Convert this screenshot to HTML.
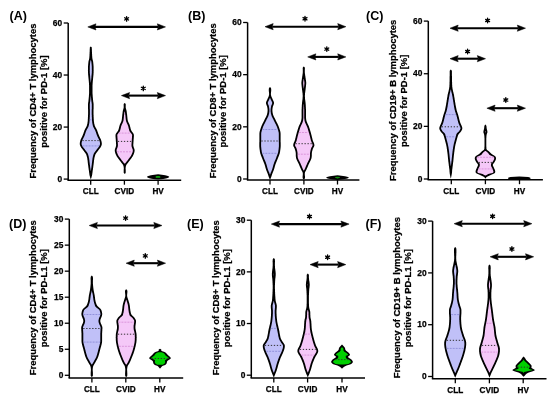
<!DOCTYPE html>
<html><head><meta charset="utf-8"><style>
html,body{margin:0;padding:0;background:#fff;}
svg{display:block;will-change:transform;}
</style></head><body>
<svg width="550" height="401" viewBox="0 0 550 401" style="font-family:'Liberation Sans', sans-serif">
<defs><filter id="bl" x="-2%" y="-2%" width="104%" height="104%"><feGaussianBlur stdDeviation="0.3"/></filter></defs>
<rect width="550" height="401" fill="#fff"/>
<g filter="url(#bl)"><text x="9.5" y="20.2" font-size="12.5" font-weight="bold">(A)</text><line x1="68.2" y1="23" x2="68.2" y2="180.2" stroke="#000" stroke-width="1.5"/><line x1="67.45" y1="180.2" x2="181.2" y2="180.2" stroke="#000" stroke-width="1.5"/><line x1="63.7" y1="179.10" x2="68.2" y2="179.10" stroke="#000" stroke-width="1.3"/><text x="62.2" y="181.85" font-size="8.4" font-weight="bold" text-anchor="end" stroke="#000" stroke-width="0.25">0</text><line x1="63.7" y1="127.07" x2="68.2" y2="127.07" stroke="#000" stroke-width="1.3"/><text x="62.2" y="129.82" font-size="8.4" font-weight="bold" text-anchor="end" stroke="#000" stroke-width="0.25">20</text><line x1="63.7" y1="75.03" x2="68.2" y2="75.03" stroke="#000" stroke-width="1.3"/><text x="62.2" y="77.78" font-size="8.4" font-weight="bold" text-anchor="end" stroke="#000" stroke-width="0.25">40</text><line x1="63.7" y1="23.00" x2="68.2" y2="23.00" stroke="#000" stroke-width="1.3"/><text x="62.2" y="25.75" font-size="8.4" font-weight="bold" text-anchor="end" stroke="#000" stroke-width="0.25">60</text><line x1="90.7" y1="180.2" x2="90.7" y2="184.7" stroke="#000" stroke-width="1.3"/><text x="90.7" y="194.2" font-size="8.2" font-weight="bold" text-anchor="middle" stroke="#000" stroke-width="0.25">CLL</text><line x1="124.4" y1="180.2" x2="124.4" y2="184.7" stroke="#000" stroke-width="1.3"/><text x="124.4" y="194.2" font-size="8.2" font-weight="bold" text-anchor="middle" stroke="#000" stroke-width="0.25">CVID</text><line x1="158.1" y1="180.2" x2="158.1" y2="184.7" stroke="#000" stroke-width="1.3"/><text x="158.1" y="194.2" font-size="8.2" font-weight="bold" text-anchor="middle" stroke="#000" stroke-width="0.25">HV</text><text transform="translate(36,101) rotate(-90)" font-size="9.45" font-weight="bold" text-anchor="middle" stroke="#000" stroke-width="0.25">Frequency of CD4+ T lymphocytes</text><text transform="translate(46.8,101.5) rotate(-90)" font-size="9.45" font-weight="bold" text-anchor="middle" stroke="#000" stroke-width="0.25">positive for PD-1 [%]</text><line x1="95.0" y1="26.9" x2="158.3" y2="26.9" stroke="#000" stroke-width="2.1"/><path d="M87.8,26.9 L96.0,23.799999999999997 L95.0,26.9 L96.0,30.0 Z" fill="#000" stroke="#000" stroke-width="0.5" stroke-linejoin="round"/><path d="M165.5,26.9 L157.3,23.799999999999997 L158.3,26.9 L157.3,30.0 Z" fill="#000" stroke="#000" stroke-width="0.5" stroke-linejoin="round"/><path d="M126.60,16.65L126.60,21.15M124.65,17.77L128.55,20.02M128.55,17.77L124.65,20.02" stroke="#000" stroke-width="1.35" stroke-linecap="round"/><circle cx="126.6" cy="18.9" r="0.9" fill="#000"/><line x1="128.6" y1="95.6" x2="158.3" y2="95.6" stroke="#000" stroke-width="2.1"/><path d="M121.4,95.6 L129.6,92.5 L128.6,95.6 L129.6,98.69999999999999 Z" fill="#000" stroke="#000" stroke-width="0.5" stroke-linejoin="round"/><path d="M165.5,95.6 L157.3,92.5 L158.3,95.6 L157.3,98.69999999999999 Z" fill="#000" stroke="#000" stroke-width="0.5" stroke-linejoin="round"/><path d="M143.30,86.15L143.30,90.65M141.35,87.28L145.25,89.53M145.25,87.28L141.35,89.53" stroke="#000" stroke-width="1.35" stroke-linecap="round"/><circle cx="143.3" cy="88.4" r="0.9" fill="#000"/><path d="M90.8,46.4L91.4,46.9L91.8,47.4L91.8,47.9L91.8,48.4L91.8,48.9L91.9,49.4L91.9,49.9L91.9,50.4L91.9,50.9L91.9,51.4L92.0,51.9L92.0,52.4L92.0,52.9L92.0,53.4L92.1,53.9L92.1,54.4L92.1,54.9L92.1,55.4L92.2,55.9L92.2,56.4L92.2,56.9L92.3,57.4L92.3,57.9L92.4,58.4L92.5,58.9L92.6,59.4L92.7,59.9L92.9,60.4L93.0,60.9L93.1,61.4L93.2,61.9L93.2,62.4L93.3,62.9L93.3,63.4L93.4,63.9L93.4,64.4L93.5,64.9L93.5,65.4L93.5,65.9L93.6,66.4L93.6,66.9L93.6,67.4L93.6,67.9L93.6,68.4L93.6,68.9L93.6,69.4L93.6,69.9L93.7,70.4L93.6,70.9L93.6,71.4L93.6,71.9L93.6,72.4L93.6,72.9L93.5,73.4L93.5,73.9L93.5,74.4L93.4,74.9L93.4,75.4L93.3,75.9L93.3,76.4L93.2,76.9L93.2,77.4L93.1,77.9L93.1,78.4L93.0,78.9L93.0,79.4L92.9,79.9L92.9,80.4L92.8,80.9L92.8,81.4L92.7,81.9L92.7,82.4L92.7,82.9L92.6,83.4L92.6,83.9L92.6,84.4L92.5,84.9L92.5,85.4L92.5,85.9L92.5,86.4L92.5,86.9L92.5,87.4L92.5,87.9L92.5,88.4L92.5,88.9L92.5,89.4L92.5,89.9L92.5,90.4L92.5,90.9L92.5,91.4L92.5,91.9L92.5,92.4L92.5,92.9L92.5,93.4L92.6,93.9L92.6,94.4L92.6,94.9L92.7,95.4L92.7,95.9L92.7,96.4L92.8,96.9L92.8,97.4L92.9,97.9L92.9,98.4L93.0,98.9L93.0,99.4L93.1,99.9L93.1,100.4L93.2,100.9L93.2,101.4L93.3,101.9L93.4,102.4L93.5,102.9L93.5,103.4L93.6,103.9L93.6,104.4L93.6,104.9L93.6,105.4L93.6,105.9L93.6,106.4L93.6,106.9L93.6,107.4L93.6,107.9L93.6,108.4L93.6,108.9L93.5,109.4L93.5,109.9L93.5,110.4L93.5,110.9L93.5,111.4L93.5,111.9L93.5,112.4L93.5,112.9L93.5,113.4L93.5,113.9L93.5,114.4L93.6,114.9L93.6,115.4L93.6,115.9L93.6,116.4L93.6,116.9L93.7,117.4L93.7,117.9L93.7,118.4L93.7,118.9L93.8,119.4L93.8,119.9L93.8,120.4L93.9,120.9L93.9,121.4L94.0,121.9L94.1,122.4L94.1,122.9L94.2,123.4L94.3,123.9L94.5,124.4L94.6,124.9L94.7,125.4L94.9,125.9L95.1,126.4L95.4,126.9L95.6,127.4L95.9,127.9L96.2,128.4L96.5,128.9L96.7,129.4L97.0,129.9L97.2,130.4L97.3,130.9L97.5,131.4L97.7,131.9L97.9,132.4L98.0,132.9L98.2,133.4L98.4,133.9L98.6,134.4L98.8,134.9L99.0,135.4L99.2,135.9L99.4,136.4L99.7,136.9L99.9,137.4L100.2,137.9L100.4,138.4L100.7,138.9L100.9,139.4L101.1,139.9L101.2,140.4L101.4,140.9L101.5,141.4L101.6,141.9L101.7,142.4L101.8,142.9L101.8,143.4L101.8,143.9L101.8,144.4L101.6,144.9L101.5,145.4L101.3,145.9L101.0,146.4L100.8,146.9L100.5,147.4L100.1,147.9L99.7,148.4L99.3,148.9L98.9,149.4L98.6,149.9L98.2,150.4L97.8,150.9L97.5,151.4L97.1,151.9L96.7,152.4L96.3,152.9L96.0,153.4L95.7,153.9L95.4,154.4L95.2,154.9L95.1,155.4L94.9,155.9L94.8,156.4L94.7,156.9L94.5,157.4L94.4,157.9L94.3,158.4L94.3,158.9L94.2,159.4L94.1,159.9L94.0,160.4L94.0,160.9L93.9,161.4L93.9,161.9L93.8,162.4L93.8,162.9L93.7,163.4L93.6,163.9L93.6,164.4L93.5,164.9L93.4,165.4L93.4,165.9L93.3,166.4L93.2,166.9L93.2,167.4L93.1,167.9L93.0,168.4L93.0,168.9L92.9,169.4L92.8,169.9L92.7,170.4L92.7,170.9L92.6,171.4L92.5,171.9L92.5,172.4L92.4,172.9L92.3,173.4L92.3,173.9L92.2,174.4L92.1,174.9L92.0,175.4L91.9,175.9L91.7,176.4L91.6,176.9L91.5,177.4L91.3,177.9L91.1,178.4L91.0,178.9L90.8,179.5L90.8,179.5L90.6,178.9L90.5,178.4L90.3,177.9L90.1,177.4L90.0,176.9L89.9,176.4L89.7,175.9L89.6,175.4L89.5,174.9L89.4,174.4L89.3,173.9L89.3,173.4L89.2,172.9L89.1,172.4L89.1,171.9L89.0,171.4L88.9,170.9L88.9,170.4L88.8,169.9L88.7,169.4L88.6,168.9L88.6,168.4L88.5,167.9L88.4,167.4L88.4,166.9L88.3,166.4L88.2,165.9L88.2,165.4L88.1,164.9L88.0,164.4L88.0,163.9L87.9,163.4L87.8,162.9L87.8,162.4L87.7,161.9L87.7,161.4L87.6,160.9L87.6,160.4L87.5,159.9L87.4,159.4L87.3,158.9L87.3,158.4L87.2,157.9L87.1,157.4L86.9,156.9L86.8,156.4L86.7,155.9L86.5,155.4L86.4,154.9L86.2,154.4L85.9,153.9L85.6,153.4L85.3,152.9L84.9,152.4L84.5,151.9L84.1,151.4L83.8,150.9L83.4,150.4L83.0,149.9L82.7,149.4L82.3,148.9L81.9,148.4L81.5,147.9L81.1,147.4L80.8,146.9L80.6,146.4L80.3,145.9L80.1,145.4L80.0,144.9L79.8,144.4L79.8,143.9L79.8,143.4L79.8,142.9L79.9,142.4L80.0,141.9L80.1,141.4L80.2,140.9L80.4,140.4L80.5,139.9L80.7,139.4L80.9,138.9L81.2,138.4L81.4,137.9L81.7,137.4L81.9,136.9L82.2,136.4L82.4,135.9L82.6,135.4L82.8,134.9L83.0,134.4L83.2,133.9L83.4,133.4L83.6,132.9L83.7,132.4L83.9,131.9L84.1,131.4L84.3,130.9L84.4,130.4L84.6,129.9L84.9,129.4L85.1,128.9L85.4,128.4L85.7,127.9L86.0,127.4L86.2,126.9L86.5,126.4L86.7,125.9L86.9,125.4L87.0,124.9L87.1,124.4L87.3,123.9L87.4,123.4L87.5,122.9L87.5,122.4L87.6,121.9L87.7,121.4L87.7,120.9L87.8,120.4L87.8,119.9L87.8,119.4L87.9,118.9L87.9,118.4L87.9,117.9L87.9,117.4L88.0,116.9L88.0,116.4L88.0,115.9L88.0,115.4L88.0,114.9L88.1,114.4L88.1,113.9L88.1,113.4L88.1,112.9L88.1,112.4L88.1,111.9L88.1,111.4L88.1,110.9L88.1,110.4L88.1,109.9L88.1,109.4L88.0,108.9L88.0,108.4L88.0,107.9L88.0,107.4L88.0,106.9L88.0,106.4L88.0,105.9L88.0,105.4L88.0,104.9L88.0,104.4L88.0,103.9L88.1,103.4L88.1,102.9L88.2,102.4L88.3,101.9L88.4,101.4L88.4,100.9L88.5,100.4L88.5,99.9L88.6,99.4L88.6,98.9L88.7,98.4L88.7,97.9L88.8,97.4L88.8,96.9L88.9,96.4L88.9,95.9L88.9,95.4L89.0,94.9L89.0,94.4L89.0,93.9L89.1,93.4L89.1,92.9L89.1,92.4L89.1,91.9L89.1,91.4L89.1,90.9L89.1,90.4L89.1,89.9L89.1,89.4L89.1,88.9L89.1,88.4L89.1,87.9L89.1,87.4L89.1,86.9L89.1,86.4L89.1,85.9L89.1,85.4L89.1,84.9L89.0,84.4L89.0,83.9L89.0,83.4L88.9,82.9L88.9,82.4L88.9,81.9L88.8,81.4L88.8,80.9L88.7,80.4L88.7,79.9L88.6,79.4L88.6,78.9L88.5,78.4L88.5,77.9L88.4,77.4L88.4,76.9L88.3,76.4L88.3,75.9L88.2,75.4L88.2,74.9L88.1,74.4L88.1,73.9L88.1,73.4L88.0,72.9L88.0,72.4L88.0,71.9L88.0,71.4L88.0,70.9L87.9,70.4L88.0,69.9L88.0,69.4L88.0,68.9L88.0,68.4L88.0,67.9L88.0,67.4L88.0,66.9L88.0,66.4L88.1,65.9L88.1,65.4L88.1,64.9L88.2,64.4L88.2,63.9L88.3,63.4L88.3,62.9L88.4,62.4L88.4,61.9L88.5,61.4L88.6,60.9L88.7,60.4L88.9,59.9L89.0,59.4L89.1,58.9L89.2,58.4L89.3,57.9L89.3,57.4L89.4,56.9L89.4,56.4L89.4,55.9L89.5,55.4L89.5,54.9L89.5,54.4L89.5,53.9L89.6,53.4L89.6,52.9L89.6,52.4L89.6,51.9L89.7,51.4L89.7,50.9L89.7,50.4L89.7,49.9L89.7,49.4L89.8,48.9L89.8,48.4L89.8,47.9L89.8,47.4L90.2,46.9L90.8,46.4Z" fill="#000"/><path d="M90.9,59.9L91.0,60.4L91.1,60.9L91.3,61.4L91.4,61.9L91.4,62.4L91.5,62.9L91.5,63.4L91.6,63.9L91.6,64.4L91.7,64.9L91.7,65.4L91.7,65.9L91.8,66.4L91.8,66.9L91.8,67.4L91.8,67.9L91.8,68.4L91.8,68.9L91.8,69.4L91.8,69.9L91.9,70.4L91.8,70.9L91.8,71.4L91.8,71.9L91.8,72.4L91.8,72.9L91.7,73.4L91.7,73.9L91.6,74.4L91.6,74.9L91.5,75.4L91.5,75.9L91.4,76.4L91.4,76.9L91.4,77.4L91.3,77.9L91.3,78.4L91.2,78.9L91.2,79.4L91.1,79.9L91.1,80.4L91.0,80.9L91.0,81.4L90.9,81.9L90.9,82.4L90.7,82.4L90.7,81.9L90.6,81.4L90.6,80.9L90.5,80.4L90.5,79.9L90.4,79.4L90.4,78.9L90.3,78.4L90.3,77.9L90.2,77.4L90.2,76.9L90.2,76.4L90.1,75.9L90.1,75.4L90.0,74.9L90.0,74.4L89.9,73.9L89.9,73.4L89.8,72.9L89.8,72.4L89.8,71.9L89.8,71.4L89.8,70.9L89.7,70.4L89.8,69.9L89.8,69.4L89.8,68.9L89.8,68.4L89.8,67.9L89.8,67.4L89.8,66.9L89.8,66.4L89.9,65.9L89.9,65.4L89.9,64.9L90.0,64.4L90.0,63.9L90.1,63.4L90.1,62.9L90.2,62.4L90.2,61.9L90.3,61.4L90.5,60.9L90.6,60.4L90.7,59.9Z" fill="#c0c0f8"/><path d="M90.9,95.4L90.9,95.9L90.9,96.4L91.0,96.9L91.0,97.4L91.1,97.9L91.1,98.4L91.1,98.9L91.2,99.4L91.2,99.9L91.3,100.4L91.4,100.9L91.4,101.4L91.5,101.9L91.6,102.4L91.6,102.9L91.7,103.4L91.8,103.9L91.8,104.4L91.8,104.9L91.8,105.4L91.8,105.9L91.8,106.4L91.8,106.9L91.8,107.4L91.8,107.9L91.8,108.4L91.8,108.9L91.7,109.4L91.7,109.9L91.7,110.4L91.7,110.9L91.7,111.4L91.7,111.9L91.7,112.4L91.7,112.9L91.7,113.4L91.7,113.9L91.7,114.4L91.8,114.9L91.8,115.4L91.8,115.9L91.8,116.4L91.8,116.9L91.9,117.4L91.9,117.9L91.9,118.4L91.9,118.9L92.0,119.4L92.0,119.9L92.0,120.4L92.1,120.9L92.1,121.4L92.2,121.9L92.2,122.4L92.3,122.9L92.4,123.4L92.5,123.9L92.6,124.4L92.7,124.9L92.8,125.4L93.0,125.9L93.1,126.4L93.3,126.9L93.6,127.4L93.9,127.9L94.1,128.4L94.4,128.9L94.7,129.4L95.0,129.9L95.2,130.4L95.4,130.9L95.6,131.4L95.8,131.9L96.0,132.4L96.1,132.9L96.3,133.4L96.5,133.9L96.6,134.4L96.8,134.9L97.0,135.4L97.2,135.9L97.4,136.4L97.7,136.9L97.9,137.4L98.2,137.9L98.4,138.4L98.7,138.9L98.9,139.4L99.2,139.9L99.3,140.4L99.5,140.9L99.7,141.4L99.8,141.9L99.9,142.4L100.0,142.9L100.0,143.4L100.0,143.9L99.9,144.4L99.8,144.9L99.5,145.4L99.3,145.9L99.0,146.4L98.7,146.9L98.3,147.4L97.9,147.9L97.5,148.4L97.0,148.9L96.7,149.4L96.4,149.9L96.0,150.4L95.6,150.9L95.2,151.4L94.8,151.9L94.5,152.4L94.1,152.9L93.9,153.4L93.6,153.9L93.5,154.4L93.3,154.9L93.2,155.4L93.0,155.9L92.9,156.4L92.8,156.9L92.7,157.4L92.6,157.9L92.5,158.4L92.4,158.9L92.4,159.4L92.3,159.9L92.2,160.4L92.2,160.9L92.1,161.4L92.1,161.9L92.0,162.4L91.9,162.9L91.9,163.4L91.8,163.9L91.8,164.4L91.7,164.9L91.6,165.4L91.6,165.9L91.5,166.4L91.4,166.9L91.4,167.4L91.3,167.9L91.2,168.4L91.1,168.9L91.1,169.4L91.0,169.9L90.9,170.4L90.9,170.9L90.7,170.9L90.7,170.4L90.6,169.9L90.5,169.4L90.5,168.9L90.4,168.4L90.3,167.9L90.2,167.4L90.2,166.9L90.1,166.4L90.0,165.9L90.0,165.4L89.9,164.9L89.8,164.4L89.8,163.9L89.7,163.4L89.7,162.9L89.6,162.4L89.5,161.9L89.5,161.4L89.4,160.9L89.4,160.4L89.3,159.9L89.2,159.4L89.2,158.9L89.1,158.4L89.0,157.9L88.9,157.4L88.8,156.9L88.7,156.4L88.6,155.9L88.4,155.4L88.3,154.9L88.1,154.4L88.0,153.9L87.7,153.4L87.5,152.9L87.1,152.4L86.8,151.9L86.4,151.4L86.0,150.9L85.6,150.4L85.2,149.9L84.9,149.4L84.6,148.9L84.1,148.4L83.7,147.9L83.3,147.4L82.9,146.9L82.6,146.4L82.3,145.9L82.1,145.4L81.8,144.9L81.7,144.4L81.6,143.9L81.6,143.4L81.6,142.9L81.7,142.4L81.8,141.9L81.9,141.4L82.1,140.9L82.3,140.4L82.4,139.9L82.7,139.4L82.9,138.9L83.2,138.4L83.4,137.9L83.7,137.4L83.9,136.9L84.2,136.4L84.4,135.9L84.6,135.4L84.8,134.9L85.0,134.4L85.1,133.9L85.3,133.4L85.5,132.9L85.6,132.4L85.8,131.9L86.0,131.4L86.2,130.9L86.4,130.4L86.6,129.9L86.9,129.4L87.2,128.9L87.5,128.4L87.7,127.9L88.0,127.4L88.3,126.9L88.5,126.4L88.6,125.9L88.8,125.4L88.9,124.9L89.0,124.4L89.1,123.9L89.2,123.4L89.3,122.9L89.4,122.4L89.4,121.9L89.5,121.4L89.5,120.9L89.6,120.4L89.6,119.9L89.6,119.4L89.7,118.9L89.7,118.4L89.7,117.9L89.7,117.4L89.8,116.9L89.8,116.4L89.8,115.9L89.8,115.4L89.8,114.9L89.9,114.4L89.9,113.9L89.9,113.4L89.9,112.9L89.9,112.4L89.9,111.9L89.9,111.4L89.9,110.9L89.9,110.4L89.9,109.9L89.9,109.4L89.8,108.9L89.8,108.4L89.8,107.9L89.8,107.4L89.8,106.9L89.8,106.4L89.8,105.9L89.8,105.4L89.8,104.9L89.8,104.4L89.8,103.9L89.9,103.4L90.0,102.9L90.0,102.4L90.1,101.9L90.2,101.4L90.2,100.9L90.3,100.4L90.4,99.9L90.4,99.4L90.5,98.9L90.5,98.4L90.5,97.9L90.6,97.4L90.6,96.9L90.7,96.4L90.7,95.9L90.7,95.4Z" fill="#c0c0f8"/><line x1="89.81" y1="119.8" x2="91.79" y2="119.8" stroke="#8c8cd8" stroke-width="0.9" stroke-dasharray="2,1"/><line x1="82.39" y1="140.6" x2="99.21" y2="140.6" stroke="#333" stroke-width="1" stroke-dasharray="1.3,1.7"/><line x1="82.52" y1="145.9" x2="99.08" y2="145.9" stroke="#8c8cd8" stroke-width="0.9" stroke-dasharray="2,1"/><path d="M124.7,102.9L125.3,103.4L125.7,103.9L125.7,104.4L125.8,104.9L125.7,105.4L125.7,105.9L125.7,106.4L125.7,106.9L125.7,107.4L125.8,107.9L125.9,108.4L126.1,108.9L126.2,109.4L126.3,109.9L126.5,110.4L126.6,110.9L126.7,111.4L126.7,111.9L126.8,112.4L126.9,112.9L126.9,113.4L127.0,113.9L127.1,114.4L127.1,114.9L127.2,115.4L127.2,115.9L127.3,116.4L127.3,116.9L127.4,117.4L127.4,117.9L127.5,118.4L127.5,118.9L127.6,119.4L127.7,119.9L127.8,120.4L127.9,120.9L128.1,121.4L128.3,121.9L128.5,122.4L128.8,122.9L129.0,123.4L129.3,123.9L129.5,124.4L129.7,124.9L129.8,125.4L130.0,125.9L130.1,126.4L130.2,126.9L130.4,127.4L130.5,127.9L130.6,128.4L130.7,128.9L130.9,129.4L131.1,129.9L131.3,130.4L131.6,130.9L131.9,131.4L132.3,131.9L132.7,132.4L133.0,132.9L133.4,133.4L133.6,133.9L133.8,134.4L133.9,134.9L133.9,135.4L133.9,135.9L133.9,136.4L133.8,136.9L133.8,137.4L133.8,137.9L133.7,138.4L133.7,138.9L133.6,139.4L133.6,139.9L133.6,140.4L133.5,140.9L133.5,141.4L133.5,141.9L133.4,142.4L133.4,142.9L133.4,143.4L133.3,143.9L133.3,144.4L133.3,144.9L133.3,145.4L133.4,145.9L133.5,146.4L133.7,146.9L133.8,147.4L134.0,147.9L134.2,148.4L134.4,148.9L134.5,149.4L134.6,149.9L134.6,150.4L134.6,150.9L134.5,151.4L134.4,151.9L134.3,152.4L134.1,152.9L134.0,153.4L133.8,153.9L133.6,154.4L133.3,154.9L133.1,155.4L132.9,155.9L132.6,156.4L132.2,156.9L131.9,157.4L131.6,157.9L131.2,158.4L130.8,158.9L130.4,159.4L130.1,159.9L129.7,160.4L129.3,160.9L128.9,161.4L128.5,161.9L128.2,162.4L127.8,162.9L127.4,163.4L127.0,163.9L126.6,164.4L126.3,164.9L126.1,165.4L126.0,165.9L125.8,166.4L125.7,166.9L125.7,167.4L125.6,167.9L125.6,168.4L125.6,168.9L125.7,169.4L125.7,169.9L125.7,170.4L125.7,170.9L125.7,171.4L125.7,171.9L125.7,172.4L125.6,172.9L125.3,173.4L124.7,173.8L124.7,173.8L124.1,173.4L123.8,172.9L123.7,172.4L123.7,171.9L123.7,171.4L123.7,170.9L123.7,170.4L123.7,169.9L123.7,169.4L123.8,168.9L123.8,168.4L123.8,167.9L123.7,167.4L123.7,166.9L123.6,166.4L123.4,165.9L123.3,165.4L123.1,164.9L122.8,164.4L122.4,163.9L122.0,163.4L121.6,162.9L121.2,162.4L120.9,161.9L120.5,161.4L120.1,160.9L119.7,160.4L119.3,159.9L119.0,159.4L118.6,158.9L118.2,158.4L117.8,157.9L117.5,157.4L117.2,156.9L116.8,156.4L116.5,155.9L116.3,155.4L116.1,154.9L115.8,154.4L115.6,153.9L115.4,153.4L115.3,152.9L115.1,152.4L115.0,151.9L114.9,151.4L114.8,150.9L114.8,150.4L114.8,149.9L114.9,149.4L115.0,148.9L115.2,148.4L115.4,147.9L115.6,147.4L115.7,146.9L115.9,146.4L116.0,145.9L116.1,145.4L116.1,144.9L116.1,144.4L116.1,143.9L116.0,143.4L116.0,142.9L116.0,142.4L115.9,141.9L115.9,141.4L115.9,140.9L115.8,140.4L115.8,139.9L115.8,139.4L115.7,138.9L115.7,138.4L115.6,137.9L115.6,137.4L115.6,136.9L115.5,136.4L115.5,135.9L115.5,135.4L115.5,134.9L115.6,134.4L115.8,133.9L116.0,133.4L116.4,132.9L116.7,132.4L117.1,131.9L117.5,131.4L117.8,130.9L118.1,130.4L118.3,129.9L118.5,129.4L118.7,128.9L118.8,128.4L118.9,127.9L119.0,127.4L119.2,126.9L119.3,126.4L119.4,125.9L119.6,125.4L119.7,124.9L119.9,124.4L120.1,123.9L120.4,123.4L120.6,122.9L120.9,122.4L121.1,121.9L121.3,121.4L121.5,120.9L121.6,120.4L121.7,119.9L121.8,119.4L121.9,118.9L121.9,118.4L122.0,117.9L122.0,117.4L122.1,116.9L122.1,116.4L122.2,115.9L122.2,115.4L122.3,114.9L122.3,114.4L122.4,113.9L122.5,113.4L122.5,112.9L122.6,112.4L122.7,111.9L122.7,111.4L122.8,110.9L122.9,110.4L123.1,109.9L123.2,109.4L123.3,108.9L123.5,108.4L123.6,107.9L123.7,107.4L123.7,106.9L123.7,106.4L123.7,105.9L123.7,105.4L123.6,104.9L123.7,104.4L123.7,103.9L124.1,103.4L124.7,102.9Z" fill="#000"/><path d="M124.8,111.4L124.9,111.9L125.0,112.4L125.1,112.9L125.1,113.4L125.2,113.9L125.2,114.4L125.3,114.9L125.4,115.4L125.4,115.9L125.5,116.4L125.5,116.9L125.6,117.4L125.6,117.9L125.7,118.4L125.7,118.9L125.8,119.4L125.9,119.9L125.9,120.4L126.0,120.9L126.2,121.4L126.4,121.9L126.6,122.4L126.8,122.9L127.0,123.4L127.3,123.9L127.5,124.4L127.8,124.9L127.9,125.4L128.1,125.9L128.3,126.4L128.4,126.9L128.5,127.4L128.6,127.9L128.7,128.4L128.9,128.9L129.0,129.4L129.1,129.9L129.3,130.4L129.4,130.9L129.7,131.4L130.0,131.9L130.4,132.4L130.8,132.9L131.3,133.4L131.6,133.9L132.0,134.4L132.1,134.9L132.1,135.4L132.1,135.9L132.0,136.4L132.0,136.9L132.0,137.4L131.9,137.9L131.9,138.4L131.9,138.9L131.8,139.4L131.8,139.9L131.8,140.4L131.7,140.9L131.7,141.4L131.7,141.9L131.6,142.4L131.6,142.9L131.6,143.4L131.5,143.9L131.5,144.4L131.5,144.9L131.5,145.4L131.5,145.9L131.6,146.4L131.8,146.9L131.9,147.4L132.1,147.9L132.3,148.4L132.5,148.9L132.7,149.4L132.8,149.9L132.8,150.4L132.8,150.9L132.7,151.4L132.6,151.9L132.4,152.4L132.2,152.9L132.0,153.4L131.8,153.9L131.6,154.4L131.4,154.9L131.1,155.4L130.8,155.9L130.5,156.4L130.1,156.9L129.7,157.4L129.3,157.9L128.9,158.4L128.6,158.9L128.2,159.4L127.9,159.9L127.5,160.4L127.1,160.9L126.6,161.4L126.3,161.9L125.9,162.4L125.5,162.9L125.1,163.4L124.3,163.4L123.9,162.9L123.5,162.4L123.1,161.9L122.8,161.4L122.3,160.9L121.9,160.4L121.5,159.9L121.2,159.4L120.8,158.9L120.5,158.4L120.1,157.9L119.7,157.4L119.3,156.9L118.9,156.4L118.6,155.9L118.3,155.4L118.0,154.9L117.8,154.4L117.6,153.9L117.4,153.4L117.2,152.9L117.0,152.4L116.8,151.9L116.7,151.4L116.6,150.9L116.6,150.4L116.6,149.9L116.7,149.4L116.9,148.9L117.1,148.4L117.3,147.9L117.5,147.4L117.6,146.9L117.8,146.4L117.9,145.9L117.9,145.4L117.9,144.9L117.9,144.4L117.9,143.9L117.8,143.4L117.8,142.9L117.8,142.4L117.7,141.9L117.7,141.4L117.7,140.9L117.6,140.4L117.6,139.9L117.6,139.4L117.5,138.9L117.5,138.4L117.5,137.9L117.4,137.4L117.4,136.9L117.4,136.4L117.3,135.9L117.3,135.4L117.3,134.9L117.4,134.4L117.8,133.9L118.1,133.4L118.6,132.9L119.0,132.4L119.4,131.9L119.7,131.4L120.0,130.9L120.1,130.4L120.3,129.9L120.4,129.4L120.5,128.9L120.7,128.4L120.8,127.9L120.9,127.4L121.0,126.9L121.1,126.4L121.3,125.9L121.5,125.4L121.6,124.9L121.9,124.4L122.1,123.9L122.4,123.4L122.6,122.9L122.8,122.4L123.0,121.9L123.2,121.4L123.4,120.9L123.5,120.4L123.5,119.9L123.6,119.4L123.7,118.9L123.7,118.4L123.8,117.9L123.8,117.4L123.9,116.9L123.9,116.4L124.0,115.9L124.0,115.4L124.1,114.9L124.2,114.4L124.2,113.9L124.3,113.4L124.3,112.9L124.4,112.4L124.5,111.9L124.6,111.4Z" fill="#f5c8f8"/><line x1="118.60" y1="133.1" x2="130.80" y2="133.1" stroke="#d890d8" stroke-width="0.9" stroke-dasharray="2,1"/><line x1="117.90" y1="141.4" x2="131.50" y2="141.4" stroke="#333" stroke-width="1" stroke-dasharray="1.3,1.7"/><line x1="116.99" y1="151.8" x2="132.41" y2="151.8" stroke="#d890d8" stroke-width="0.9" stroke-dasharray="2,1"/><path d="M158.1,174.2L161.8,174.7L165.2,175.2L167.1,175.7L168.5,176.2L169.2,176.7L169.0,177.2L168.2,177.7L166.9,178.2L164.7,178.7L161.4,179.2L158.1,179.6L158.1,179.6L154.8,179.2L151.5,178.7L149.3,178.2L148.0,177.7L147.2,177.2L147.0,176.7L147.7,176.2L149.1,175.7L151.0,175.2L154.4,174.7L158.1,174.2Z" fill="#000"/><ellipse cx="158" cy="176.9" rx="2.6" ry="0.9" fill="#10b010"/><text x="188" y="20.2" font-size="12.5" font-weight="bold">(B)</text><line x1="247.6" y1="22.5" x2="247.6" y2="180" stroke="#000" stroke-width="1.5"/><line x1="246.85" y1="180" x2="359.4" y2="180" stroke="#000" stroke-width="1.5"/><line x1="243.1" y1="179.00" x2="247.6" y2="179.00" stroke="#000" stroke-width="1.3"/><text x="241.6" y="181.75" font-size="8.4" font-weight="bold" text-anchor="end" stroke="#000" stroke-width="0.25">0</text><line x1="243.1" y1="126.83" x2="247.6" y2="126.83" stroke="#000" stroke-width="1.3"/><text x="241.6" y="129.58" font-size="8.4" font-weight="bold" text-anchor="end" stroke="#000" stroke-width="0.25">20</text><line x1="243.1" y1="74.67" x2="247.6" y2="74.67" stroke="#000" stroke-width="1.3"/><text x="241.6" y="77.42" font-size="8.4" font-weight="bold" text-anchor="end" stroke="#000" stroke-width="0.25">40</text><line x1="243.1" y1="22.50" x2="247.6" y2="22.50" stroke="#000" stroke-width="1.3"/><text x="241.6" y="25.25" font-size="8.4" font-weight="bold" text-anchor="end" stroke="#000" stroke-width="0.25">60</text><line x1="270" y1="180" x2="270" y2="184.5" stroke="#000" stroke-width="1.3"/><text x="270" y="194" font-size="8.2" font-weight="bold" text-anchor="middle" stroke="#000" stroke-width="0.25">CLL</text><line x1="303.9" y1="180" x2="303.9" y2="184.5" stroke="#000" stroke-width="1.3"/><text x="303.9" y="194" font-size="8.2" font-weight="bold" text-anchor="middle" stroke="#000" stroke-width="0.25">CVID</text><line x1="337.5" y1="180" x2="337.5" y2="184.5" stroke="#000" stroke-width="1.3"/><text x="337.5" y="194" font-size="8.2" font-weight="bold" text-anchor="middle" stroke="#000" stroke-width="0.25">HV</text><text transform="translate(215.6,100.8) rotate(-90)" font-size="9.45" font-weight="bold" text-anchor="middle" stroke="#000" stroke-width="0.25">Frequency of CD8+ T lymphocytes</text><text transform="translate(226.4,101.3) rotate(-90)" font-size="9.45" font-weight="bold" text-anchor="middle" stroke="#000" stroke-width="0.25">positive for PD-1 [%]</text><line x1="272.2" y1="26.7" x2="338.7" y2="26.7" stroke="#000" stroke-width="2.1"/><path d="M265,26.7 L273.2,23.599999999999998 L272.2,26.7 L273.2,29.8 Z" fill="#000" stroke="#000" stroke-width="0.5" stroke-linejoin="round"/><path d="M345.9,26.7 L337.7,23.599999999999998 L338.7,26.7 L337.7,29.8 Z" fill="#000" stroke="#000" stroke-width="0.5" stroke-linejoin="round"/><path d="M305.00,16.45L305.00,20.95M303.05,17.57L306.95,19.82M306.95,17.57L303.05,19.82" stroke="#000" stroke-width="1.35" stroke-linecap="round"/><circle cx="305" cy="18.7" r="0.9" fill="#000"/><line x1="314.9" y1="56.9" x2="338.7" y2="56.9" stroke="#000" stroke-width="2.1"/><path d="M307.7,56.9 L315.9,53.8 L314.9,56.9 L315.9,60.0 Z" fill="#000" stroke="#000" stroke-width="0.5" stroke-linejoin="round"/><path d="M345.9,56.9 L337.7,53.8 L338.7,56.9 L337.7,60.0 Z" fill="#000" stroke="#000" stroke-width="0.5" stroke-linejoin="round"/><path d="M326.80,46.85L326.80,51.35M324.85,47.98L328.75,50.23M328.75,47.98L324.85,50.23" stroke="#000" stroke-width="1.35" stroke-linecap="round"/><circle cx="326.8" cy="49.1" r="0.9" fill="#000"/><path d="M270.0,87.0L270.5,87.5L270.9,88.0L271.1,88.5L271.2,89.0L271.2,89.5L271.2,90.0L271.2,90.5L271.2,91.0L271.1,91.5L271.1,92.0L271.0,92.5L271.0,93.0L270.9,93.5L270.9,94.0L270.9,94.5L271.0,95.0L271.1,95.5L271.2,96.0L271.4,96.5L271.6,97.0L271.8,97.5L272.1,98.0L272.3,98.5L272.5,99.0L272.7,99.5L273.0,100.0L273.2,100.5L273.4,101.0L273.7,101.5L273.8,102.0L274.0,102.5L274.0,103.0L274.0,103.5L273.8,104.0L273.7,104.5L273.5,105.0L273.3,105.5L273.1,106.0L272.9,106.5L272.8,107.0L272.7,107.5L272.6,108.0L272.5,108.5L272.5,109.0L272.4,109.5L272.4,110.0L272.4,110.5L272.4,111.0L272.5,111.5L272.5,112.0L272.6,112.5L272.7,113.0L272.8,113.5L272.9,114.0L273.0,114.5L273.2,115.0L273.4,115.5L273.6,116.0L273.8,116.5L274.1,117.0L274.3,117.5L274.6,118.0L274.9,118.5L275.1,119.0L275.4,119.5L275.6,120.0L275.8,120.5L276.1,121.0L276.3,121.5L276.6,122.0L276.8,122.5L277.1,123.0L277.4,123.5L277.6,124.0L277.8,124.5L278.1,125.0L278.3,125.5L278.5,126.0L278.7,126.5L278.9,127.0L279.1,127.5L279.2,128.0L279.4,128.5L279.6,129.0L279.7,129.5L279.9,130.0L280.0,130.5L280.2,131.0L280.3,131.5L280.4,132.0L280.5,132.5L280.5,133.0L280.6,133.5L280.6,134.0L280.6,134.5L280.6,135.0L280.6,135.5L280.6,136.0L280.6,136.5L280.6,137.0L280.6,137.5L280.6,138.0L280.6,138.5L280.6,139.0L280.6,139.5L280.6,140.0L280.6,140.5L280.6,141.0L280.6,141.5L280.6,142.0L280.7,142.5L280.7,143.0L280.7,143.5L280.7,144.0L280.7,144.5L280.7,145.0L280.7,145.5L280.7,146.0L280.7,146.5L280.6,147.0L280.6,147.5L280.6,148.0L280.5,148.5L280.4,149.0L280.4,149.5L280.3,150.0L280.2,150.5L280.2,151.0L280.1,151.5L280.0,152.0L279.9,152.5L279.8,153.0L279.7,153.5L279.5,154.0L279.3,154.5L279.2,155.0L279.0,155.5L278.8,156.0L278.6,156.5L278.4,157.0L278.2,157.5L278.0,158.0L277.8,158.5L277.6,159.0L277.4,159.5L277.2,160.0L277.0,160.5L276.8,161.0L276.6,161.5L276.4,162.0L276.2,162.5L276.0,163.0L275.8,163.5L275.6,164.0L275.4,164.5L275.3,165.0L275.1,165.5L275.0,166.0L274.8,166.5L274.7,167.0L274.6,167.5L274.4,168.0L274.3,168.5L274.1,169.0L274.0,169.5L273.8,170.0L273.6,170.5L273.4,171.0L273.2,171.5L273.0,172.0L272.8,172.5L272.6,173.0L272.4,173.5L272.2,174.0L272.0,174.5L271.9,175.0L271.7,175.5L271.5,176.0L271.4,176.5L271.2,177.0L271.0,177.5L270.8,178.0L270.6,178.5L270.4,179.0L270.1,179.5L270.0,179.8L270.0,179.8L269.9,179.5L269.6,179.0L269.4,178.5L269.2,178.0L269.0,177.5L268.8,177.0L268.6,176.5L268.5,176.0L268.3,175.5L268.1,175.0L268.0,174.5L267.8,174.0L267.6,173.5L267.4,173.0L267.2,172.5L267.0,172.0L266.8,171.5L266.6,171.0L266.4,170.5L266.2,170.0L266.0,169.5L265.9,169.0L265.7,168.5L265.6,168.0L265.4,167.5L265.3,167.0L265.2,166.5L265.0,166.0L264.9,165.5L264.7,165.0L264.6,164.5L264.4,164.0L264.2,163.5L264.0,163.0L263.8,162.5L263.6,162.0L263.4,161.5L263.2,161.0L263.0,160.5L262.8,160.0L262.6,159.5L262.4,159.0L262.2,158.5L262.0,158.0L261.8,157.5L261.6,157.0L261.4,156.5L261.2,156.0L261.0,155.5L260.8,155.0L260.7,154.5L260.5,154.0L260.3,153.5L260.2,153.0L260.1,152.5L260.0,152.0L259.9,151.5L259.8,151.0L259.8,150.5L259.7,150.0L259.6,149.5L259.6,149.0L259.5,148.5L259.4,148.0L259.4,147.5L259.4,147.0L259.3,146.5L259.3,146.0L259.3,145.5L259.3,145.0L259.3,144.5L259.3,144.0L259.3,143.5L259.3,143.0L259.3,142.5L259.4,142.0L259.4,141.5L259.4,141.0L259.4,140.5L259.4,140.0L259.4,139.5L259.4,139.0L259.4,138.5L259.4,138.0L259.4,137.5L259.4,137.0L259.4,136.5L259.4,136.0L259.4,135.5L259.4,135.0L259.4,134.5L259.4,134.0L259.4,133.5L259.5,133.0L259.5,132.5L259.6,132.0L259.7,131.5L259.8,131.0L260.0,130.5L260.1,130.0L260.3,129.5L260.4,129.0L260.6,128.5L260.8,128.0L260.9,127.5L261.1,127.0L261.3,126.5L261.5,126.0L261.7,125.5L261.9,125.0L262.2,124.5L262.4,124.0L262.6,123.5L262.9,123.0L263.2,122.5L263.4,122.0L263.7,121.5L263.9,121.0L264.2,120.5L264.4,120.0L264.6,119.5L264.9,119.0L265.1,118.5L265.4,118.0L265.7,117.5L265.9,117.0L266.2,116.5L266.4,116.0L266.6,115.5L266.8,115.0L267.0,114.5L267.1,114.0L267.2,113.5L267.3,113.0L267.4,112.5L267.5,112.0L267.5,111.5L267.6,111.0L267.6,110.5L267.6,110.0L267.6,109.5L267.5,109.0L267.5,108.5L267.4,108.0L267.3,107.5L267.2,107.0L267.1,106.5L266.9,106.0L266.7,105.5L266.5,105.0L266.3,104.5L266.2,104.0L266.0,103.5L266.0,103.0L266.0,102.5L266.2,102.0L266.3,101.5L266.6,101.0L266.8,100.5L267.0,100.0L267.3,99.5L267.5,99.0L267.7,98.5L267.9,98.0L268.2,97.5L268.4,97.0L268.6,96.5L268.8,96.0L268.9,95.5L269.0,95.0L269.1,94.5L269.1,94.0L269.1,93.5L269.0,93.0L269.0,92.5L268.9,92.0L268.9,91.5L268.8,91.0L268.8,90.5L268.8,90.0L268.8,89.5L268.8,89.0L268.9,88.5L269.1,88.0L269.5,87.5L270.0,87.0Z" fill="#000"/><path d="M270.1,98.0L270.3,98.5L270.6,99.0L270.7,99.5L271.0,100.0L271.2,100.5L271.5,101.0L271.7,101.5L272.0,102.0L272.1,102.5L272.2,103.0L272.1,103.5L272.0,104.0L271.8,104.5L271.5,105.0L271.3,105.5L271.2,106.0L271.0,106.5L271.0,107.0L270.9,107.5L270.8,108.0L270.7,108.5L270.7,109.0L270.6,109.5L270.6,110.0L270.6,110.5L270.6,111.0L270.6,111.5L270.7,112.0L270.8,112.5L270.8,113.0L270.9,113.5L271.0,114.0L271.2,114.5L271.3,115.0L271.5,115.5L271.6,116.0L271.8,116.5L272.1,117.0L272.3,117.5L272.6,118.0L272.8,118.5L273.1,119.0L273.4,119.5L273.6,120.0L273.8,120.5L274.1,121.0L274.3,121.5L274.6,122.0L274.8,122.5L275.1,123.0L275.3,123.5L275.6,124.0L275.9,124.5L276.1,125.0L276.3,125.5L276.6,126.0L276.8,126.5L277.0,127.0L277.2,127.5L277.3,128.0L277.5,128.5L277.7,129.0L277.9,129.5L278.0,130.0L278.2,130.5L278.3,131.0L278.4,131.5L278.6,132.0L278.7,132.5L278.7,133.0L278.8,133.5L278.8,134.0L278.8,134.5L278.8,135.0L278.8,135.5L278.8,136.0L278.8,136.5L278.8,137.0L278.8,137.5L278.8,138.0L278.8,138.5L278.8,139.0L278.8,139.5L278.8,140.0L278.8,140.5L278.8,141.0L278.8,141.5L278.8,142.0L278.9,142.5L278.9,143.0L278.9,143.5L278.9,144.0L278.9,144.5L278.9,145.0L278.9,145.5L278.9,146.0L278.9,146.5L278.8,147.0L278.8,147.5L278.7,148.0L278.7,148.5L278.6,149.0L278.6,149.5L278.5,150.0L278.4,150.5L278.3,151.0L278.3,151.5L278.2,152.0L278.1,152.5L277.9,153.0L277.8,153.5L277.6,154.0L277.4,154.5L277.2,155.0L277.0,155.5L276.8,156.0L276.6,156.5L276.4,157.0L276.3,157.5L276.1,158.0L275.9,158.5L275.7,159.0L275.5,159.5L275.3,160.0L275.0,160.5L274.8,161.0L274.6,161.5L274.4,162.0L274.2,162.5L274.0,163.0L273.9,163.5L273.7,164.0L273.5,164.5L273.4,165.0L273.2,165.5L273.1,166.0L273.0,166.5L272.8,167.0L272.7,167.5L272.6,168.0L272.4,168.5L272.2,169.0L272.1,169.5L271.9,170.0L271.7,170.5L271.5,171.0L271.3,171.5L271.1,172.0L270.8,172.5L270.6,173.0L270.5,173.5L270.3,174.0L270.1,174.5L269.9,174.5L269.7,174.0L269.5,173.5L269.4,173.0L269.2,172.5L268.9,172.0L268.7,171.5L268.5,171.0L268.3,170.5L268.1,170.0L267.9,169.5L267.8,169.0L267.6,168.5L267.4,168.0L267.3,167.5L267.2,167.0L267.0,166.5L266.9,166.0L266.8,165.5L266.6,165.0L266.5,164.5L266.3,164.0L266.1,163.5L266.0,163.0L265.8,162.5L265.6,162.0L265.4,161.5L265.2,161.0L265.0,160.5L264.7,160.0L264.5,159.5L264.3,159.0L264.1,158.5L263.9,158.0L263.7,157.5L263.6,157.0L263.4,156.5L263.2,156.0L263.0,155.5L262.8,155.0L262.6,154.5L262.4,154.0L262.2,153.5L262.1,153.0L261.9,152.5L261.8,152.0L261.7,151.5L261.7,151.0L261.6,150.5L261.5,150.0L261.4,149.5L261.4,149.0L261.3,148.5L261.3,148.0L261.2,147.5L261.2,147.0L261.1,146.5L261.1,146.0L261.1,145.5L261.1,145.0L261.1,144.5L261.1,144.0L261.1,143.5L261.1,143.0L261.1,142.5L261.2,142.0L261.2,141.5L261.2,141.0L261.2,140.5L261.2,140.0L261.2,139.5L261.2,139.0L261.2,138.5L261.2,138.0L261.2,137.5L261.2,137.0L261.2,136.5L261.2,136.0L261.2,135.5L261.2,135.0L261.2,134.5L261.2,134.0L261.2,133.5L261.3,133.0L261.3,132.5L261.4,132.0L261.6,131.5L261.7,131.0L261.8,130.5L262.0,130.0L262.1,129.5L262.3,129.0L262.5,128.5L262.7,128.0L262.8,127.5L263.0,127.0L263.2,126.5L263.4,126.0L263.7,125.5L263.9,125.0L264.1,124.5L264.4,124.0L264.7,123.5L264.9,123.0L265.2,122.5L265.4,122.0L265.7,121.5L265.9,121.0L266.2,120.5L266.4,120.0L266.6,119.5L266.9,119.0L267.2,118.5L267.4,118.0L267.7,117.5L267.9,117.0L268.2,116.5L268.4,116.0L268.5,115.5L268.7,115.0L268.8,114.5L269.0,114.0L269.1,113.5L269.2,113.0L269.2,112.5L269.3,112.0L269.4,111.5L269.4,111.0L269.4,110.5L269.4,110.0L269.4,109.5L269.3,109.0L269.3,108.5L269.2,108.0L269.1,107.5L269.0,107.0L269.0,106.5L268.8,106.0L268.7,105.5L268.5,105.0L268.2,104.5L268.0,104.0L267.9,103.5L267.8,103.0L267.9,102.5L268.0,102.0L268.3,101.5L268.5,101.0L268.8,100.5L269.0,100.0L269.3,99.5L269.4,99.0L269.7,98.5L269.9,98.0Z" fill="#c0c0f8"/><line x1="262.35" y1="129.5" x2="277.65" y2="129.5" stroke="#8c8cd8" stroke-width="0.9" stroke-dasharray="2,1"/><line x1="261.38" y1="141" x2="278.62" y2="141" stroke="#333" stroke-width="1" stroke-dasharray="1.3,1.7"/><line x1="262.36" y1="153.3" x2="277.64" y2="153.3" stroke="#8c8cd8" stroke-width="0.9" stroke-dasharray="2,1"/><path d="M303.8,66.4L304.4,66.9L304.8,67.4L304.8,67.9L304.9,68.4L304.9,68.9L304.8,69.4L304.8,69.9L304.8,70.4L304.8,70.9L304.8,71.4L304.8,71.9L304.8,72.4L304.9,72.9L304.9,73.4L305.0,73.9L305.1,74.4L305.1,74.9L305.2,75.4L305.3,75.9L305.4,76.4L305.4,76.9L305.5,77.4L305.6,77.9L305.7,78.4L305.7,78.9L305.8,79.4L305.9,79.9L306.0,80.4L306.0,80.9L306.1,81.4L306.2,81.9L306.2,82.4L306.2,82.9L306.2,83.4L306.2,83.9L306.1,84.4L306.1,84.9L306.0,85.4L306.0,85.9L305.9,86.4L305.9,86.9L305.8,87.4L305.7,87.9L305.7,88.4L305.6,88.9L305.6,89.4L305.5,89.9L305.4,90.4L305.4,90.9L305.3,91.4L305.2,91.9L305.2,92.4L305.1,92.9L305.0,93.4L305.0,93.9L305.0,94.4L304.9,94.9L304.9,95.4L304.9,95.9L304.9,96.4L304.9,96.9L305.0,97.4L305.0,97.9L305.0,98.4L305.1,98.9L305.1,99.4L305.2,99.9L305.3,100.4L305.3,100.9L305.4,101.4L305.5,101.9L305.5,102.4L305.6,102.9L305.6,103.4L305.7,103.9L305.7,104.4L305.7,104.9L305.8,105.4L305.8,105.9L305.8,106.4L305.8,106.9L305.9,107.4L305.9,107.9L305.9,108.4L305.9,108.9L306.0,109.4L306.0,109.9L306.0,110.4L306.0,110.9L306.0,111.4L306.0,111.9L306.0,112.4L306.0,112.9L306.0,113.4L306.0,113.9L306.0,114.4L306.0,114.9L306.0,115.4L306.0,115.9L306.0,116.4L306.0,116.9L306.0,117.4L306.0,117.9L306.1,118.4L306.1,118.9L306.2,119.4L306.3,119.9L306.4,120.4L306.5,120.9L306.7,121.4L306.9,121.9L307.1,122.4L307.3,122.9L307.5,123.4L307.7,123.9L308.0,124.4L308.2,124.9L308.5,125.4L308.7,125.9L308.9,126.4L309.1,126.9L309.2,127.4L309.4,127.9L309.6,128.4L309.7,128.9L309.9,129.4L310.0,129.9L310.2,130.4L310.3,130.9L310.5,131.4L310.6,131.9L310.8,132.4L310.9,132.9L311.0,133.4L311.2,133.9L311.3,134.4L311.4,134.9L311.6,135.4L311.7,135.9L311.8,136.4L311.9,136.9L312.0,137.4L312.2,137.9L312.3,138.4L312.4,138.9L312.5,139.4L312.7,139.9L312.8,140.4L313.0,140.9L313.2,141.4L313.4,141.9L313.7,142.4L313.9,142.9L314.1,143.4L314.2,143.9L314.3,144.4L314.4,144.9L314.4,145.4L314.2,145.9L314.1,146.4L313.8,146.9L313.5,147.4L313.3,147.9L313.0,148.4L312.8,148.9L312.7,149.4L312.5,149.9L312.4,150.4L312.2,150.9L312.1,151.4L312.0,151.9L311.9,152.4L311.9,152.9L311.8,153.4L311.8,153.9L311.8,154.4L311.8,154.9L311.8,155.4L311.8,155.9L311.7,156.4L311.7,156.9L311.6,157.4L311.5,157.9L311.4,158.4L311.2,158.9L311.0,159.4L310.8,159.9L310.6,160.4L310.3,160.9L310.1,161.4L309.8,161.9L309.6,162.4L309.3,162.9L309.1,163.4L308.8,163.9L308.6,164.4L308.4,164.9L308.2,165.4L308.0,165.9L307.8,166.4L307.6,166.9L307.4,167.4L307.1,167.9L306.9,168.4L306.7,168.9L306.5,169.4L306.2,169.9L306.0,170.4L305.7,170.9L305.4,171.4L305.1,171.9L305.0,172.4L304.8,172.9L304.8,173.4L304.8,173.9L304.8,174.4L304.8,174.9L304.9,175.4L304.9,175.9L305.0,176.4L305.0,176.9L305.0,177.4L304.9,177.9L304.8,178.4L304.5,178.9L303.8,179.5L303.8,179.5L303.1,178.9L302.8,178.4L302.7,177.9L302.6,177.4L302.6,176.9L302.6,176.4L302.7,175.9L302.7,175.4L302.8,174.9L302.8,174.4L302.8,173.9L302.8,173.4L302.8,172.9L302.6,172.4L302.5,171.9L302.2,171.4L301.9,170.9L301.6,170.4L301.4,169.9L301.1,169.4L300.9,168.9L300.7,168.4L300.5,167.9L300.2,167.4L300.0,166.9L299.8,166.4L299.6,165.9L299.4,165.4L299.2,164.9L299.0,164.4L298.8,163.9L298.5,163.4L298.3,162.9L298.0,162.4L297.8,161.9L297.5,161.4L297.3,160.9L297.0,160.4L296.8,159.9L296.6,159.4L296.4,158.9L296.2,158.4L296.1,157.9L296.0,157.4L295.9,156.9L295.9,156.4L295.8,155.9L295.8,155.4L295.8,154.9L295.8,154.4L295.8,153.9L295.8,153.4L295.7,152.9L295.7,152.4L295.6,151.9L295.5,151.4L295.4,150.9L295.2,150.4L295.1,149.9L294.9,149.4L294.8,148.9L294.6,148.4L294.3,147.9L294.1,147.4L293.8,146.9L293.5,146.4L293.4,145.9L293.2,145.4L293.2,144.9L293.3,144.4L293.4,143.9L293.5,143.4L293.7,142.9L293.9,142.4L294.2,141.9L294.4,141.4L294.6,140.9L294.8,140.4L294.9,139.9L295.1,139.4L295.2,138.9L295.3,138.4L295.4,137.9L295.6,137.4L295.7,136.9L295.8,136.4L295.9,135.9L296.0,135.4L296.2,134.9L296.3,134.4L296.4,133.9L296.6,133.4L296.7,132.9L296.8,132.4L297.0,131.9L297.1,131.4L297.3,130.9L297.4,130.4L297.6,129.9L297.7,129.4L297.9,128.9L298.0,128.4L298.2,127.9L298.4,127.4L298.5,126.9L298.7,126.4L298.9,125.9L299.1,125.4L299.4,124.9L299.6,124.4L299.9,123.9L300.1,123.4L300.3,122.9L300.5,122.4L300.7,121.9L300.9,121.4L301.1,120.9L301.2,120.4L301.3,119.9L301.4,119.4L301.5,118.9L301.5,118.4L301.6,117.9L301.6,117.4L301.6,116.9L301.6,116.4L301.6,115.9L301.6,115.4L301.6,114.9L301.6,114.4L301.6,113.9L301.6,113.4L301.6,112.9L301.6,112.4L301.6,111.9L301.6,111.4L301.6,110.9L301.6,110.4L301.6,109.9L301.6,109.4L301.7,108.9L301.7,108.4L301.7,107.9L301.7,107.4L301.8,106.9L301.8,106.4L301.8,105.9L301.8,105.4L301.9,104.9L301.9,104.4L301.9,103.9L302.0,103.4L302.0,102.9L302.1,102.4L302.1,101.9L302.2,101.4L302.3,100.9L302.3,100.4L302.4,99.9L302.5,99.4L302.5,98.9L302.6,98.4L302.6,97.9L302.6,97.4L302.7,96.9L302.7,96.4L302.7,95.9L302.7,95.4L302.7,94.9L302.6,94.4L302.6,93.9L302.6,93.4L302.5,92.9L302.4,92.4L302.4,91.9L302.3,91.4L302.2,90.9L302.2,90.4L302.1,89.9L302.0,89.4L302.0,88.9L301.9,88.4L301.9,87.9L301.8,87.4L301.7,86.9L301.7,86.4L301.6,85.9L301.6,85.4L301.5,84.9L301.5,84.4L301.4,83.9L301.4,83.4L301.4,82.9L301.4,82.4L301.4,81.9L301.5,81.4L301.6,80.9L301.6,80.4L301.7,79.9L301.8,79.4L301.9,78.9L301.9,78.4L302.0,77.9L302.1,77.4L302.2,76.9L302.2,76.4L302.3,75.9L302.4,75.4L302.5,74.9L302.5,74.4L302.6,73.9L302.7,73.4L302.7,72.9L302.8,72.4L302.8,71.9L302.8,71.4L302.8,70.9L302.8,70.4L302.8,69.9L302.8,69.4L302.7,68.9L302.7,68.4L302.8,67.9L302.8,67.4L303.2,66.9L303.8,66.4Z" fill="#000"/><path d="M303.9,78.9L304.0,79.4L304.1,79.9L304.1,80.4L304.2,80.9L304.3,81.4L304.3,81.9L304.4,82.4L304.4,82.9L304.4,83.4L304.4,83.9L304.3,84.4L304.3,84.9L304.2,85.4L304.2,85.9L304.1,86.4L304.0,86.9L304.0,87.4L303.9,87.9L303.9,88.4L303.7,88.4L303.7,87.9L303.6,87.4L303.6,86.9L303.5,86.4L303.4,85.9L303.4,85.4L303.3,84.9L303.3,84.4L303.2,83.9L303.2,83.4L303.2,82.9L303.2,82.4L303.3,81.9L303.3,81.4L303.4,80.9L303.5,80.4L303.5,79.9L303.6,79.4L303.7,78.9Z" fill="#f5c8f8"/><path d="M303.9,103.9L303.9,104.4L303.9,104.9L304.0,105.4L304.0,105.9L304.0,106.4L304.0,106.9L304.1,107.4L304.1,107.9L304.1,108.4L304.1,108.9L304.2,109.4L304.2,109.9L304.2,110.4L304.2,110.9L304.2,111.4L304.2,111.9L304.2,112.4L304.2,112.9L304.2,113.4L304.2,113.9L304.2,114.4L304.2,114.9L304.2,115.4L304.2,115.9L304.2,116.4L304.2,116.9L304.2,117.4L304.2,117.9L304.3,118.4L304.3,118.9L304.4,119.4L304.5,119.9L304.5,120.4L304.6,120.9L304.8,121.4L304.9,121.9L305.1,122.4L305.3,122.9L305.5,123.4L305.8,123.9L306.0,124.4L306.2,124.9L306.5,125.4L306.7,125.9L306.9,126.4L307.2,126.9L307.3,127.4L307.5,127.9L307.7,128.4L307.8,128.9L308.0,129.4L308.1,129.9L308.3,130.4L308.4,130.9L308.6,131.4L308.7,131.9L308.9,132.4L309.0,132.9L309.2,133.4L309.3,133.9L309.4,134.4L309.6,134.9L309.7,135.4L309.8,135.9L310.0,136.4L310.1,136.9L310.2,137.4L310.3,137.9L310.4,138.4L310.6,138.9L310.7,139.4L310.8,139.9L310.9,140.4L311.1,140.9L311.3,141.4L311.5,141.9L311.7,142.4L311.9,142.9L312.2,143.4L312.4,143.9L312.5,144.4L312.6,144.9L312.5,145.4L312.4,145.9L312.1,146.4L311.8,146.9L311.5,147.4L311.2,147.9L311.1,148.4L310.9,148.9L310.8,149.4L310.6,149.9L310.5,150.4L310.4,150.9L310.3,151.4L310.2,151.9L310.1,152.4L310.1,152.9L310.0,153.4L310.0,153.9L310.0,154.4L310.0,154.9L310.0,155.4L310.0,155.9L309.9,156.4L309.9,156.9L309.8,157.4L309.7,157.9L309.5,158.4L309.3,158.9L309.1,159.4L308.9,159.9L308.6,160.4L308.3,160.9L308.1,161.4L307.8,161.9L307.6,162.4L307.3,162.9L307.1,163.4L306.9,163.9L306.7,164.4L306.5,164.9L306.2,165.4L306.0,165.9L305.8,166.4L305.6,166.9L305.4,167.4L305.2,167.9L305.0,168.4L304.7,168.9L304.5,169.4L304.3,169.9L303.9,170.4L303.7,170.4L303.3,169.9L303.1,169.4L302.9,168.9L302.6,168.4L302.4,167.9L302.2,167.4L302.0,166.9L301.8,166.4L301.6,165.9L301.4,165.4L301.1,164.9L300.9,164.4L300.7,163.9L300.5,163.4L300.3,162.9L300.0,162.4L299.8,161.9L299.5,161.4L299.3,160.9L299.0,160.4L298.7,159.9L298.5,159.4L298.3,158.9L298.1,158.4L297.9,157.9L297.8,157.4L297.7,156.9L297.7,156.4L297.6,155.9L297.6,155.4L297.6,154.9L297.6,154.4L297.6,153.9L297.6,153.4L297.5,152.9L297.5,152.4L297.4,151.9L297.3,151.4L297.2,150.9L297.1,150.4L297.0,149.9L296.8,149.4L296.7,148.9L296.5,148.4L296.4,147.9L296.1,147.4L295.8,146.9L295.5,146.4L295.2,145.9L295.1,145.4L295.0,144.9L295.1,144.4L295.2,143.9L295.4,143.4L295.7,142.9L295.9,142.4L296.1,141.9L296.3,141.4L296.5,140.9L296.7,140.4L296.8,139.9L296.9,139.4L297.0,138.9L297.2,138.4L297.3,137.9L297.4,137.4L297.5,136.9L297.6,136.4L297.8,135.9L297.9,135.4L298.0,134.9L298.2,134.4L298.3,133.9L298.4,133.4L298.6,132.9L298.7,132.4L298.9,131.9L299.0,131.4L299.2,130.9L299.3,130.4L299.5,129.9L299.6,129.4L299.8,128.9L299.9,128.4L300.1,127.9L300.3,127.4L300.4,126.9L300.7,126.4L300.9,125.9L301.1,125.4L301.4,124.9L301.6,124.4L301.8,123.9L302.1,123.4L302.3,122.9L302.5,122.4L302.7,121.9L302.8,121.4L303.0,120.9L303.1,120.4L303.1,119.9L303.2,119.4L303.3,118.9L303.3,118.4L303.4,117.9L303.4,117.4L303.4,116.9L303.4,116.4L303.4,115.9L303.4,115.4L303.4,114.9L303.4,114.4L303.4,113.9L303.4,113.4L303.4,112.9L303.4,112.4L303.4,111.9L303.4,111.4L303.4,110.9L303.4,110.4L303.4,109.9L303.4,109.4L303.5,108.9L303.5,108.4L303.5,107.9L303.5,107.4L303.6,106.9L303.6,106.4L303.6,105.9L303.6,105.4L303.7,104.9L303.7,104.4L303.7,103.9Z" fill="#f5c8f8"/><line x1="298.89" y1="132.5" x2="308.71" y2="132.5" stroke="#d890d8" stroke-width="0.9" stroke-dasharray="2,1"/><line x1="295.51" y1="143.7" x2="312.09" y2="143.7" stroke="#333" stroke-width="1" stroke-dasharray="1.3,1.7"/><line x1="297.79" y1="154.2" x2="309.81" y2="154.2" stroke="#d890d8" stroke-width="0.9" stroke-dasharray="2,1"/><path d="M337.5,175.3L341.3,175.8L345.0,176.3L347.1,176.8L348.5,177.3L348.8,177.8L348.0,178.3L346.4,178.8L343.3,179.3L337.5,179.9L337.5,179.9L331.7,179.3L328.6,178.8L327.0,178.3L326.2,177.8L326.5,177.3L327.9,176.8L330.0,176.3L333.7,175.8L337.5,175.3Z" fill="#000"/><ellipse cx="337.5" cy="177.6" rx="2.6" ry="0.8" fill="#109010"/><text x="366" y="20.2" font-size="12.5" font-weight="bold">(C)</text><line x1="428.3" y1="21.1" x2="428.3" y2="179.7" stroke="#000" stroke-width="1.5"/><line x1="427.55" y1="179.7" x2="542.9" y2="179.7" stroke="#000" stroke-width="1.5"/><line x1="423.8" y1="179.00" x2="428.3" y2="179.00" stroke="#000" stroke-width="1.3"/><text x="422.3" y="181.75" font-size="8.4" font-weight="bold" text-anchor="end" stroke="#000" stroke-width="0.25">0</text><line x1="423.8" y1="126.37" x2="428.3" y2="126.37" stroke="#000" stroke-width="1.3"/><text x="422.3" y="129.12" font-size="8.4" font-weight="bold" text-anchor="end" stroke="#000" stroke-width="0.25">20</text><line x1="423.8" y1="73.73" x2="428.3" y2="73.73" stroke="#000" stroke-width="1.3"/><text x="422.3" y="76.48" font-size="8.4" font-weight="bold" text-anchor="end" stroke="#000" stroke-width="0.25">40</text><line x1="423.8" y1="21.10" x2="428.3" y2="21.10" stroke="#000" stroke-width="1.3"/><text x="422.3" y="23.85" font-size="8.4" font-weight="bold" text-anchor="end" stroke="#000" stroke-width="0.25">60</text><line x1="451.3" y1="179.7" x2="451.3" y2="184.2" stroke="#000" stroke-width="1.3"/><text x="451.3" y="193.7" font-size="8.2" font-weight="bold" text-anchor="middle" stroke="#000" stroke-width="0.25">CLL</text><line x1="485.4" y1="179.7" x2="485.4" y2="184.2" stroke="#000" stroke-width="1.3"/><text x="485.4" y="193.7" font-size="8.2" font-weight="bold" text-anchor="middle" stroke="#000" stroke-width="0.25">CVID</text><line x1="519.5" y1="179.7" x2="519.5" y2="184.2" stroke="#000" stroke-width="1.3"/><text x="519.5" y="193.7" font-size="8.2" font-weight="bold" text-anchor="middle" stroke="#000" stroke-width="0.25">HV</text><text transform="translate(395.9,100.3) rotate(-90)" font-size="9.45" font-weight="bold" text-anchor="middle" stroke="#000" stroke-width="0.25">Frequency of CD19+ B lymphocytes</text><text transform="translate(406.7,100.8) rotate(-90)" font-size="9.45" font-weight="bold" text-anchor="middle" stroke="#000" stroke-width="0.25">positive for PD-1 [%]</text><line x1="457.2" y1="28.2" x2="518.3" y2="28.2" stroke="#000" stroke-width="2.1"/><path d="M450,28.2 L458.2,25.099999999999998 L457.2,28.2 L458.2,31.3 Z" fill="#000" stroke="#000" stroke-width="0.5" stroke-linejoin="round"/><path d="M525.5,28.2 L517.3,25.099999999999998 L518.3,28.2 L517.3,31.3 Z" fill="#000" stroke="#000" stroke-width="0.5" stroke-linejoin="round"/><path d="M487.60,18.25L487.60,22.75M485.65,19.38L489.55,21.62M489.55,19.38L485.65,21.62" stroke="#000" stroke-width="1.35" stroke-linecap="round"/><circle cx="487.6" cy="20.5" r="0.9" fill="#000"/><line x1="457.2" y1="58.7" x2="478.3" y2="58.7" stroke="#000" stroke-width="2.1"/><path d="M450,58.7 L458.2,55.6 L457.2,58.7 L458.2,61.800000000000004 Z" fill="#000" stroke="#000" stroke-width="0.5" stroke-linejoin="round"/><path d="M485.5,58.7 L477.3,55.6 L478.3,58.7 L477.3,61.800000000000004 Z" fill="#000" stroke="#000" stroke-width="0.5" stroke-linejoin="round"/><path d="M467.60,49.25L467.60,53.75M465.65,50.38L469.55,52.62M469.55,50.38L465.65,52.62" stroke="#000" stroke-width="1.35" stroke-linecap="round"/><circle cx="467.6" cy="51.5" r="0.9" fill="#000"/><line x1="494.09999999999997" y1="108.2" x2="518.3" y2="108.2" stroke="#000" stroke-width="2.1"/><path d="M486.9,108.2 L495.09999999999997,105.10000000000001 L494.09999999999997,108.2 L495.09999999999997,111.3 Z" fill="#000" stroke="#000" stroke-width="0.5" stroke-linejoin="round"/><path d="M525.5,108.2 L517.3,105.10000000000001 L518.3,108.2 L517.3,111.3 Z" fill="#000" stroke="#000" stroke-width="0.5" stroke-linejoin="round"/><path d="M505.80,97.75L505.80,102.25M503.85,98.88L507.75,101.12M507.75,98.88L503.85,101.12" stroke="#000" stroke-width="1.35" stroke-linecap="round"/><circle cx="505.8" cy="100" r="0.9" fill="#000"/><path d="M450.8,69.5L451.3,70.0L451.7,70.5L451.9,71.0L451.9,71.5L451.9,72.0L451.9,72.5L451.9,73.0L451.9,73.5L451.9,74.0L451.9,74.5L451.9,75.0L451.9,75.5L451.9,76.0L452.0,76.5L452.0,77.0L452.0,77.5L452.0,78.0L452.0,78.5L452.0,79.0L452.0,79.5L452.0,80.0L452.0,80.5L452.0,81.0L452.0,81.5L452.1,82.0L452.1,82.5L452.1,83.0L452.1,83.5L452.1,84.0L452.1,84.5L452.2,85.0L452.2,85.5L452.2,86.0L452.2,86.5L452.3,87.0L452.4,87.5L452.4,88.0L452.5,88.5L452.6,89.0L452.7,89.5L452.8,90.0L452.9,90.5L453.0,91.0L453.1,91.5L453.3,92.0L453.4,92.5L453.5,93.0L453.6,93.5L453.8,94.0L453.9,94.5L454.0,95.0L454.1,95.5L454.1,96.0L454.2,96.5L454.3,97.0L454.4,97.5L454.5,98.0L454.6,98.5L454.6,99.0L454.7,99.5L454.8,100.0L454.9,100.5L455.0,101.0L455.0,101.5L455.1,102.0L455.2,102.5L455.3,103.0L455.4,103.5L455.4,104.0L455.5,104.5L455.6,105.0L455.7,105.5L455.8,106.0L455.9,106.5L456.0,107.0L456.1,107.5L456.2,108.0L456.3,108.5L456.4,109.0L456.5,109.5L456.6,110.0L456.7,110.5L456.9,111.0L457.0,111.5L457.2,112.0L457.4,112.5L457.5,113.0L457.7,113.5L457.9,114.0L458.0,114.5L458.2,115.0L458.3,115.5L458.5,116.0L458.6,116.5L458.7,117.0L458.9,117.5L459.0,118.0L459.1,118.5L459.2,119.0L459.3,119.5L459.5,120.0L459.6,120.5L459.7,121.0L459.9,121.5L460.0,122.0L460.2,122.5L460.4,123.0L460.6,123.5L460.8,124.0L461.0,124.5L461.3,125.0L461.5,125.5L461.7,126.0L461.9,126.5L462.1,127.0L462.2,127.5L462.3,128.0L462.3,128.5L462.2,129.0L462.1,129.5L461.8,130.0L461.6,130.5L461.3,131.0L461.0,131.5L460.6,132.0L460.2,132.5L459.7,133.0L459.2,133.5L458.8,134.0L458.5,134.5L458.2,135.0L458.0,135.5L457.8,136.0L457.7,136.5L457.5,137.0L457.4,137.5L457.2,138.0L457.1,138.5L457.0,139.0L456.8,139.5L456.7,140.0L456.6,140.5L456.4,141.0L456.3,141.5L456.2,142.0L456.0,142.5L455.9,143.0L455.8,143.5L455.6,144.0L455.5,144.5L455.4,145.0L455.3,145.5L455.2,146.0L455.1,146.5L455.0,147.0L454.9,147.5L454.9,148.0L454.8,148.5L454.7,149.0L454.6,149.5L454.6,150.0L454.5,150.5L454.4,151.0L454.4,151.5L454.3,152.0L454.2,152.5L454.2,153.0L454.1,153.5L454.1,154.0L454.0,154.5L453.9,155.0L453.9,155.5L453.8,156.0L453.8,156.5L453.7,157.0L453.7,157.5L453.6,158.0L453.6,158.5L453.5,159.0L453.5,159.5L453.4,160.0L453.4,160.5L453.3,161.0L453.3,161.5L453.2,162.0L453.1,162.5L453.1,163.0L453.0,163.5L452.9,164.0L452.9,164.5L452.8,165.0L452.8,165.5L452.7,166.0L452.6,166.5L452.6,167.0L452.5,167.5L452.4,168.0L452.4,168.5L452.3,169.0L452.2,169.5L452.2,170.0L452.1,170.5L452.1,171.0L452.1,171.5L452.0,172.0L452.0,172.5L451.9,173.0L451.9,173.5L451.8,174.0L451.7,174.5L451.6,175.0L451.5,175.5L451.4,176.0L451.3,176.5L451.2,177.0L451.1,177.5L451.0,178.0L450.8,178.6L450.8,178.6L450.6,178.0L450.5,177.5L450.4,177.0L450.3,176.5L450.2,176.0L450.1,175.5L450.0,175.0L449.9,174.5L449.8,174.0L449.7,173.5L449.7,173.0L449.6,172.5L449.6,172.0L449.5,171.5L449.5,171.0L449.5,170.5L449.4,170.0L449.4,169.5L449.3,169.0L449.2,168.5L449.2,168.0L449.1,167.5L449.0,167.0L449.0,166.5L448.9,166.0L448.8,165.5L448.8,165.0L448.7,164.5L448.7,164.0L448.6,163.5L448.5,163.0L448.5,162.5L448.4,162.0L448.3,161.5L448.3,161.0L448.2,160.5L448.2,160.0L448.1,159.5L448.1,159.0L448.0,158.5L448.0,158.0L447.9,157.5L447.9,157.0L447.8,156.5L447.8,156.0L447.7,155.5L447.7,155.0L447.6,154.5L447.6,154.0L447.5,153.5L447.4,153.0L447.4,152.5L447.3,152.0L447.2,151.5L447.2,151.0L447.1,150.5L447.0,150.0L447.0,149.5L446.9,149.0L446.8,148.5L446.7,148.0L446.7,147.5L446.6,147.0L446.5,146.5L446.4,146.0L446.3,145.5L446.2,145.0L446.1,144.5L446.0,144.0L445.8,143.5L445.7,143.0L445.6,142.5L445.4,142.0L445.3,141.5L445.2,141.0L445.0,140.5L444.9,140.0L444.8,139.5L444.6,139.0L444.5,138.5L444.4,138.0L444.2,137.5L444.1,137.0L443.9,136.5L443.8,136.0L443.6,135.5L443.4,135.0L443.1,134.5L442.8,134.0L442.4,133.5L441.9,133.0L441.4,132.5L441.0,132.0L440.6,131.5L440.3,131.0L440.0,130.5L439.8,130.0L439.5,129.5L439.4,129.0L439.3,128.5L439.3,128.0L439.4,127.5L439.5,127.0L439.7,126.5L439.9,126.0L440.1,125.5L440.3,125.0L440.6,124.5L440.8,124.0L441.0,123.5L441.2,123.0L441.4,122.5L441.6,122.0L441.7,121.5L441.9,121.0L442.0,120.5L442.1,120.0L442.3,119.5L442.4,119.0L442.5,118.5L442.6,118.0L442.7,117.5L442.9,117.0L443.0,116.5L443.1,116.0L443.3,115.5L443.4,115.0L443.6,114.5L443.7,114.0L443.9,113.5L444.1,113.0L444.2,112.5L444.4,112.0L444.6,111.5L444.7,111.0L444.9,110.5L445.0,110.0L445.1,109.5L445.2,109.0L445.3,108.5L445.4,108.0L445.5,107.5L445.6,107.0L445.7,106.5L445.8,106.0L445.9,105.5L446.0,105.0L446.1,104.5L446.2,104.0L446.2,103.5L446.3,103.0L446.4,102.5L446.5,102.0L446.6,101.5L446.6,101.0L446.7,100.5L446.8,100.0L446.9,99.5L447.0,99.0L447.0,98.5L447.1,98.0L447.2,97.5L447.3,97.0L447.4,96.5L447.5,96.0L447.5,95.5L447.6,95.0L447.7,94.5L447.8,94.0L448.0,93.5L448.1,93.0L448.2,92.5L448.3,92.0L448.5,91.5L448.6,91.0L448.7,90.5L448.8,90.0L448.9,89.5L449.0,89.0L449.1,88.5L449.2,88.0L449.2,87.5L449.3,87.0L449.4,86.5L449.4,86.0L449.4,85.5L449.4,85.0L449.5,84.5L449.5,84.0L449.5,83.5L449.5,83.0L449.5,82.5L449.5,82.0L449.6,81.5L449.6,81.0L449.6,80.5L449.6,80.0L449.6,79.5L449.6,79.0L449.6,78.5L449.6,78.0L449.6,77.5L449.6,77.0L449.6,76.5L449.7,76.0L449.7,75.5L449.7,75.0L449.7,74.5L449.7,74.0L449.7,73.5L449.7,73.0L449.7,72.5L449.7,72.0L449.7,71.5L449.7,71.0L449.9,70.5L450.3,70.0L450.8,69.5Z" fill="#000"/><path d="M450.9,89.5L451.0,90.0L451.1,90.5L451.2,91.0L451.3,91.5L451.4,92.0L451.5,92.5L451.7,93.0L451.8,93.5L451.9,94.0L452.0,94.5L452.1,95.0L452.2,95.5L452.3,96.0L452.4,96.5L452.5,97.0L452.6,97.5L452.7,98.0L452.7,98.5L452.8,99.0L452.9,99.5L453.0,100.0L453.1,100.5L453.1,101.0L453.2,101.5L453.3,102.0L453.4,102.5L453.5,103.0L453.5,103.5L453.6,104.0L453.7,104.5L453.8,105.0L453.9,105.5L453.9,106.0L454.0,106.5L454.1,107.0L454.2,107.5L454.3,108.0L454.4,108.5L454.5,109.0L454.6,109.5L454.7,110.0L454.9,110.5L455.0,111.0L455.1,111.5L455.3,112.0L455.5,112.5L455.6,113.0L455.8,113.5L456.0,114.0L456.2,114.5L456.3,115.0L456.5,115.5L456.6,116.0L456.7,116.5L456.9,117.0L457.0,117.5L457.1,118.0L457.2,118.5L457.4,119.0L457.5,119.5L457.6,120.0L457.7,120.5L457.9,121.0L458.0,121.5L458.1,122.0L458.3,122.5L458.4,123.0L458.6,123.5L458.8,124.0L459.0,124.5L459.3,125.0L459.5,125.5L459.7,126.0L460.0,126.5L460.2,127.0L460.3,127.5L460.5,128.0L460.5,128.5L460.4,129.0L460.1,129.5L459.8,130.0L459.5,130.5L459.3,131.0L458.8,131.5L458.3,132.0L457.7,132.5L457.2,133.0L456.8,133.5L456.5,134.0L456.3,134.5L456.2,135.0L456.1,135.5L455.9,136.0L455.8,136.5L455.6,137.0L455.5,137.5L455.4,138.0L455.2,138.5L455.1,139.0L455.0,139.5L454.8,140.0L454.7,140.5L454.6,141.0L454.4,141.5L454.3,142.0L454.2,142.5L454.0,143.0L453.9,143.5L453.8,144.0L453.7,144.5L453.6,145.0L453.5,145.5L453.4,146.0L453.3,146.5L453.2,147.0L453.1,147.5L453.0,148.0L453.0,148.5L452.9,149.0L452.8,149.5L452.7,150.0L452.7,150.5L452.6,151.0L452.5,151.5L452.5,152.0L452.4,152.5L452.4,153.0L452.3,153.5L452.2,154.0L452.2,154.5L452.1,155.0L452.1,155.5L452.0,156.0L452.0,156.5L451.9,157.0L451.9,157.5L451.8,158.0L451.8,158.5L451.7,159.0L451.7,159.5L451.6,160.0L451.6,160.5L451.5,161.0L451.4,161.5L451.4,162.0L451.3,162.5L451.3,163.0L451.2,163.5L451.1,164.0L451.1,164.5L451.0,165.0L450.9,165.5L450.9,166.0L450.7,166.0L450.7,165.5L450.6,165.0L450.5,164.5L450.5,164.0L450.4,163.5L450.3,163.0L450.3,162.5L450.2,162.0L450.2,161.5L450.1,161.0L450.0,160.5L450.0,160.0L449.9,159.5L449.9,159.0L449.8,158.5L449.8,158.0L449.7,157.5L449.7,157.0L449.6,156.5L449.6,156.0L449.5,155.5L449.5,155.0L449.4,154.5L449.4,154.0L449.3,153.5L449.2,153.0L449.2,152.5L449.1,152.0L449.1,151.5L449.0,151.0L448.9,150.5L448.9,150.0L448.8,149.5L448.7,149.0L448.6,148.5L448.6,148.0L448.5,147.5L448.4,147.0L448.3,146.5L448.2,146.0L448.1,145.5L448.0,145.0L447.9,144.5L447.8,144.0L447.7,143.5L447.6,143.0L447.4,142.5L447.3,142.0L447.2,141.5L447.0,141.0L446.9,140.5L446.8,140.0L446.6,139.5L446.5,139.0L446.4,138.5L446.2,138.0L446.1,137.5L446.0,137.0L445.8,136.5L445.7,136.0L445.5,135.5L445.4,135.0L445.3,134.5L445.1,134.0L444.8,133.5L444.4,133.0L443.9,132.5L443.3,132.0L442.8,131.5L442.3,131.0L442.1,130.5L441.8,130.0L441.5,129.5L441.2,129.0L441.1,128.5L441.1,128.0L441.3,127.5L441.4,127.0L441.6,126.5L441.9,126.0L442.1,125.5L442.3,125.0L442.6,124.5L442.8,124.0L443.0,123.5L443.2,123.0L443.3,122.5L443.5,122.0L443.6,121.5L443.7,121.0L443.9,120.5L444.0,120.0L444.1,119.5L444.2,119.0L444.4,118.5L444.5,118.0L444.6,117.5L444.7,117.0L444.9,116.5L445.0,116.0L445.1,115.5L445.3,115.0L445.4,114.5L445.6,114.0L445.8,113.5L446.0,113.0L446.1,112.5L446.3,112.0L446.5,111.5L446.6,111.0L446.7,110.5L446.9,110.0L447.0,109.5L447.1,109.0L447.2,108.5L447.3,108.0L447.4,107.5L447.5,107.0L447.6,106.5L447.7,106.0L447.7,105.5L447.8,105.0L447.9,104.5L448.0,104.0L448.1,103.5L448.1,103.0L448.2,102.5L448.3,102.0L448.4,101.5L448.5,101.0L448.5,100.5L448.6,100.0L448.7,99.5L448.8,99.0L448.9,98.5L448.9,98.0L449.0,97.5L449.1,97.0L449.2,96.5L449.3,96.0L449.4,95.5L449.5,95.0L449.6,94.5L449.7,94.0L449.8,93.5L449.9,93.0L450.1,92.5L450.2,92.0L450.3,91.5L450.4,91.0L450.5,90.5L450.6,90.0L450.7,89.5Z" fill="#c0c0f8"/><line x1="445.61" y1="114.6" x2="455.99" y2="114.6" stroke="#8c8cd8" stroke-width="0.9" stroke-dasharray="2,1"/><line x1="441.71" y1="126.8" x2="459.89" y2="126.8" stroke="#333" stroke-width="1" stroke-dasharray="1.3,1.7"/><line x1="446.12" y1="136.8" x2="455.48" y2="136.8" stroke="#8c8cd8" stroke-width="0.9" stroke-dasharray="2,1"/><path d="M485.4,124.6L485.9,125.1L486.2,125.6L486.4,126.1L486.5,126.6L486.5,127.1L486.6,127.6L486.6,128.1L486.7,128.6L486.8,129.1L486.9,129.6L487.1,130.1L487.2,130.6L487.3,131.1L487.4,131.6L487.4,132.1L487.4,132.6L487.2,133.1L487.0,133.6L486.8,134.1L486.7,134.6L486.6,135.1L486.5,135.6L486.5,136.1L486.4,136.6L486.4,137.1L486.4,137.6L486.3,138.1L486.3,138.6L486.3,139.1L486.3,139.6L486.3,140.1L486.3,140.6L486.3,141.1L486.3,141.6L486.3,142.1L486.3,142.6L486.3,143.1L486.3,143.6L486.3,144.1L486.3,144.6L486.3,145.1L486.3,145.6L486.3,146.1L486.3,146.6L486.4,147.1L486.4,147.6L486.4,148.1L486.4,148.6L486.5,149.1L486.7,149.6L487.1,150.1L487.8,150.6L488.5,151.1L489.1,151.6L489.6,152.1L490.1,152.6L490.6,153.1L491.1,153.6L491.7,154.1L492.4,154.6L493.3,155.1L494.1,155.6L494.8,156.1L495.4,156.6L495.7,157.1L495.9,157.6L496.0,158.1L496.0,158.6L496.0,159.1L495.8,159.6L495.7,160.1L495.4,160.6L495.2,161.1L494.9,161.6L494.6,162.1L494.3,162.6L494.0,163.1L493.5,163.6L493.1,164.1L492.9,164.6L492.8,165.1L492.9,165.6L493.1,166.1L493.3,166.6L493.6,167.1L493.8,167.6L494.0,168.1L494.2,168.6L494.5,169.1L494.7,169.6L494.9,170.1L495.0,170.6L495.2,171.1L495.2,171.6L495.2,172.1L495.1,172.6L494.8,173.1L494.1,173.6L493.0,174.1L491.8,174.6L490.8,175.1L489.7,175.6L488.7,176.1L487.6,176.6L486.7,177.1L486.2,177.6L485.8,178.1L485.5,178.6L485.4,179.1L485.4,179.5L485.4,179.5L485.4,179.1L485.3,178.6L485.0,178.1L484.6,177.6L484.1,177.1L483.2,176.6L482.1,176.1L481.1,175.6L480.0,175.1L479.0,174.6L477.8,174.1L476.7,173.6L476.0,173.1L475.7,172.6L475.6,172.1L475.6,171.6L475.6,171.1L475.8,170.6L475.9,170.1L476.1,169.6L476.3,169.1L476.6,168.6L476.8,168.1L477.0,167.6L477.2,167.1L477.5,166.6L477.7,166.1L477.9,165.6L478.0,165.1L477.9,164.6L477.7,164.1L477.3,163.6L476.8,163.1L476.5,162.6L476.2,162.1L475.9,161.6L475.6,161.1L475.4,160.6L475.1,160.1L475.0,159.6L474.8,159.1L474.8,158.6L474.8,158.1L474.9,157.6L475.1,157.1L475.4,156.6L476.0,156.1L476.7,155.6L477.5,155.1L478.4,154.6L479.1,154.1L479.7,153.6L480.2,153.1L480.7,152.6L481.2,152.1L481.7,151.6L482.3,151.1L483.0,150.6L483.7,150.1L484.1,149.6L484.3,149.1L484.4,148.6L484.4,148.1L484.4,147.6L484.4,147.1L484.5,146.6L484.5,146.1L484.5,145.6L484.5,145.1L484.5,144.6L484.5,144.1L484.5,143.6L484.5,143.1L484.5,142.6L484.5,142.1L484.5,141.6L484.5,141.1L484.5,140.6L484.5,140.1L484.5,139.6L484.5,139.1L484.5,138.6L484.5,138.1L484.4,137.6L484.4,137.1L484.4,136.6L484.3,136.1L484.3,135.6L484.2,135.1L484.1,134.6L484.0,134.1L483.8,133.6L483.6,133.1L483.4,132.6L483.4,132.1L483.4,131.6L483.5,131.1L483.6,130.6L483.7,130.1L483.9,129.6L484.0,129.1L484.1,128.6L484.2,128.1L484.2,127.6L484.3,127.1L484.3,126.6L484.4,126.1L484.6,125.6L484.9,125.1L485.4,124.6Z" fill="#000"/><path d="M485.5,131.1L485.6,131.6L485.6,132.1L485.5,132.6L485.3,132.6L485.2,132.1L485.2,131.6L485.3,131.1Z" fill="#f5c8f8"/><path d="M485.7,151.1L486.4,151.6L487.0,152.1L487.6,152.6L488.0,153.1L488.5,153.6L488.8,154.1L489.1,154.6L489.7,155.1L490.7,155.6L491.8,156.1L493.0,156.6L493.8,157.1L494.1,157.6L494.2,158.1L494.2,158.6L494.1,159.1L494.0,159.6L493.7,160.1L493.4,160.6L493.2,161.1L492.8,161.6L492.6,162.1L492.2,162.6L491.6,163.1L491.2,163.6L491.0,164.1L491.0,164.6L491.0,165.1L491.0,165.6L491.1,166.1L491.3,166.6L491.5,167.1L491.8,167.6L492.1,168.1L492.3,168.6L492.5,169.1L492.7,169.6L492.9,170.1L493.1,170.6L493.3,171.1L493.4,171.6L493.4,172.1L493.2,172.6L492.6,173.1L490.2,173.6L488.3,174.1L487.4,174.6L486.6,175.1L485.5,175.6L485.3,175.6L484.2,175.1L483.4,174.6L482.5,174.1L480.6,173.6L478.2,173.1L477.6,172.6L477.4,172.1L477.4,171.6L477.5,171.1L477.7,170.6L477.9,170.1L478.1,169.6L478.3,169.1L478.5,168.6L478.7,168.1L479.0,167.6L479.3,167.1L479.5,166.6L479.7,166.1L479.8,165.6L479.8,165.1L479.8,164.6L479.8,164.1L479.6,163.6L479.2,163.1L478.6,162.6L478.2,162.1L478.0,161.6L477.6,161.1L477.4,160.6L477.1,160.1L476.8,159.6L476.7,159.1L476.6,158.6L476.6,158.1L476.7,157.6L477.0,157.1L477.8,156.6L479.0,156.1L480.1,155.6L481.1,155.1L481.7,154.6L482.0,154.1L482.3,153.6L482.8,153.1L483.2,152.6L483.8,152.1L484.4,151.6L485.1,151.1Z" fill="#f5c8f8"/><line x1="477.11" y1="157.3" x2="493.69" y2="157.3" stroke="#d890d8" stroke-width="0.9" stroke-dasharray="2,1"/><line x1="478.65" y1="162.4" x2="492.15" y2="162.4" stroke="#333" stroke-width="1" stroke-dasharray="1.3,1.7"/><line x1="478.58" y1="168.9" x2="492.22" y2="168.9" stroke="#d890d8" stroke-width="0.9" stroke-dasharray="2,1"/><path d="M519.3,176.4L528.1,176.9L529.9,177.4L530.6,177.9L530.6,178.4L529.7,178.9L527.4,179.4L519.3,179.8L519.3,179.8L511.2,179.4L508.9,178.9L508.0,178.4L508.0,177.9L508.7,177.4L510.5,176.9L519.3,176.4Z" fill="#000"/><text x="9" y="228.2" font-size="12.5" font-weight="bold">(D)</text><line x1="69.3" y1="219.1" x2="69.3" y2="378" stroke="#000" stroke-width="1.5"/><line x1="68.55" y1="378" x2="183.2" y2="378" stroke="#000" stroke-width="1.5"/><line x1="64.8" y1="375.30" x2="69.3" y2="375.30" stroke="#000" stroke-width="1.3"/><text x="63.3" y="378.05" font-size="8.4" font-weight="bold" text-anchor="end" stroke="#000" stroke-width="0.25">0</text><line x1="64.8" y1="349.27" x2="69.3" y2="349.27" stroke="#000" stroke-width="1.3"/><text x="63.3" y="352.02" font-size="8.4" font-weight="bold" text-anchor="end" stroke="#000" stroke-width="0.25">5</text><line x1="64.8" y1="323.23" x2="69.3" y2="323.23" stroke="#000" stroke-width="1.3"/><text x="63.3" y="325.98" font-size="8.4" font-weight="bold" text-anchor="end" stroke="#000" stroke-width="0.25">10</text><line x1="64.8" y1="297.20" x2="69.3" y2="297.20" stroke="#000" stroke-width="1.3"/><text x="63.3" y="299.95" font-size="8.4" font-weight="bold" text-anchor="end" stroke="#000" stroke-width="0.25">15</text><line x1="64.8" y1="271.17" x2="69.3" y2="271.17" stroke="#000" stroke-width="1.3"/><text x="63.3" y="273.92" font-size="8.4" font-weight="bold" text-anchor="end" stroke="#000" stroke-width="0.25">20</text><line x1="64.8" y1="245.13" x2="69.3" y2="245.13" stroke="#000" stroke-width="1.3"/><text x="63.3" y="247.88" font-size="8.4" font-weight="bold" text-anchor="end" stroke="#000" stroke-width="0.25">25</text><line x1="64.8" y1="219.10" x2="69.3" y2="219.10" stroke="#000" stroke-width="1.3"/><text x="63.3" y="221.85" font-size="8.4" font-weight="bold" text-anchor="end" stroke="#000" stroke-width="0.25">30</text><line x1="91.9" y1="378" x2="91.9" y2="382.5" stroke="#000" stroke-width="1.3"/><text x="91.9" y="392" font-size="8.2" font-weight="bold" text-anchor="middle" stroke="#000" stroke-width="0.25">CLL</text><line x1="125.8" y1="378" x2="125.8" y2="382.5" stroke="#000" stroke-width="1.3"/><text x="125.8" y="392" font-size="8.2" font-weight="bold" text-anchor="middle" stroke="#000" stroke-width="0.25">CVID</text><line x1="159.8" y1="378" x2="159.8" y2="382.5" stroke="#000" stroke-width="1.3"/><text x="159.8" y="392" font-size="8.2" font-weight="bold" text-anchor="middle" stroke="#000" stroke-width="0.25">HV</text><text transform="translate(36.2,297.7) rotate(-90)" font-size="9.45" font-weight="bold" text-anchor="middle" stroke="#000" stroke-width="0.25">Frequency of CD4+ T lymphocytes</text><text transform="translate(47.0,298.2) rotate(-90)" font-size="9.45" font-weight="bold" text-anchor="middle" stroke="#000" stroke-width="0.25">positive for PD-L1 [%]</text><line x1="96.4" y1="225.5" x2="154.8" y2="225.5" stroke="#000" stroke-width="2.1"/><path d="M89.2,225.5 L97.4,222.4 L96.4,225.5 L97.4,228.6 Z" fill="#000" stroke="#000" stroke-width="0.5" stroke-linejoin="round"/><path d="M162,225.5 L153.8,222.4 L154.8,225.5 L153.8,228.6 Z" fill="#000" stroke="#000" stroke-width="0.5" stroke-linejoin="round"/><path d="M125.60,215.85L125.60,220.35M123.65,216.97L127.55,219.22M127.55,216.97L123.65,219.22" stroke="#000" stroke-width="1.35" stroke-linecap="round"/><circle cx="125.6" cy="218.1" r="0.9" fill="#000"/><line x1="133.29999999999998" y1="263.2" x2="158.4" y2="263.2" stroke="#000" stroke-width="2.1"/><path d="M126.1,263.2 L134.29999999999998,260.09999999999997 L133.29999999999998,263.2 L134.29999999999998,266.3 Z" fill="#000" stroke="#000" stroke-width="0.5" stroke-linejoin="round"/><path d="M165.6,263.2 L157.4,260.09999999999997 L158.4,263.2 L157.4,266.3 Z" fill="#000" stroke="#000" stroke-width="0.5" stroke-linejoin="round"/><path d="M145.30,253.65L145.30,258.15M143.35,254.78L147.25,257.02M147.25,254.78L143.35,257.02" stroke="#000" stroke-width="1.35" stroke-linecap="round"/><circle cx="145.3" cy="255.9" r="0.9" fill="#000"/><path d="M91.8,275.5L92.3,276.0L92.7,276.5L92.9,277.0L92.9,277.5L93.0,278.0L93.0,278.5L93.0,279.0L93.0,279.5L92.9,280.0L92.9,280.5L92.9,281.0L92.9,281.5L92.9,282.0L92.9,282.5L92.9,283.0L92.9,283.5L92.9,284.0L93.0,284.5L93.0,285.0L93.1,285.5L93.1,286.0L93.2,286.5L93.2,287.0L93.3,287.5L93.3,288.0L93.4,288.5L93.5,289.0L93.5,289.5L93.6,290.0L93.7,290.5L93.8,291.0L93.9,291.5L94.0,292.0L94.1,292.5L94.2,293.0L94.3,293.5L94.4,294.0L94.5,294.5L94.6,295.0L94.7,295.5L94.8,296.0L94.8,296.5L94.9,297.0L95.0,297.5L95.0,298.0L95.1,298.5L95.1,299.0L95.2,299.5L95.3,300.0L95.4,300.5L95.5,301.0L95.6,301.5L95.7,302.0L95.9,302.5L96.0,303.0L96.2,303.5L96.4,304.0L96.6,304.5L96.8,305.0L97.1,305.5L97.5,306.0L98.0,306.5L98.5,307.0L99.1,307.5L99.6,308.0L100.2,308.5L100.7,309.0L101.0,309.5L101.3,310.0L101.5,310.5L101.7,311.0L101.8,311.5L101.9,312.0L102.0,312.5L102.1,313.0L102.2,313.5L102.2,314.0L102.2,314.5L102.1,315.0L102.0,315.5L101.9,316.0L101.7,316.5L101.5,317.0L101.3,317.5L101.1,318.0L100.9,318.5L100.7,319.0L100.5,319.5L100.4,320.0L100.3,320.5L100.3,321.0L100.3,321.5L100.4,322.0L100.6,322.5L100.7,323.0L100.9,323.5L101.2,324.0L101.4,324.5L101.6,325.0L101.8,325.5L102.0,326.0L102.2,326.5L102.3,327.0L102.4,327.5L102.4,328.0L102.4,328.5L102.4,329.0L102.3,329.5L102.3,330.0L102.3,330.5L102.3,331.0L102.2,331.5L102.2,332.0L102.2,332.5L102.1,333.0L102.1,333.5L102.1,334.0L102.1,334.5L102.1,335.0L102.1,335.5L102.1,336.0L102.1,336.5L102.1,337.0L102.1,337.5L102.1,338.0L102.1,338.5L102.1,339.0L102.1,339.5L102.1,340.0L102.1,340.5L102.1,341.0L102.1,341.5L102.0,342.0L102.0,342.5L101.9,343.0L101.8,343.5L101.7,344.0L101.6,344.5L101.5,345.0L101.3,345.5L101.2,346.0L101.1,346.5L100.9,347.0L100.8,347.5L100.6,348.0L100.5,348.5L100.4,349.0L100.2,349.5L100.1,350.0L100.0,350.5L99.9,351.0L99.7,351.5L99.6,352.0L99.5,352.5L99.3,353.0L99.2,353.5L99.1,354.0L98.9,354.5L98.8,355.0L98.6,355.5L98.5,356.0L98.3,356.5L98.1,357.0L97.9,357.5L97.7,358.0L97.5,358.5L97.2,359.0L97.0,359.5L96.7,360.0L96.4,360.5L96.1,361.0L95.8,361.5L95.6,362.0L95.3,362.5L95.0,363.0L94.7,363.5L94.4,364.0L94.1,364.5L93.8,365.0L93.5,365.5L93.3,366.0L93.1,366.5L93.0,367.0L92.9,367.5L92.8,368.0L92.8,368.5L92.7,369.0L92.7,369.5L92.7,370.0L92.7,370.5L92.8,371.0L92.8,371.5L92.8,372.0L92.9,372.5L92.9,373.0L92.9,373.5L92.9,374.0L92.9,374.5L92.9,375.0L92.9,375.5L92.8,376.0L92.4,376.5L91.8,377.0L91.8,377.0L91.2,376.5L90.8,376.0L90.7,375.5L90.7,375.0L90.7,374.5L90.7,374.0L90.7,373.5L90.7,373.0L90.7,372.5L90.8,372.0L90.8,371.5L90.8,371.0L90.9,370.5L90.9,370.0L90.9,369.5L90.9,369.0L90.8,368.5L90.8,368.0L90.7,367.5L90.6,367.0L90.5,366.5L90.3,366.0L90.1,365.5L89.8,365.0L89.5,364.5L89.2,364.0L88.9,363.5L88.6,363.0L88.3,362.5L88.0,362.0L87.8,361.5L87.5,361.0L87.2,360.5L86.9,360.0L86.6,359.5L86.4,359.0L86.1,358.5L85.9,358.0L85.7,357.5L85.5,357.0L85.3,356.5L85.1,356.0L85.0,355.5L84.8,355.0L84.7,354.5L84.5,354.0L84.4,353.5L84.3,353.0L84.1,352.5L84.0,352.0L83.9,351.5L83.7,351.0L83.6,350.5L83.5,350.0L83.4,349.5L83.2,349.0L83.1,348.5L83.0,348.0L82.8,347.5L82.7,347.0L82.5,346.5L82.4,346.0L82.3,345.5L82.1,345.0L82.0,344.5L81.9,344.0L81.8,343.5L81.7,343.0L81.6,342.5L81.6,342.0L81.5,341.5L81.5,341.0L81.5,340.5L81.5,340.0L81.5,339.5L81.5,339.0L81.5,338.5L81.5,338.0L81.5,337.5L81.5,337.0L81.5,336.5L81.5,336.0L81.5,335.5L81.5,335.0L81.5,334.5L81.5,334.0L81.5,333.5L81.5,333.0L81.4,332.5L81.4,332.0L81.4,331.5L81.3,331.0L81.3,330.5L81.3,330.0L81.3,329.5L81.2,329.0L81.2,328.5L81.2,328.0L81.2,327.5L81.3,327.0L81.4,326.5L81.6,326.0L81.8,325.5L82.0,325.0L82.2,324.5L82.4,324.0L82.7,323.5L82.9,323.0L83.0,322.5L83.2,322.0L83.3,321.5L83.3,321.0L83.3,320.5L83.2,320.0L83.1,319.5L82.9,319.0L82.7,318.5L82.5,318.0L82.3,317.5L82.1,317.0L81.9,316.5L81.7,316.0L81.6,315.5L81.5,315.0L81.4,314.5L81.4,314.0L81.4,313.5L81.5,313.0L81.6,312.5L81.7,312.0L81.8,311.5L81.9,311.0L82.1,310.5L82.3,310.0L82.6,309.5L82.9,309.0L83.4,308.5L84.0,308.0L84.5,307.5L85.1,307.0L85.6,306.5L86.1,306.0L86.5,305.5L86.8,305.0L87.0,304.5L87.2,304.0L87.4,303.5L87.6,303.0L87.7,302.5L87.9,302.0L88.0,301.5L88.1,301.0L88.2,300.5L88.3,300.0L88.4,299.5L88.5,299.0L88.5,298.5L88.6,298.0L88.6,297.5L88.7,297.0L88.8,296.5L88.8,296.0L88.9,295.5L89.0,295.0L89.1,294.5L89.2,294.0L89.3,293.5L89.4,293.0L89.5,292.5L89.6,292.0L89.7,291.5L89.8,291.0L89.9,290.5L90.0,290.0L90.1,289.5L90.1,289.0L90.2,288.5L90.3,288.0L90.3,287.5L90.4,287.0L90.4,286.5L90.5,286.0L90.5,285.5L90.6,285.0L90.6,284.5L90.7,284.0L90.7,283.5L90.7,283.0L90.7,282.5L90.7,282.0L90.7,281.5L90.7,281.0L90.7,280.5L90.7,280.0L90.6,279.5L90.6,279.0L90.6,278.5L90.6,278.0L90.7,277.5L90.7,277.0L90.9,276.5L91.3,276.0L91.8,275.5Z" fill="#000"/><path d="M91.9,290.5L91.9,291.0L92.0,291.5L92.1,292.0L92.2,292.5L92.4,293.0L92.5,293.5L92.6,294.0L92.7,294.5L92.8,295.0L92.9,295.5L92.9,296.0L93.0,296.5L93.1,297.0L93.1,297.5L93.2,298.0L93.3,298.5L93.3,299.0L93.4,299.5L93.5,300.0L93.6,300.5L93.6,301.0L93.8,301.5L93.9,302.0L94.0,302.5L94.1,303.0L94.3,303.5L94.5,304.0L94.6,304.5L94.8,305.0L94.9,305.5L95.1,306.0L95.4,306.5L95.8,307.0L96.3,307.5L97.0,308.0L97.6,308.5L98.3,309.0L98.9,309.5L99.4,310.0L99.6,310.5L99.8,311.0L99.9,311.5L100.1,312.0L100.2,312.5L100.3,313.0L100.4,313.5L100.4,314.0L100.4,314.5L100.3,315.0L100.1,315.5L100.0,316.0L99.8,316.5L99.5,317.0L99.3,317.5L99.1,318.0L98.9,318.5L98.8,319.0L98.7,319.5L98.6,320.0L98.5,320.5L98.5,321.0L98.5,321.5L98.6,322.0L98.7,322.5L98.8,323.0L99.0,323.5L99.2,324.0L99.4,324.5L99.6,325.0L99.9,325.5L100.1,326.0L100.3,326.5L100.5,327.0L100.6,327.5L100.6,328.0L100.6,328.5L100.6,329.0L100.5,329.5L100.5,330.0L100.5,330.5L100.5,331.0L100.4,331.5L100.4,332.0L100.4,332.5L100.3,333.0L100.3,333.5L100.3,334.0L100.3,334.5L100.3,335.0L100.3,335.5L100.3,336.0L100.3,336.5L100.3,337.0L100.3,337.5L100.3,338.0L100.3,338.5L100.3,339.0L100.3,339.5L100.3,340.0L100.3,340.5L100.3,341.0L100.3,341.5L100.2,342.0L100.1,342.5L100.1,343.0L100.0,343.5L99.8,344.0L99.7,344.5L99.6,345.0L99.5,345.5L99.3,346.0L99.2,346.5L99.0,347.0L98.9,347.5L98.8,348.0L98.6,348.5L98.5,349.0L98.4,349.5L98.2,350.0L98.1,350.5L98.0,351.0L97.9,351.5L97.7,352.0L97.6,352.5L97.5,353.0L97.3,353.5L97.2,354.0L97.0,354.5L96.9,355.0L96.7,355.5L96.6,356.0L96.4,356.5L96.2,357.0L96.0,357.5L95.7,358.0L95.5,358.5L95.2,359.0L94.9,359.5L94.6,360.0L94.3,360.5L94.1,361.0L93.8,361.5L93.5,362.0L93.2,362.5L93.0,363.0L92.6,363.5L92.3,364.0L92.0,364.5L91.6,364.5L91.3,364.0L91.0,363.5L90.6,363.0L90.4,362.5L90.1,362.0L89.8,361.5L89.5,361.0L89.3,360.5L89.0,360.0L88.7,359.5L88.4,359.0L88.1,358.5L87.9,358.0L87.6,357.5L87.4,357.0L87.2,356.5L87.0,356.0L86.9,355.5L86.7,355.0L86.6,354.5L86.4,354.0L86.3,353.5L86.1,353.0L86.0,352.5L85.9,352.0L85.7,351.5L85.6,351.0L85.5,350.5L85.4,350.0L85.2,349.5L85.1,349.0L85.0,348.5L84.8,348.0L84.7,347.5L84.6,347.0L84.4,346.5L84.3,346.0L84.1,345.5L84.0,345.0L83.9,344.5L83.8,344.0L83.6,343.5L83.5,343.0L83.5,342.5L83.4,342.0L83.3,341.5L83.3,341.0L83.3,340.5L83.3,340.0L83.3,339.5L83.3,339.0L83.3,338.5L83.3,338.0L83.3,337.5L83.3,337.0L83.3,336.5L83.3,336.0L83.3,335.5L83.3,335.0L83.3,334.5L83.3,334.0L83.3,333.5L83.3,333.0L83.2,332.5L83.2,332.0L83.2,331.5L83.1,331.0L83.1,330.5L83.1,330.0L83.1,329.5L83.0,329.0L83.0,328.5L83.0,328.0L83.0,327.5L83.1,327.0L83.3,326.5L83.5,326.0L83.7,325.5L84.0,325.0L84.2,324.5L84.4,324.0L84.6,323.5L84.8,323.0L84.9,322.5L85.0,322.0L85.1,321.5L85.1,321.0L85.1,320.5L85.0,320.0L84.9,319.5L84.8,319.0L84.7,318.5L84.5,318.0L84.3,317.5L84.1,317.0L83.8,316.5L83.6,316.0L83.5,315.5L83.3,315.0L83.2,314.5L83.2,314.0L83.2,313.5L83.3,313.0L83.4,312.5L83.5,312.0L83.7,311.5L83.8,311.0L84.0,310.5L84.2,310.0L84.7,309.5L85.3,309.0L86.0,308.5L86.6,308.0L87.3,307.5L87.8,307.0L88.2,306.5L88.5,306.0L88.7,305.5L88.8,305.0L89.0,304.5L89.1,304.0L89.3,303.5L89.5,303.0L89.6,302.5L89.7,302.0L89.8,301.5L90.0,301.0L90.0,300.5L90.1,300.0L90.2,299.5L90.3,299.0L90.3,298.5L90.4,298.0L90.5,297.5L90.5,297.0L90.6,296.5L90.7,296.0L90.7,295.5L90.8,295.0L90.9,294.5L91.0,294.0L91.1,293.5L91.2,293.0L91.4,292.5L91.5,292.0L91.6,291.5L91.7,291.0L91.7,290.5Z" fill="#c0c0f8"/><line x1="83.45" y1="314.5" x2="100.15" y2="314.5" stroke="#8c8cd8" stroke-width="0.9" stroke-dasharray="2,1"/><line x1="83.21" y1="328.5" x2="100.39" y2="328.5" stroke="#333" stroke-width="1" stroke-dasharray="1.3,1.7"/><line x1="83.60" y1="342.1" x2="100.00" y2="342.1" stroke="#8c8cd8" stroke-width="0.9" stroke-dasharray="2,1"/><path d="M126.2,289.2L126.8,289.7L127.2,290.2L127.3,290.7L127.4,291.2L127.4,291.7L127.4,292.2L127.3,292.7L127.3,293.2L127.2,293.7L127.2,294.2L127.1,294.7L127.1,295.2L127.1,295.7L127.2,296.2L127.2,296.7L127.4,297.2L127.5,297.7L127.7,298.2L127.9,298.7L128.0,299.2L128.2,299.7L128.4,300.2L128.5,300.7L128.7,301.2L128.8,301.7L129.0,302.2L129.1,302.7L129.3,303.2L129.4,303.7L129.5,304.2L129.6,304.7L129.7,305.2L129.8,305.7L129.9,306.2L129.9,306.7L130.0,307.2L130.0,307.7L130.1,308.2L130.1,308.7L130.2,309.2L130.3,309.7L130.3,310.2L130.4,310.7L130.5,311.2L130.6,311.7L130.7,312.2L130.8,312.7L130.9,313.2L131.1,313.7L131.3,314.2L131.6,314.7L132.0,315.2L132.5,315.7L133.0,316.2L133.6,316.7L134.1,317.2L134.5,317.7L134.8,318.2L135.1,318.7L135.4,319.2L135.7,319.7L135.9,320.2L136.0,320.7L136.0,321.2L136.0,321.7L136.0,322.2L135.9,322.7L135.8,323.2L135.8,323.7L135.7,324.2L135.6,324.7L135.5,325.2L135.5,325.7L135.4,326.2L135.4,326.7L135.4,327.2L135.4,327.7L135.4,328.2L135.5,328.7L135.6,329.2L135.7,329.7L135.8,330.2L135.9,330.7L136.0,331.2L136.1,331.7L136.2,332.2L136.3,332.7L136.4,333.2L136.5,333.7L136.5,334.2L136.6,334.7L136.6,335.2L136.6,335.7L136.6,336.2L136.6,336.7L136.7,337.2L136.7,337.7L136.6,338.2L136.6,338.7L136.6,339.2L136.6,339.7L136.6,340.2L136.5,340.7L136.5,341.2L136.4,341.7L136.4,342.2L136.3,342.7L136.2,343.2L136.1,343.7L136.0,344.2L135.9,344.7L135.8,345.2L135.7,345.7L135.6,346.2L135.5,346.7L135.3,347.2L135.2,347.7L135.1,348.2L135.0,348.7L134.8,349.2L134.7,349.7L134.5,350.2L134.4,350.7L134.2,351.2L134.1,351.7L133.9,352.2L133.7,352.7L133.6,353.2L133.4,353.7L133.2,354.2L133.0,354.7L132.8,355.2L132.6,355.7L132.4,356.2L132.2,356.7L132.0,357.2L131.8,357.7L131.6,358.2L131.4,358.7L131.2,359.2L131.0,359.7L130.8,360.2L130.6,360.7L130.4,361.2L130.1,361.7L129.9,362.2L129.6,362.7L129.4,363.2L129.1,363.7L128.8,364.2L128.4,364.7L128.1,365.2L127.8,365.7L127.6,366.2L127.5,366.7L127.4,367.2L127.3,367.7L127.2,368.2L127.2,368.7L127.1,369.2L127.1,369.7L127.1,370.2L127.2,370.7L127.2,371.2L127.2,371.7L127.2,372.2L127.3,372.7L127.3,373.2L127.3,373.7L127.3,374.2L127.3,374.7L127.3,375.2L127.2,375.7L127.1,376.2L126.6,376.7L126.2,377.0L126.2,377.0L125.8,376.7L125.3,376.2L125.2,375.7L125.1,375.2L125.1,374.7L125.1,374.2L125.1,373.7L125.1,373.2L125.1,372.7L125.2,372.2L125.2,371.7L125.2,371.2L125.2,370.7L125.3,370.2L125.3,369.7L125.3,369.2L125.2,368.7L125.2,368.2L125.1,367.7L125.0,367.2L124.9,366.7L124.8,366.2L124.6,365.7L124.3,365.2L124.0,364.7L123.6,364.2L123.3,363.7L123.0,363.2L122.8,362.7L122.5,362.2L122.3,361.7L122.0,361.2L121.8,360.7L121.6,360.2L121.4,359.7L121.2,359.2L121.0,358.7L120.8,358.2L120.6,357.7L120.4,357.2L120.2,356.7L120.0,356.2L119.8,355.7L119.6,355.2L119.4,354.7L119.2,354.2L119.0,353.7L118.8,353.2L118.7,352.7L118.5,352.2L118.3,351.7L118.2,351.2L118.0,350.7L117.9,350.2L117.7,349.7L117.6,349.2L117.4,348.7L117.3,348.2L117.2,347.7L117.1,347.2L116.9,346.7L116.8,346.2L116.7,345.7L116.6,345.2L116.5,344.7L116.4,344.2L116.3,343.7L116.2,343.2L116.1,342.7L116.0,342.2L116.0,341.7L115.9,341.2L115.9,340.7L115.8,340.2L115.8,339.7L115.8,339.2L115.8,338.7L115.8,338.2L115.7,337.7L115.7,337.2L115.8,336.7L115.8,336.2L115.8,335.7L115.8,335.2L115.8,334.7L115.9,334.2L115.9,333.7L116.0,333.2L116.1,332.7L116.2,332.2L116.3,331.7L116.4,331.2L116.5,330.7L116.6,330.2L116.7,329.7L116.8,329.2L116.9,328.7L117.0,328.2L117.0,327.7L117.0,327.2L117.0,326.7L117.0,326.2L116.9,325.7L116.9,325.2L116.8,324.7L116.7,324.2L116.6,323.7L116.6,323.2L116.5,322.7L116.4,322.2L116.4,321.7L116.4,321.2L116.4,320.7L116.5,320.2L116.7,319.7L117.0,319.2L117.3,318.7L117.6,318.2L117.9,317.7L118.3,317.2L118.8,316.7L119.4,316.2L119.9,315.7L120.4,315.2L120.8,314.7L121.1,314.2L121.3,313.7L121.5,313.2L121.6,312.7L121.7,312.2L121.8,311.7L121.9,311.2L122.0,310.7L122.1,310.2L122.1,309.7L122.2,309.2L122.3,308.7L122.3,308.2L122.4,307.7L122.4,307.2L122.5,306.7L122.5,306.2L122.6,305.7L122.7,305.2L122.8,304.7L122.9,304.2L123.0,303.7L123.1,303.2L123.3,302.7L123.4,302.2L123.6,301.7L123.7,301.2L123.9,300.7L124.0,300.2L124.2,299.7L124.4,299.2L124.5,298.7L124.7,298.2L124.9,297.7L125.0,297.2L125.2,296.7L125.2,296.2L125.3,295.7L125.3,295.2L125.3,294.7L125.2,294.2L125.2,293.7L125.1,293.2L125.1,292.7L125.0,292.2L125.0,291.7L125.0,291.2L125.1,290.7L125.2,290.2L125.6,289.7L126.2,289.2Z" fill="#000"/><path d="M126.3,299.7L126.5,300.2L126.6,300.7L126.8,301.2L126.9,301.7L127.1,302.2L127.3,302.7L127.4,303.2L127.5,303.7L127.7,304.2L127.8,304.7L127.9,305.2L128.0,305.7L128.1,306.2L128.1,306.7L128.2,307.2L128.2,307.7L128.3,308.2L128.3,308.7L128.4,309.2L128.4,309.7L128.5,310.2L128.6,310.7L128.7,311.2L128.7,311.7L128.8,312.2L128.9,312.7L129.1,313.2L129.2,313.7L129.3,314.2L129.4,314.7L129.6,315.2L129.9,315.7L130.4,316.2L131.0,316.7L131.6,317.2L132.3,317.7L132.7,318.2L133.0,318.7L133.4,319.2L133.7,319.7L134.0,320.2L134.2,320.7L134.2,321.2L134.2,321.7L134.2,322.2L134.1,322.7L134.0,323.2L133.9,323.7L133.9,324.2L133.8,324.7L133.7,325.2L133.6,325.7L133.6,326.2L133.6,326.7L133.6,327.2L133.6,327.7L133.6,328.2L133.7,328.7L133.7,329.2L133.8,329.7L133.9,330.2L134.0,330.7L134.2,331.2L134.3,331.7L134.4,332.2L134.5,332.7L134.6,333.2L134.7,333.7L134.7,334.2L134.8,334.7L134.8,335.2L134.8,335.7L134.8,336.2L134.8,336.7L134.9,337.2L134.9,337.7L134.8,338.2L134.8,338.7L134.8,339.2L134.8,339.7L134.8,340.2L134.7,340.7L134.7,341.2L134.6,341.7L134.6,342.2L134.5,342.7L134.4,343.2L134.3,343.7L134.2,344.2L134.1,344.7L134.0,345.2L133.9,345.7L133.7,346.2L133.6,346.7L133.5,347.2L133.4,347.7L133.2,348.2L133.1,348.7L133.0,349.2L132.8,349.7L132.7,350.2L132.5,350.7L132.4,351.2L132.2,351.7L132.0,352.2L131.8,352.7L131.6,353.2L131.5,353.7L131.3,354.2L131.1,354.7L130.9,355.2L130.7,355.7L130.5,356.2L130.3,356.7L130.1,357.2L129.9,357.7L129.7,358.2L129.5,358.7L129.3,359.2L129.1,359.7L128.8,360.2L128.6,360.7L128.4,361.2L128.1,361.7L127.9,362.2L127.6,362.7L127.3,363.2L127.0,363.7L126.6,364.2L126.3,364.7L126.1,364.7L125.8,364.2L125.4,363.7L125.1,363.2L124.8,362.7L124.5,362.2L124.3,361.7L124.0,361.2L123.8,360.7L123.6,360.2L123.3,359.7L123.1,359.2L122.9,358.7L122.7,358.2L122.5,357.7L122.3,357.2L122.1,356.7L121.9,356.2L121.7,355.7L121.5,355.2L121.3,354.7L121.1,354.2L120.9,353.7L120.8,353.2L120.6,352.7L120.4,352.2L120.2,351.7L120.0,351.2L119.9,350.7L119.7,350.2L119.6,349.7L119.4,349.2L119.3,348.7L119.2,348.2L119.0,347.7L118.9,347.2L118.8,346.7L118.7,346.2L118.5,345.7L118.4,345.2L118.3,344.7L118.2,344.2L118.1,343.7L118.0,343.2L117.9,342.7L117.8,342.2L117.8,341.7L117.7,341.2L117.7,340.7L117.6,340.2L117.6,339.7L117.6,339.2L117.6,338.7L117.6,338.2L117.5,337.7L117.5,337.2L117.6,336.7L117.6,336.2L117.6,335.7L117.6,335.2L117.6,334.7L117.7,334.2L117.7,333.7L117.8,333.2L117.9,332.7L118.0,332.2L118.1,331.7L118.2,331.2L118.4,330.7L118.5,330.2L118.6,329.7L118.7,329.2L118.7,328.7L118.8,328.2L118.8,327.7L118.8,327.2L118.8,326.7L118.8,326.2L118.8,325.7L118.7,325.2L118.6,324.7L118.5,324.2L118.5,323.7L118.4,323.2L118.3,322.7L118.2,322.2L118.2,321.7L118.2,321.2L118.2,320.7L118.4,320.2L118.7,319.7L119.0,319.2L119.4,318.7L119.7,318.2L120.1,317.7L120.8,317.2L121.4,316.7L122.0,316.2L122.5,315.7L122.8,315.2L123.0,314.7L123.1,314.2L123.2,313.7L123.3,313.2L123.5,312.7L123.6,312.2L123.7,311.7L123.7,311.2L123.8,310.7L123.9,310.2L124.0,309.7L124.0,309.2L124.1,308.7L124.1,308.2L124.2,307.7L124.2,307.2L124.3,306.7L124.3,306.2L124.4,305.7L124.5,305.2L124.6,304.7L124.7,304.2L124.9,303.7L125.0,303.2L125.1,302.7L125.3,302.2L125.5,301.7L125.6,301.2L125.8,300.7L125.9,300.2L126.1,299.7Z" fill="#f5c8f8"/><line x1="118.45" y1="322.2" x2="133.95" y2="322.2" stroke="#d890d8" stroke-width="0.9" stroke-dasharray="2,1"/><line x1="117.89" y1="334.2" x2="134.51" y2="334.2" stroke="#333" stroke-width="1" stroke-dasharray="1.3,1.7"/><line x1="118.88" y1="346.3" x2="133.52" y2="346.3" stroke="#d890d8" stroke-width="0.9" stroke-dasharray="2,1"/><path d="M160.0,348.8L160.9,349.3L161.4,349.8L161.3,350.3L161.3,350.8L162.2,351.3L164.0,351.8L165.0,352.3L165.8,352.8L166.3,353.3L166.7,353.8L167.2,354.3L167.6,354.8L168.1,355.3L168.7,355.8L169.3,356.3L169.8,356.8L170.3,357.3L170.7,357.8L170.8,358.3L170.5,358.8L169.8,359.3L169.1,359.8L168.3,360.3L167.6,360.8L167.2,361.3L167.0,361.8L166.9,362.3L166.8,362.8L166.7,363.3L166.4,363.8L166.0,364.3L165.5,364.8L164.5,365.3L162.9,365.8L162.1,366.3L161.6,366.8L161.2,367.3L160.8,367.8L160.3,368.3L160.0,368.7L160.0,368.7L159.7,368.3L159.2,367.8L158.8,367.3L158.4,366.8L157.9,366.3L157.1,365.8L155.5,365.3L154.5,364.8L154.0,364.3L153.6,363.8L153.3,363.3L153.2,362.8L153.1,362.3L153.0,361.8L152.8,361.3L152.4,360.8L151.7,360.3L150.9,359.8L150.2,359.3L149.5,358.8L149.2,358.3L149.3,357.8L149.7,357.3L150.2,356.8L150.7,356.3L151.3,355.8L151.9,355.3L152.4,354.8L152.8,354.3L153.3,353.8L153.7,353.3L154.2,352.8L155.0,352.3L156.0,351.8L157.8,351.3L158.7,350.8L158.7,350.3L158.6,349.8L159.1,349.3L160.0,348.8Z" fill="#000"/><path d="M161.5,352.3L162.9,352.8L163.8,353.3L164.4,353.8L164.8,354.3L165.1,354.8L165.4,355.3L165.9,355.8L166.6,356.3L167.3,356.8L167.8,357.3L168.6,357.8L169.0,358.3L167.7,358.8L166.6,359.3L165.8,359.8L165.0,360.3L164.9,360.8L165.1,361.3L165.1,361.8L165.1,362.3L165.0,362.8L164.8,363.3L164.2,363.8L163.5,364.3L162.6,364.8L157.4,364.8L156.5,364.3L155.8,363.8L155.2,363.3L155.0,362.8L154.9,362.3L154.9,361.8L154.9,361.3L155.1,360.8L155.0,360.3L154.2,359.8L153.4,359.3L152.3,358.8L151.0,358.3L151.4,357.8L152.2,357.3L152.7,356.8L153.4,356.3L154.1,355.8L154.6,355.3L154.9,354.8L155.2,354.3L155.6,353.8L156.2,353.3L157.1,352.8L158.5,352.3Z" fill="#00d000"/><line x1="151.72" y1="358.5" x2="168.28" y2="358.5" stroke="#333" stroke-width="1" stroke-dasharray="1.3,1.7"/><text x="187" y="228.2" font-size="12.5" font-weight="bold">(E)</text><line x1="251.3" y1="220.2" x2="251.3" y2="378" stroke="#000" stroke-width="1.5"/><line x1="250.55" y1="378" x2="365" y2="378" stroke="#000" stroke-width="1.5"/><line x1="246.8" y1="375.20" x2="251.3" y2="375.20" stroke="#000" stroke-width="1.3"/><text x="245.3" y="377.95" font-size="8.4" font-weight="bold" text-anchor="end" stroke="#000" stroke-width="0.25">0</text><line x1="246.8" y1="323.53" x2="251.3" y2="323.53" stroke="#000" stroke-width="1.3"/><text x="245.3" y="326.28" font-size="8.4" font-weight="bold" text-anchor="end" stroke="#000" stroke-width="0.25">10</text><line x1="246.8" y1="271.87" x2="251.3" y2="271.87" stroke="#000" stroke-width="1.3"/><text x="245.3" y="274.62" font-size="8.4" font-weight="bold" text-anchor="end" stroke="#000" stroke-width="0.25">20</text><line x1="246.8" y1="220.20" x2="251.3" y2="220.20" stroke="#000" stroke-width="1.3"/><text x="245.3" y="222.95" font-size="8.4" font-weight="bold" text-anchor="end" stroke="#000" stroke-width="0.25">30</text><line x1="273.8" y1="378" x2="273.8" y2="382.5" stroke="#000" stroke-width="1.3"/><text x="273.8" y="392" font-size="8.2" font-weight="bold" text-anchor="middle" stroke="#000" stroke-width="0.25">CLL</text><line x1="307.6" y1="378" x2="307.6" y2="382.5" stroke="#000" stroke-width="1.3"/><text x="307.6" y="392" font-size="8.2" font-weight="bold" text-anchor="middle" stroke="#000" stroke-width="0.25">CVID</text><line x1="342" y1="378" x2="342" y2="382.5" stroke="#000" stroke-width="1.3"/><text x="342" y="392" font-size="8.2" font-weight="bold" text-anchor="middle" stroke="#000" stroke-width="0.25">HV</text><text transform="translate(219,297.7) rotate(-90)" font-size="9.45" font-weight="bold" text-anchor="middle" stroke="#000" stroke-width="0.25">Frequency of CD8+ T lymphocytes</text><text transform="translate(229.8,298.2) rotate(-90)" font-size="9.45" font-weight="bold" text-anchor="middle" stroke="#000" stroke-width="0.25">positive for PD-L1 [%]</text><line x1="278.5" y1="224.1" x2="341.90000000000003" y2="224.1" stroke="#000" stroke-width="2.1"/><path d="M271.3,224.1 L279.5,221.0 L278.5,224.1 L279.5,227.2 Z" fill="#000" stroke="#000" stroke-width="0.5" stroke-linejoin="round"/><path d="M349.1,224.1 L340.90000000000003,221.0 L341.90000000000003,224.1 L340.90000000000003,227.2 Z" fill="#000" stroke="#000" stroke-width="0.5" stroke-linejoin="round"/><path d="M309.50,214.25L309.50,218.75M307.55,215.38L311.45,217.62M311.45,215.38L307.55,217.62" stroke="#000" stroke-width="1.35" stroke-linecap="round"/><circle cx="309.5" cy="216.5" r="0.9" fill="#000"/><line x1="317.2" y1="264.6" x2="338.6" y2="264.6" stroke="#000" stroke-width="2.1"/><path d="M310,264.6 L318.2,261.5 L317.2,264.6 L318.2,267.70000000000005 Z" fill="#000" stroke="#000" stroke-width="0.5" stroke-linejoin="round"/><path d="M345.8,264.6 L337.6,261.5 L338.6,264.6 L337.6,267.70000000000005 Z" fill="#000" stroke="#000" stroke-width="0.5" stroke-linejoin="round"/><path d="M327.60,254.95L327.60,259.45M325.65,256.07L329.55,258.32M329.55,256.07L325.65,258.32" stroke="#000" stroke-width="1.35" stroke-linecap="round"/><circle cx="327.6" cy="257.2" r="0.9" fill="#000"/><path d="M273.8,257.9L274.3,258.4L274.7,258.9L274.9,259.4L274.9,259.9L274.9,260.4L275.0,260.9L275.0,261.4L275.0,261.9L274.9,262.4L274.9,262.9L274.9,263.4L274.9,263.9L274.9,264.4L274.9,264.9L274.9,265.4L274.9,265.9L275.0,266.4L275.0,266.9L275.0,267.4L275.1,267.9L275.1,268.4L275.2,268.9L275.3,269.4L275.3,269.9L275.4,270.4L275.5,270.9L275.5,271.4L275.6,271.9L275.6,272.4L275.7,272.9L275.7,273.4L275.7,273.9L275.7,274.4L275.7,274.9L275.7,275.4L275.6,275.9L275.6,276.4L275.5,276.9L275.5,277.4L275.4,277.9L275.3,278.4L275.3,278.9L275.2,279.4L275.2,279.9L275.2,280.4L275.1,280.9L275.1,281.4L275.1,281.9L275.1,282.4L275.0,282.9L275.0,283.4L275.0,283.9L275.0,284.4L274.9,284.9L274.9,285.4L274.9,285.9L274.9,286.4L274.9,286.9L274.9,287.4L274.9,287.9L274.9,288.4L274.9,288.9L275.0,289.4L275.0,289.9L275.0,290.4L275.0,290.9L275.0,291.4L275.1,291.9L275.1,292.4L275.1,292.9L275.1,293.4L275.1,293.9L275.2,294.4L275.2,294.9L275.2,295.4L275.3,295.9L275.3,296.4L275.3,296.9L275.4,297.4L275.4,297.9L275.4,298.4L275.5,298.9L275.5,299.4L275.6,299.9L275.6,300.4L275.7,300.9L275.8,301.4L276.0,301.9L276.1,302.4L276.2,302.9L276.4,303.4L276.5,303.9L276.6,304.4L276.7,304.9L276.8,305.4L276.8,305.9L276.8,306.4L276.8,306.9L276.8,307.4L276.7,307.9L276.7,308.4L276.7,308.9L276.6,309.4L276.6,309.9L276.5,310.4L276.5,310.9L276.5,311.4L276.5,311.9L276.5,312.4L276.5,312.9L276.5,313.4L276.6,313.9L276.6,314.4L276.6,314.9L276.6,315.4L276.7,315.9L276.7,316.4L276.7,316.9L276.8,317.4L276.8,317.9L276.9,318.4L276.9,318.9L277.0,319.4L277.0,319.9L277.1,320.4L277.2,320.9L277.2,321.4L277.3,321.9L277.4,322.4L277.5,322.9L277.6,323.4L277.7,323.9L277.8,324.4L277.9,324.9L278.1,325.4L278.2,325.9L278.3,326.4L278.4,326.9L278.5,327.4L278.6,327.9L278.8,328.4L278.9,328.9L279.0,329.4L279.1,329.9L279.2,330.4L279.3,330.9L279.4,331.4L279.5,331.9L279.5,332.4L279.6,332.9L279.7,333.4L279.8,333.9L279.9,334.4L280.0,334.9L280.1,335.4L280.2,335.9L280.3,336.4L280.4,336.9L280.5,337.4L280.7,337.9L280.8,338.4L281.1,338.9L281.3,339.4L281.6,339.9L281.9,340.4L282.2,340.9L282.5,341.4L282.8,341.9L283.2,342.4L283.5,342.9L283.9,343.4L284.2,343.9L284.5,344.4L284.7,344.9L284.8,345.4L284.8,345.9L284.8,346.4L284.8,346.9L284.7,347.4L284.6,347.9L284.5,348.4L284.4,348.9L284.2,349.4L284.1,349.9L283.9,350.4L283.7,350.9L283.5,351.4L283.3,351.9L283.1,352.4L282.9,352.9L282.7,353.4L282.5,353.9L282.2,354.4L282.0,354.9L281.8,355.4L281.5,355.9L281.3,356.4L281.1,356.9L280.8,357.4L280.6,357.9L280.4,358.4L280.3,358.9L280.1,359.4L279.9,359.9L279.7,360.4L279.5,360.9L279.4,361.4L279.2,361.9L279.0,362.4L278.9,362.9L278.7,363.4L278.5,363.9L278.4,364.4L278.2,364.9L278.1,365.4L278.0,365.9L277.8,366.4L277.7,366.9L277.6,367.4L277.4,367.9L277.3,368.4L277.1,368.9L277.0,369.4L276.8,369.9L276.7,370.4L276.5,370.9L276.3,371.4L276.1,371.9L275.9,372.4L275.7,372.9L275.5,373.4L275.3,373.9L275.1,374.4L274.9,374.9L274.7,375.4L274.5,375.9L274.3,376.4L274.1,376.9L273.8,377.5L273.8,377.5L273.5,376.9L273.3,376.4L273.1,375.9L272.9,375.4L272.7,374.9L272.5,374.4L272.3,373.9L272.1,373.4L271.9,372.9L271.7,372.4L271.5,371.9L271.3,371.4L271.1,370.9L270.9,370.4L270.8,369.9L270.6,369.4L270.5,368.9L270.3,368.4L270.2,367.9L270.0,367.4L269.9,366.9L269.8,366.4L269.6,365.9L269.5,365.4L269.4,364.9L269.2,364.4L269.1,363.9L268.9,363.4L268.7,362.9L268.6,362.4L268.4,361.9L268.2,361.4L268.1,360.9L267.9,360.4L267.7,359.9L267.5,359.4L267.3,358.9L267.2,358.4L267.0,357.9L266.8,357.4L266.5,356.9L266.3,356.4L266.1,355.9L265.8,355.4L265.6,354.9L265.4,354.4L265.1,353.9L264.9,353.4L264.7,352.9L264.5,352.4L264.3,351.9L264.1,351.4L263.9,350.9L263.7,350.4L263.5,349.9L263.4,349.4L263.2,348.9L263.1,348.4L263.0,347.9L262.9,347.4L262.8,346.9L262.8,346.4L262.8,345.9L262.8,345.4L262.9,344.9L263.1,344.4L263.4,343.9L263.7,343.4L264.1,342.9L264.4,342.4L264.8,341.9L265.1,341.4L265.4,340.9L265.7,340.4L266.0,339.9L266.3,339.4L266.5,338.9L266.8,338.4L266.9,337.9L267.1,337.4L267.2,336.9L267.3,336.4L267.4,335.9L267.5,335.4L267.6,334.9L267.7,334.4L267.8,333.9L267.9,333.4L268.0,332.9L268.1,332.4L268.1,331.9L268.2,331.4L268.3,330.9L268.4,330.4L268.5,329.9L268.6,329.4L268.7,328.9L268.8,328.4L269.0,327.9L269.1,327.4L269.2,326.9L269.3,326.4L269.4,325.9L269.5,325.4L269.7,324.9L269.8,324.4L269.9,323.9L270.0,323.4L270.1,322.9L270.2,322.4L270.3,321.9L270.4,321.4L270.4,320.9L270.5,320.4L270.6,319.9L270.6,319.4L270.7,318.9L270.7,318.4L270.8,317.9L270.8,317.4L270.9,316.9L270.9,316.4L270.9,315.9L271.0,315.4L271.0,314.9L271.0,314.4L271.0,313.9L271.1,313.4L271.1,312.9L271.1,312.4L271.1,311.9L271.1,311.4L271.1,310.9L271.1,310.4L271.0,309.9L271.0,309.4L270.9,308.9L270.9,308.4L270.9,307.9L270.8,307.4L270.8,306.9L270.8,306.4L270.8,305.9L270.8,305.4L270.9,304.9L271.0,304.4L271.1,303.9L271.2,303.4L271.4,302.9L271.5,302.4L271.6,301.9L271.8,301.4L271.9,300.9L272.0,300.4L272.0,299.9L272.1,299.4L272.1,298.9L272.2,298.4L272.2,297.9L272.2,297.4L272.3,296.9L272.3,296.4L272.3,295.9L272.4,295.4L272.4,294.9L272.4,294.4L272.5,293.9L272.5,293.4L272.5,292.9L272.5,292.4L272.5,291.9L272.6,291.4L272.6,290.9L272.6,290.4L272.6,289.9L272.6,289.4L272.7,288.9L272.7,288.4L272.7,287.9L272.7,287.4L272.7,286.9L272.7,286.4L272.7,285.9L272.7,285.4L272.7,284.9L272.6,284.4L272.6,283.9L272.6,283.4L272.6,282.9L272.5,282.4L272.5,281.9L272.5,281.4L272.5,280.9L272.4,280.4L272.4,279.9L272.4,279.4L272.3,278.9L272.3,278.4L272.2,277.9L272.1,277.4L272.1,276.9L272.0,276.4L272.0,275.9L271.9,275.4L271.9,274.9L271.9,274.4L271.9,273.9L271.9,273.4L271.9,272.9L272.0,272.4L272.0,271.9L272.1,271.4L272.1,270.9L272.2,270.4L272.3,269.9L272.3,269.4L272.4,268.9L272.5,268.4L272.5,267.9L272.6,267.4L272.6,266.9L272.6,266.4L272.7,265.9L272.7,265.4L272.7,264.9L272.7,264.4L272.7,263.9L272.7,263.4L272.7,262.9L272.7,262.4L272.6,261.9L272.6,261.4L272.6,260.9L272.7,260.4L272.7,259.9L272.7,259.4L272.9,258.9L273.3,258.4L273.8,257.9Z" fill="#000"/><path d="M273.9,273.4L273.9,273.9L273.9,274.4L273.9,274.9L273.9,275.4L273.7,275.4L273.7,274.9L273.7,274.4L273.7,273.9L273.7,273.4Z" fill="#c0c0f8"/><path d="M273.9,300.9L274.0,301.4L274.1,301.9L274.2,302.4L274.4,302.9L274.5,303.4L274.6,303.9L274.8,304.4L274.9,304.9L275.0,305.4L275.0,305.9L275.0,306.4L275.0,306.9L275.0,307.4L274.9,307.9L274.9,308.4L274.9,308.9L274.8,309.4L274.8,309.9L274.7,310.4L274.7,310.9L274.7,311.4L274.7,311.9L274.7,312.4L274.7,312.9L274.7,313.4L274.8,313.9L274.8,314.4L274.8,314.9L274.8,315.4L274.9,315.9L274.9,316.4L274.9,316.9L275.0,317.4L275.0,317.9L275.1,318.4L275.1,318.9L275.2,319.4L275.2,319.9L275.3,320.4L275.4,320.9L275.4,321.4L275.5,321.9L275.6,322.4L275.7,322.9L275.8,323.4L275.9,323.9L276.0,324.4L276.1,324.9L276.2,325.4L276.3,325.9L276.4,326.4L276.6,326.9L276.7,327.4L276.8,327.9L276.9,328.4L277.0,328.9L277.1,329.4L277.2,329.9L277.3,330.4L277.4,330.9L277.5,331.4L277.6,331.9L277.7,332.4L277.8,332.9L277.9,333.4L278.0,333.9L278.1,334.4L278.2,334.9L278.2,335.4L278.3,335.9L278.4,336.4L278.6,336.9L278.7,337.4L278.8,337.9L278.9,338.4L279.1,338.9L279.3,339.4L279.5,339.9L279.8,340.4L280.1,340.9L280.5,341.4L280.7,341.9L281.0,342.4L281.3,342.9L281.7,343.4L282.1,343.9L282.5,344.4L282.8,344.9L283.0,345.4L283.0,345.9L283.0,346.4L283.0,346.9L282.9,347.4L282.8,347.9L282.7,348.4L282.5,348.9L282.3,349.4L282.2,349.9L282.0,350.4L281.8,350.9L281.6,351.4L281.4,351.9L281.2,352.4L281.0,352.9L280.7,353.4L280.5,353.9L280.2,354.4L280.0,354.9L279.8,355.4L279.5,355.9L279.3,356.4L279.1,356.9L278.9,357.4L278.7,357.9L278.5,358.4L278.3,358.9L278.1,359.4L278.0,359.9L277.8,360.4L277.6,360.9L277.4,361.4L277.3,361.9L277.1,362.4L277.0,362.9L276.8,363.4L276.6,363.9L276.5,364.4L276.4,364.9L276.2,365.4L276.1,365.9L276.0,366.4L275.8,366.9L275.7,367.4L275.6,367.9L275.4,368.4L275.3,368.9L275.1,369.4L274.9,369.9L274.8,370.4L274.6,370.9L274.4,371.4L274.2,371.9L274.0,372.4L273.6,372.4L273.4,371.9L273.2,371.4L273.0,370.9L272.8,370.4L272.7,369.9L272.5,369.4L272.3,368.9L272.2,368.4L272.0,367.9L271.9,367.4L271.8,366.9L271.6,366.4L271.5,365.9L271.4,365.4L271.2,364.9L271.1,364.4L271.0,363.9L270.8,363.4L270.6,362.9L270.5,362.4L270.3,361.9L270.2,361.4L270.0,360.9L269.8,360.4L269.6,359.9L269.5,359.4L269.3,358.9L269.1,358.4L268.9,357.9L268.7,357.4L268.5,356.9L268.3,356.4L268.1,355.9L267.8,355.4L267.6,354.9L267.4,354.4L267.1,353.9L266.9,353.4L266.6,352.9L266.4,352.4L266.2,351.9L266.0,351.4L265.8,350.9L265.6,350.4L265.4,349.9L265.3,349.4L265.1,348.9L264.9,348.4L264.8,347.9L264.7,347.4L264.6,346.9L264.6,346.4L264.6,345.9L264.6,345.4L264.8,344.9L265.1,344.4L265.5,343.9L265.9,343.4L266.3,342.9L266.6,342.4L266.9,341.9L267.1,341.4L267.5,340.9L267.8,340.4L268.1,339.9L268.3,339.4L268.5,338.9L268.7,338.4L268.8,337.9L268.9,337.4L269.0,336.9L269.2,336.4L269.3,335.9L269.4,335.4L269.4,334.9L269.5,334.4L269.6,333.9L269.7,333.4L269.8,332.9L269.9,332.4L270.0,331.9L270.1,331.4L270.2,330.9L270.3,330.4L270.4,329.9L270.5,329.4L270.6,328.9L270.7,328.4L270.8,327.9L270.9,327.4L271.0,326.9L271.2,326.4L271.3,325.9L271.4,325.4L271.5,324.9L271.6,324.4L271.7,323.9L271.8,323.4L271.9,322.9L272.0,322.4L272.1,321.9L272.2,321.4L272.2,320.9L272.3,320.4L272.4,319.9L272.4,319.4L272.5,318.9L272.5,318.4L272.6,317.9L272.6,317.4L272.7,316.9L272.7,316.4L272.7,315.9L272.8,315.4L272.8,314.9L272.8,314.4L272.8,313.9L272.9,313.4L272.9,312.9L272.9,312.4L272.9,311.9L272.9,311.4L272.9,310.9L272.9,310.4L272.8,309.9L272.8,309.4L272.7,308.9L272.7,308.4L272.7,307.9L272.6,307.4L272.6,306.9L272.6,306.4L272.6,305.9L272.6,305.4L272.7,304.9L272.8,304.4L273.0,303.9L273.1,303.4L273.2,302.9L273.4,302.4L273.5,301.9L273.6,301.4L273.7,300.9Z" fill="#c0c0f8"/><line x1="270.89" y1="328.4" x2="276.71" y2="328.4" stroke="#8c8cd8" stroke-width="0.9" stroke-dasharray="2,1"/><line x1="264.84" y1="345.4" x2="282.76" y2="345.4" stroke="#333" stroke-width="1" stroke-dasharray="1.3,1.7"/><line x1="266.16" y1="351.3" x2="281.44" y2="351.3" stroke="#8c8cd8" stroke-width="0.9" stroke-dasharray="2,1"/><path d="M307.8,273.6L308.3,274.1L308.7,274.6L308.9,275.1L308.9,275.6L308.9,276.1L308.9,276.6L308.9,277.1L308.9,277.6L308.9,278.1L309.0,278.6L309.0,279.1L309.1,279.6L309.1,280.1L309.2,280.6L309.3,281.1L309.4,281.6L309.5,282.1L309.5,282.6L309.6,283.1L309.6,283.6L309.7,284.1L309.7,284.6L309.7,285.1L309.7,285.6L309.6,286.1L309.6,286.6L309.5,287.1L309.5,287.6L309.4,288.1L309.3,288.6L309.3,289.1L309.2,289.6L309.2,290.1L309.2,290.6L309.1,291.1L309.1,291.6L309.1,292.1L309.1,292.6L309.0,293.1L309.0,293.6L309.0,294.1L309.0,294.6L308.9,295.1L308.9,295.6L308.9,296.1L308.9,296.6L308.9,297.1L308.9,297.6L308.9,298.1L308.9,298.6L308.9,299.1L308.9,299.6L308.9,300.1L308.9,300.6L308.9,301.1L308.9,301.6L308.9,302.1L308.9,302.6L308.9,303.1L308.9,303.6L309.0,304.1L309.0,304.6L309.0,305.1L309.0,305.6L309.0,306.1L309.1,306.6L309.1,307.1L309.2,307.6L309.3,308.1L309.4,308.6L309.5,309.1L309.7,309.6L309.8,310.1L309.9,310.6L310.1,311.1L310.2,311.6L310.2,312.1L310.3,312.6L310.3,313.1L310.3,313.6L310.3,314.1L310.3,314.6L310.3,315.1L310.4,315.6L310.4,316.1L310.4,316.6L310.4,317.1L310.5,317.6L310.6,318.1L310.7,318.6L310.8,319.1L311.0,319.6L311.1,320.1L311.1,320.6L311.2,321.1L311.3,321.6L311.3,322.1L311.3,322.6L311.4,323.1L311.4,323.6L311.4,324.1L311.5,324.6L311.5,325.1L311.5,325.6L311.5,326.1L311.6,326.6L311.6,327.1L311.6,327.6L311.7,328.1L311.7,328.6L311.8,329.1L311.8,329.6L311.9,330.1L312.0,330.6L312.1,331.1L312.2,331.6L312.3,332.1L312.4,332.6L312.5,333.1L312.6,333.6L312.7,334.1L312.8,334.6L313.0,335.1L313.1,335.6L313.2,336.1L313.3,336.6L313.5,337.1L313.6,337.6L313.7,338.1L313.9,338.6L314.0,339.1L314.1,339.6L314.3,340.1L314.4,340.6L314.5,341.1L314.7,341.6L314.8,342.1L315.0,342.6L315.2,343.1L315.3,343.6L315.5,344.1L315.7,344.6L315.8,345.1L316.0,345.6L316.3,346.1L316.5,346.6L316.8,347.1L317.1,347.6L317.3,348.1L317.6,348.6L317.8,349.1L318.0,349.6L318.1,350.1L318.2,350.6L318.2,351.1L318.2,351.6L318.1,352.1L317.9,352.6L317.7,353.1L317.4,353.6L317.2,354.1L316.9,354.6L316.6,355.1L316.2,355.6L315.9,356.1L315.6,356.6L315.4,357.1L315.1,357.6L314.9,358.1L314.6,358.6L314.4,359.1L314.2,359.6L314.0,360.1L313.8,360.6L313.6,361.1L313.4,361.6L313.2,362.1L313.0,362.6L312.8,363.1L312.6,363.6L312.5,364.1L312.3,364.6L312.2,365.1L312.0,365.6L311.9,366.1L311.8,366.6L311.6,367.1L311.5,367.6L311.4,368.1L311.2,368.6L311.1,369.1L310.9,369.6L310.8,370.1L310.6,370.6L310.4,371.1L310.2,371.6L310.0,372.1L309.9,372.6L309.7,373.1L309.5,373.6L309.3,374.1L309.1,374.6L308.8,375.1L308.6,375.6L308.4,376.1L308.2,376.6L308.0,377.1L307.8,377.5L307.8,377.5L307.6,377.1L307.4,376.6L307.2,376.1L307.0,375.6L306.8,375.1L306.5,374.6L306.3,374.1L306.1,373.6L305.9,373.1L305.7,372.6L305.6,372.1L305.4,371.6L305.2,371.1L305.0,370.6L304.8,370.1L304.7,369.6L304.5,369.1L304.4,368.6L304.2,368.1L304.1,367.6L304.0,367.1L303.8,366.6L303.7,366.1L303.6,365.6L303.4,365.1L303.3,364.6L303.1,364.1L303.0,363.6L302.8,363.1L302.6,362.6L302.4,362.1L302.2,361.6L302.0,361.1L301.8,360.6L301.6,360.1L301.4,359.6L301.2,359.1L301.0,358.6L300.7,358.1L300.5,357.6L300.2,357.1L300.0,356.6L299.7,356.1L299.4,355.6L299.0,355.1L298.7,354.6L298.4,354.1L298.2,353.6L297.9,353.1L297.7,352.6L297.5,352.1L297.4,351.6L297.4,351.1L297.4,350.6L297.5,350.1L297.6,349.6L297.8,349.1L298.0,348.6L298.3,348.1L298.5,347.6L298.8,347.1L299.1,346.6L299.3,346.1L299.6,345.6L299.8,345.1L299.9,344.6L300.1,344.1L300.3,343.6L300.4,343.1L300.6,342.6L300.8,342.1L300.9,341.6L301.1,341.1L301.2,340.6L301.3,340.1L301.5,339.6L301.6,339.1L301.7,338.6L301.9,338.1L302.0,337.6L302.1,337.1L302.3,336.6L302.4,336.1L302.5,335.6L302.6,335.1L302.8,334.6L302.9,334.1L303.0,333.6L303.1,333.1L303.2,332.6L303.3,332.1L303.4,331.6L303.5,331.1L303.6,330.6L303.7,330.1L303.8,329.6L303.8,329.1L303.9,328.6L303.9,328.1L304.0,327.6L304.0,327.1L304.0,326.6L304.1,326.1L304.1,325.6L304.1,325.1L304.1,324.6L304.2,324.1L304.2,323.6L304.2,323.1L304.3,322.6L304.3,322.1L304.3,321.6L304.4,321.1L304.5,320.6L304.5,320.1L304.6,319.6L304.8,319.1L304.9,318.6L305.0,318.1L305.1,317.6L305.2,317.1L305.2,316.6L305.2,316.1L305.2,315.6L305.3,315.1L305.3,314.6L305.3,314.1L305.3,313.6L305.3,313.1L305.3,312.6L305.4,312.1L305.4,311.6L305.5,311.1L305.7,310.6L305.8,310.1L305.9,309.6L306.1,309.1L306.2,308.6L306.3,308.1L306.4,307.6L306.5,307.1L306.5,306.6L306.6,306.1L306.6,305.6L306.6,305.1L306.6,304.6L306.6,304.1L306.7,303.6L306.7,303.1L306.7,302.6L306.7,302.1L306.7,301.6L306.7,301.1L306.7,300.6L306.7,300.1L306.7,299.6L306.7,299.1L306.7,298.6L306.7,298.1L306.7,297.6L306.7,297.1L306.7,296.6L306.7,296.1L306.7,295.6L306.7,295.1L306.6,294.6L306.6,294.1L306.6,293.6L306.6,293.1L306.5,292.6L306.5,292.1L306.5,291.6L306.5,291.1L306.4,290.6L306.4,290.1L306.4,289.6L306.3,289.1L306.3,288.6L306.2,288.1L306.1,287.6L306.1,287.1L306.0,286.6L306.0,286.1L305.9,285.6L305.9,285.1L305.9,284.6L305.9,284.1L306.0,283.6L306.0,283.1L306.1,282.6L306.1,282.1L306.2,281.6L306.3,281.1L306.4,280.6L306.5,280.1L306.5,279.6L306.6,279.1L306.6,278.6L306.7,278.1L306.7,277.6L306.7,277.1L306.7,276.6L306.7,276.1L306.7,275.6L306.7,275.1L306.9,274.6L307.3,274.1L307.8,273.6Z" fill="#000"/><path d="M307.9,284.1L307.9,284.6L307.9,285.1L307.9,285.6L307.7,285.6L307.7,285.1L307.7,284.6L307.7,284.1Z" fill="#f5c8f8"/><path d="M307.9,310.1L308.1,310.6L308.2,311.1L308.3,311.6L308.4,312.1L308.5,312.6L308.5,313.1L308.5,313.6L308.5,314.1L308.5,314.6L308.5,315.1L308.6,315.6L308.6,316.1L308.6,316.6L308.6,317.1L308.7,317.6L308.7,318.1L308.8,318.6L309.0,319.1L309.1,319.6L309.2,320.1L309.3,320.6L309.4,321.1L309.4,321.6L309.5,322.1L309.5,322.6L309.6,323.1L309.6,323.6L309.6,324.1L309.7,324.6L309.7,325.1L309.7,325.6L309.7,326.1L309.8,326.6L309.8,327.1L309.8,327.6L309.9,328.1L309.9,328.6L310.0,329.1L310.0,329.6L310.1,330.1L310.2,330.6L310.3,331.1L310.3,331.6L310.4,332.1L310.5,332.6L310.6,333.1L310.8,333.6L310.9,334.1L311.0,334.6L311.1,335.1L311.2,335.6L311.4,336.1L311.5,336.6L311.6,337.1L311.7,337.6L311.9,338.1L312.0,338.6L312.1,339.1L312.3,339.6L312.4,340.1L312.5,340.6L312.7,341.1L312.8,341.6L313.0,342.1L313.1,342.6L313.3,343.1L313.4,343.6L313.6,344.1L313.8,344.6L313.9,345.1L314.1,345.6L314.3,346.1L314.5,346.6L314.7,347.1L315.0,347.6L315.3,348.1L315.6,348.6L315.8,349.1L316.1,349.6L316.3,350.1L316.4,350.6L316.4,351.1L316.4,351.6L316.2,352.1L316.0,352.6L315.7,353.1L315.4,353.6L315.1,354.1L314.8,354.6L314.4,355.1L314.1,355.6L313.8,356.1L313.5,356.6L313.3,357.1L313.1,357.6L312.9,358.1L312.7,358.6L312.4,359.1L312.2,359.6L312.0,360.1L311.8,360.6L311.6,361.1L311.4,361.6L311.3,362.1L311.1,362.6L310.9,363.1L310.7,363.6L310.6,364.1L310.4,364.6L310.3,365.1L310.2,365.6L310.0,366.1L309.9,366.6L309.8,367.1L309.6,367.6L309.5,368.1L309.4,368.6L309.2,369.1L309.0,369.6L308.9,370.1L308.7,370.6L308.5,371.1L308.3,371.6L308.1,372.1L307.9,372.6L307.7,372.6L307.5,372.1L307.3,371.6L307.1,371.1L306.9,370.6L306.7,370.1L306.6,369.6L306.4,369.1L306.2,368.6L306.1,368.1L306.0,367.6L305.8,367.1L305.7,366.6L305.6,366.1L305.4,365.6L305.3,365.1L305.2,364.6L305.0,364.1L304.9,363.6L304.7,363.1L304.5,362.6L304.3,362.1L304.2,361.6L304.0,361.1L303.8,360.6L303.6,360.1L303.4,359.6L303.2,359.1L302.9,358.6L302.7,358.1L302.5,357.6L302.3,357.1L302.1,356.6L301.8,356.1L301.5,355.6L301.2,355.1L300.8,354.6L300.5,354.1L300.2,353.6L299.9,353.1L299.6,352.6L299.4,352.1L299.2,351.6L299.2,351.1L299.2,350.6L299.3,350.1L299.5,349.6L299.8,349.1L300.0,348.6L300.3,348.1L300.6,347.6L300.9,347.1L301.1,346.6L301.3,346.1L301.5,345.6L301.7,345.1L301.8,344.6L302.0,344.1L302.2,343.6L302.3,343.1L302.5,342.6L302.6,342.1L302.8,341.6L302.9,341.1L303.1,340.6L303.2,340.1L303.3,339.6L303.5,339.1L303.6,338.6L303.7,338.1L303.9,337.6L304.0,337.1L304.1,336.6L304.2,336.1L304.4,335.6L304.5,335.1L304.6,334.6L304.7,334.1L304.8,333.6L305.0,333.1L305.1,332.6L305.2,332.1L305.3,331.6L305.3,331.1L305.4,330.6L305.5,330.1L305.6,329.6L305.6,329.1L305.7,328.6L305.7,328.1L305.8,327.6L305.8,327.1L305.8,326.6L305.9,326.1L305.9,325.6L305.9,325.1L305.9,324.6L306.0,324.1L306.0,323.6L306.0,323.1L306.1,322.6L306.1,322.1L306.2,321.6L306.2,321.1L306.3,320.6L306.4,320.1L306.5,319.6L306.6,319.1L306.8,318.6L306.9,318.1L306.9,317.6L307.0,317.1L307.0,316.6L307.0,316.1L307.0,315.6L307.1,315.1L307.1,314.6L307.1,314.1L307.1,313.6L307.1,313.1L307.1,312.6L307.2,312.1L307.3,311.6L307.4,311.1L307.5,310.6L307.7,310.1Z" fill="#f5c8f8"/><line x1="304.93" y1="334.1" x2="310.67" y2="334.1" stroke="#d890d8" stroke-width="0.9" stroke-dasharray="2,1"/><line x1="299.82" y1="349.4" x2="315.78" y2="349.4" stroke="#333" stroke-width="1" stroke-dasharray="1.3,1.7"/><line x1="301.36" y1="355.1" x2="314.24" y2="355.1" stroke="#d890d8" stroke-width="0.9" stroke-dasharray="2,1"/><path d="M342.0,344.4L342.5,344.9L343.0,345.4L343.4,345.9L343.9,346.4L344.3,346.9L344.7,347.4L345.0,347.9L345.1,348.4L345.2,348.9L345.3,349.4L345.5,349.9L345.9,350.4L346.5,350.9L347.1,351.4L347.8,351.9L348.4,352.4L348.9,352.9L349.3,353.4L349.7,353.9L349.9,354.4L350.0,354.9L349.5,355.4L348.8,355.9L348.2,356.4L348.0,356.9L348.4,357.4L349.1,357.9L349.9,358.4L350.7,358.9L351.4,359.4L351.9,359.9L352.2,360.4L352.6,360.9L352.8,361.4L352.8,361.9L352.7,362.4L352.3,362.9L351.8,363.4L351.2,363.9L350.0,364.4L348.2,364.9L346.6,365.4L345.6,365.9L344.6,366.4L343.9,366.9L343.2,367.4L342.7,367.9L342.2,368.4L342.0,368.7L342.0,368.7L341.8,368.4L341.3,367.9L340.8,367.4L340.1,366.9L339.4,366.4L338.4,365.9L337.4,365.4L335.8,364.9L334.0,364.4L332.8,363.9L332.2,363.4L331.7,362.9L331.3,362.4L331.2,361.9L331.2,361.4L331.4,360.9L331.8,360.4L332.1,359.9L332.6,359.4L333.3,358.9L334.1,358.4L334.9,357.9L335.6,357.4L336.0,356.9L335.8,356.4L335.2,355.9L334.5,355.4L334.0,354.9L334.1,354.4L334.3,353.9L334.7,353.4L335.1,352.9L335.6,352.4L336.2,351.9L336.9,351.4L337.5,350.9L338.1,350.4L338.5,349.9L338.7,349.4L338.8,348.9L338.9,348.4L339.0,347.9L339.3,347.4L339.7,346.9L340.1,346.4L340.6,345.9L341.0,345.4L341.5,344.9L342.0,344.4Z" fill="#000"/><path d="M342.5,347.4L343.0,347.9L343.3,348.4L343.4,348.9L343.4,349.4L343.4,349.9L343.4,350.4L343.7,350.9L344.1,351.4L344.8,351.9L345.7,352.4L346.5,352.9L347.0,353.4L347.6,353.9L348.0,354.4L348.1,354.9L346.6,355.4L345.5,355.9L345.7,356.4L346.1,356.9L345.7,357.4L345.8,357.9L346.4,358.4L347.4,358.9L348.7,359.4L349.5,359.9L350.0,360.4L350.5,360.9L350.9,361.4L351.0,361.9L350.6,362.4L349.9,362.9L349.1,363.4L348.3,363.9L344.0,364.4L340.0,364.4L335.7,363.9L334.9,363.4L334.1,362.9L333.4,362.4L333.0,361.9L333.1,361.4L333.5,360.9L334.0,360.4L334.5,359.9L335.3,359.4L336.6,358.9L337.6,358.4L338.2,357.9L338.3,357.4L337.9,356.9L338.3,356.4L338.5,355.9L337.4,355.4L335.9,354.9L336.0,354.4L336.4,353.9L337.0,353.4L337.5,352.9L338.3,352.4L339.2,351.9L339.9,351.4L340.3,350.9L340.6,350.4L340.6,349.9L340.6,349.4L340.6,348.9L340.7,348.4L341.0,347.9L341.5,347.4Z" fill="#00d000"/><line x1="335.17" y1="359.6" x2="348.83" y2="359.6" stroke="#333" stroke-width="1" stroke-dasharray="1.3,1.7"/><text x="365.5" y="228.2" font-size="12.5" font-weight="bold">(F)</text><line x1="432.6" y1="221.1" x2="432.6" y2="378.8" stroke="#000" stroke-width="1.5"/><line x1="431.85" y1="378.8" x2="546.5" y2="378.8" stroke="#000" stroke-width="1.5"/><line x1="428.1" y1="376.50" x2="432.6" y2="376.50" stroke="#000" stroke-width="1.3"/><text x="426.6" y="379.25" font-size="8.4" font-weight="bold" text-anchor="end" stroke="#000" stroke-width="0.25">0</text><line x1="428.1" y1="324.70" x2="432.6" y2="324.70" stroke="#000" stroke-width="1.3"/><text x="426.6" y="327.45" font-size="8.4" font-weight="bold" text-anchor="end" stroke="#000" stroke-width="0.25">10</text><line x1="428.1" y1="272.90" x2="432.6" y2="272.90" stroke="#000" stroke-width="1.3"/><text x="426.6" y="275.65" font-size="8.4" font-weight="bold" text-anchor="end" stroke="#000" stroke-width="0.25">20</text><line x1="428.1" y1="221.10" x2="432.6" y2="221.10" stroke="#000" stroke-width="1.3"/><text x="426.6" y="223.85" font-size="8.4" font-weight="bold" text-anchor="end" stroke="#000" stroke-width="0.25">30</text><line x1="455.3" y1="378.8" x2="455.3" y2="383.3" stroke="#000" stroke-width="1.3"/><text x="455.3" y="392.8" font-size="8.2" font-weight="bold" text-anchor="middle" stroke="#000" stroke-width="0.25">CLL</text><line x1="489.4" y1="378.8" x2="489.4" y2="383.3" stroke="#000" stroke-width="1.3"/><text x="489.4" y="392.8" font-size="8.2" font-weight="bold" text-anchor="middle" stroke="#000" stroke-width="0.25">CVID</text><line x1="523.2" y1="378.8" x2="523.2" y2="383.3" stroke="#000" stroke-width="1.3"/><text x="523.2" y="392.8" font-size="8.2" font-weight="bold" text-anchor="middle" stroke="#000" stroke-width="0.25">HV</text><text transform="translate(400,297.7) rotate(-90)" font-size="9.45" font-weight="bold" text-anchor="middle" stroke="#000" stroke-width="0.25">Frequency of CD19+ B lymphocytes</text><text transform="translate(410.8,298.2) rotate(-90)" font-size="9.45" font-weight="bold" text-anchor="middle" stroke="#000" stroke-width="0.25">positive for PD-L1 [%]</text><line x1="461.3" y1="223.7" x2="524.6999999999999" y2="223.7" stroke="#000" stroke-width="2.1"/><path d="M454.1,223.7 L462.3,220.6 L461.3,223.7 L462.3,226.79999999999998 Z" fill="#000" stroke="#000" stroke-width="0.5" stroke-linejoin="round"/><path d="M531.9,223.7 L523.6999999999999,220.6 L524.6999999999999,223.7 L523.6999999999999,226.79999999999998 Z" fill="#000" stroke="#000" stroke-width="0.5" stroke-linejoin="round"/><path d="M492.60,214.05L492.60,218.55M490.65,215.18L494.55,217.43M494.55,215.18L490.65,217.43" stroke="#000" stroke-width="1.35" stroke-linecap="round"/><circle cx="492.6" cy="216.3" r="0.9" fill="#000"/><line x1="497.3" y1="256.8" x2="526.5" y2="256.8" stroke="#000" stroke-width="2.1"/><path d="M490.1,256.8 L498.3,253.70000000000002 L497.3,256.8 L498.3,259.90000000000003 Z" fill="#000" stroke="#000" stroke-width="0.5" stroke-linejoin="round"/><path d="M533.7,256.8 L525.5,253.70000000000002 L526.5,256.8 L525.5,259.90000000000003 Z" fill="#000" stroke="#000" stroke-width="0.5" stroke-linejoin="round"/><path d="M511.90,246.75L511.90,251.25M509.95,247.88L513.85,250.12M513.85,247.88L509.95,250.12" stroke="#000" stroke-width="1.35" stroke-linecap="round"/><circle cx="511.9" cy="249" r="0.9" fill="#000"/><path d="M455.2,247.0L455.7,247.5L456.1,248.0L456.3,248.5L456.3,249.0L456.4,249.5L456.4,250.0L456.4,250.5L456.4,251.0L456.4,251.5L456.4,252.0L456.4,252.5L456.4,253.0L456.3,253.5L456.3,254.0L456.3,254.5L456.3,255.0L456.3,255.5L456.2,256.0L456.2,256.5L456.2,257.0L456.2,257.5L456.2,258.0L456.2,258.5L456.2,259.0L456.3,259.5L456.3,260.0L456.3,260.5L456.4,261.0L456.5,261.5L456.6,262.0L456.7,262.5L456.8,263.0L456.9,263.5L457.0,264.0L457.1,264.5L457.2,265.0L457.3,265.5L457.4,266.0L457.6,266.5L457.7,267.0L457.8,267.5L457.9,268.0L457.9,268.5L458.0,269.0L458.1,269.5L458.1,270.0L458.2,270.5L458.2,271.0L458.2,271.5L458.2,272.0L458.1,272.5L458.1,273.0L458.0,273.5L458.0,274.0L457.9,274.5L457.8,275.0L457.8,275.5L457.7,276.0L457.6,276.5L457.6,277.0L457.6,277.5L457.5,278.0L457.5,278.5L457.5,279.0L457.5,279.5L457.4,280.0L457.4,280.5L457.4,281.0L457.4,281.5L457.4,282.0L457.4,282.5L457.4,283.0L457.4,283.5L457.4,284.0L457.5,284.5L457.5,285.0L457.6,285.5L457.6,286.0L457.6,286.5L457.7,287.0L457.7,287.5L457.8,288.0L457.8,288.5L457.9,289.0L458.0,289.5L458.0,290.0L458.1,290.5L458.1,291.0L458.1,291.5L458.2,292.0L458.2,292.5L458.3,293.0L458.3,293.5L458.3,294.0L458.4,294.5L458.4,295.0L458.4,295.5L458.4,296.0L458.5,296.5L458.5,297.0L458.5,297.5L458.6,298.0L458.6,298.5L458.7,299.0L458.7,299.5L458.8,300.0L458.9,300.5L459.0,301.0L459.1,301.5L459.2,302.0L459.3,302.5L459.5,303.0L459.6,303.5L459.7,304.0L459.9,304.5L460.0,305.0L460.1,305.5L460.3,306.0L460.5,306.5L460.6,307.0L460.8,307.5L461.0,308.0L461.1,308.5L461.3,309.0L461.3,309.5L461.4,310.0L461.4,310.5L461.4,311.0L461.4,311.5L461.4,312.0L461.4,312.5L461.4,313.0L461.4,313.5L461.3,314.0L461.3,314.5L461.3,315.0L461.2,315.5L461.2,316.0L461.2,316.5L461.1,317.0L461.1,317.5L461.1,318.0L461.1,318.5L461.1,319.0L461.1,319.5L461.1,320.0L461.2,320.5L461.2,321.0L461.2,321.5L461.2,322.0L461.3,322.5L461.3,323.0L461.3,323.5L461.4,324.0L461.4,324.5L461.5,325.0L461.5,325.5L461.6,326.0L461.6,326.5L461.7,327.0L461.8,327.5L461.9,328.0L462.0,328.5L462.1,329.0L462.2,329.5L462.3,330.0L462.4,330.5L462.6,331.0L462.7,331.5L462.9,332.0L463.0,332.5L463.2,333.0L463.3,333.5L463.5,334.0L463.7,334.5L463.8,335.0L464.0,335.5L464.1,336.0L464.3,336.5L464.5,337.0L464.7,337.5L464.9,338.0L465.1,338.5L465.3,339.0L465.5,339.5L465.6,340.0L465.8,340.5L465.9,341.0L466.0,341.5L466.1,342.0L466.2,342.5L466.2,343.0L466.2,343.5L466.2,344.0L466.2,344.5L466.2,345.0L466.1,345.5L466.1,346.0L466.0,346.5L466.0,347.0L465.9,347.5L465.8,348.0L465.7,348.5L465.6,349.0L465.5,349.5L465.4,350.0L465.3,350.5L465.2,351.0L465.1,351.5L464.9,352.0L464.8,352.5L464.7,353.0L464.5,353.5L464.4,354.0L464.2,354.5L464.1,355.0L464.0,355.5L463.8,356.0L463.6,356.5L463.5,357.0L463.3,357.5L463.1,358.0L463.0,358.5L462.8,359.0L462.6,359.5L462.4,360.0L462.2,360.5L462.1,361.0L461.9,361.5L461.7,362.0L461.5,362.5L461.3,363.0L461.1,363.5L461.0,364.0L460.8,364.5L460.6,365.0L460.4,365.5L460.2,366.0L460.0,366.5L459.8,367.0L459.6,367.5L459.4,368.0L459.2,368.5L459.0,369.0L458.8,369.5L458.6,370.0L458.4,370.5L458.1,371.0L457.9,371.5L457.7,372.0L457.5,372.5L457.3,373.0L457.0,373.5L456.8,374.0L456.6,374.5L456.4,375.0L456.2,375.5L456.0,376.0L455.8,376.5L455.5,377.0L455.3,377.5L455.2,377.8L455.2,377.8L455.1,377.5L454.9,377.0L454.6,376.5L454.4,376.0L454.2,375.5L454.0,375.0L453.8,374.5L453.6,374.0L453.4,373.5L453.1,373.0L452.9,372.5L452.7,372.0L452.5,371.5L452.3,371.0L452.0,370.5L451.8,370.0L451.6,369.5L451.4,369.0L451.2,368.5L451.0,368.0L450.8,367.5L450.6,367.0L450.4,366.5L450.2,366.0L450.0,365.5L449.8,365.0L449.6,364.5L449.4,364.0L449.3,363.5L449.1,363.0L448.9,362.5L448.7,362.0L448.5,361.5L448.3,361.0L448.2,360.5L448.0,360.0L447.8,359.5L447.6,359.0L447.4,358.5L447.3,358.0L447.1,357.5L446.9,357.0L446.8,356.5L446.6,356.0L446.4,355.5L446.3,355.0L446.2,354.5L446.0,354.0L445.9,353.5L445.7,353.0L445.6,352.5L445.5,352.0L445.3,351.5L445.2,351.0L445.1,350.5L445.0,350.0L444.9,349.5L444.8,349.0L444.7,348.5L444.6,348.0L444.5,347.5L444.4,347.0L444.4,346.5L444.3,346.0L444.3,345.5L444.2,345.0L444.2,344.5L444.2,344.0L444.2,343.5L444.2,343.0L444.2,342.5L444.3,342.0L444.4,341.5L444.5,341.0L444.6,340.5L444.8,340.0L444.9,339.5L445.1,339.0L445.3,338.5L445.5,338.0L445.7,337.5L445.9,337.0L446.1,336.5L446.3,336.0L446.4,335.5L446.6,335.0L446.7,334.5L446.9,334.0L447.1,333.5L447.2,333.0L447.4,332.5L447.5,332.0L447.7,331.5L447.8,331.0L448.0,330.5L448.1,330.0L448.2,329.5L448.3,329.0L448.4,328.5L448.5,328.0L448.6,327.5L448.7,327.0L448.8,326.5L448.8,326.0L448.9,325.5L448.9,325.0L449.0,324.5L449.0,324.0L449.1,323.5L449.1,323.0L449.1,322.5L449.2,322.0L449.2,321.5L449.2,321.0L449.2,320.5L449.3,320.0L449.3,319.5L449.3,319.0L449.3,318.5L449.3,318.0L449.3,317.5L449.3,317.0L449.2,316.5L449.2,316.0L449.2,315.5L449.1,315.0L449.1,314.5L449.1,314.0L449.0,313.5L449.0,313.0L449.0,312.5L449.0,312.0L449.0,311.5L449.0,311.0L449.0,310.5L449.0,310.0L449.1,309.5L449.1,309.0L449.3,308.5L449.4,308.0L449.6,307.5L449.8,307.0L449.9,306.5L450.1,306.0L450.3,305.5L450.4,305.0L450.5,304.5L450.7,304.0L450.8,303.5L450.9,303.0L451.1,302.5L451.2,302.0L451.3,301.5L451.4,301.0L451.5,300.5L451.6,300.0L451.7,299.5L451.7,299.0L451.8,298.5L451.8,298.0L451.9,297.5L451.9,297.0L451.9,296.5L452.0,296.0L452.0,295.5L452.0,295.0L452.0,294.5L452.1,294.0L452.1,293.5L452.1,293.0L452.2,292.5L452.2,292.0L452.3,291.5L452.3,291.0L452.3,290.5L452.4,290.0L452.4,289.5L452.5,289.0L452.6,288.5L452.6,288.0L452.7,287.5L452.7,287.0L452.8,286.5L452.8,286.0L452.8,285.5L452.9,285.0L452.9,284.5L453.0,284.0L453.0,283.5L453.0,283.0L453.0,282.5L453.0,282.0L453.0,281.5L453.0,281.0L453.0,280.5L453.0,280.0L452.9,279.5L452.9,279.0L452.9,278.5L452.9,278.0L452.8,277.5L452.8,277.0L452.8,276.5L452.7,276.0L452.6,275.5L452.6,275.0L452.5,274.5L452.4,274.0L452.4,273.5L452.3,273.0L452.3,272.5L452.2,272.0L452.2,271.5L452.2,271.0L452.2,270.5L452.3,270.0L452.3,269.5L452.4,269.0L452.5,268.5L452.5,268.0L452.6,267.5L452.7,267.0L452.8,266.5L453.0,266.0L453.1,265.5L453.2,265.0L453.3,264.5L453.4,264.0L453.5,263.5L453.6,263.0L453.7,262.5L453.8,262.0L453.9,261.5L454.0,261.0L454.1,260.5L454.1,260.0L454.1,259.5L454.2,259.0L454.2,258.5L454.2,258.0L454.2,257.5L454.2,257.0L454.2,256.5L454.2,256.0L454.1,255.5L454.1,255.0L454.1,254.5L454.1,254.0L454.1,253.5L454.0,253.0L454.0,252.5L454.0,252.0L454.0,251.5L454.0,251.0L454.0,250.5L454.0,250.0L454.0,249.5L454.1,249.0L454.1,248.5L454.3,248.0L454.7,247.5L455.2,247.0Z" fill="#000"/><path d="M455.4,265.0L455.5,265.5L455.6,266.0L455.7,266.5L455.8,267.0L455.9,267.5L456.0,268.0L456.1,268.5L456.2,269.0L456.3,269.5L456.3,270.0L456.4,270.5L456.4,271.0L456.4,271.5L456.4,272.0L456.3,272.5L456.3,273.0L456.2,273.5L456.1,274.0L456.1,274.5L456.0,275.0L455.9,275.5L455.9,276.0L455.8,276.5L455.8,277.0L455.8,277.5L455.7,278.0L455.7,278.5L455.7,279.0L455.6,279.5L455.6,280.0L455.6,280.5L455.6,281.0L455.6,281.5L455.6,282.0L455.6,282.5L455.6,283.0L455.6,283.5L455.6,284.0L455.7,284.5L455.7,285.0L455.8,285.5L455.8,286.0L455.8,286.5L455.9,287.0L455.9,287.5L456.0,288.0L456.0,288.5L456.1,289.0L456.1,289.5L456.2,290.0L456.2,290.5L456.3,291.0L456.3,291.5L456.4,292.0L456.4,292.5L456.5,293.0L456.5,293.5L456.5,294.0L456.6,294.5L456.6,295.0L456.6,295.5L456.6,296.0L456.7,296.5L456.7,297.0L456.7,297.5L456.8,298.0L456.8,298.5L456.9,299.0L456.9,299.5L457.0,300.0L457.1,300.5L457.2,301.0L457.3,301.5L457.4,302.0L457.5,302.5L457.6,303.0L457.7,303.5L457.9,304.0L458.0,304.5L458.1,305.0L458.3,305.5L458.4,306.0L458.6,306.5L458.7,307.0L458.9,307.5L459.1,308.0L459.3,308.5L459.4,309.0L459.5,309.5L459.6,310.0L459.6,310.5L459.6,311.0L459.6,311.5L459.6,312.0L459.6,312.5L459.6,313.0L459.6,313.5L459.5,314.0L459.5,314.5L459.4,315.0L459.4,315.5L459.4,316.0L459.3,316.5L459.3,317.0L459.3,317.5L459.3,318.0L459.3,318.5L459.3,319.0L459.3,319.5L459.3,320.0L459.4,320.5L459.4,321.0L459.4,321.5L459.4,322.0L459.5,322.5L459.5,323.0L459.5,323.5L459.6,324.0L459.6,324.5L459.7,325.0L459.7,325.5L459.8,326.0L459.8,326.5L459.9,327.0L459.9,327.5L460.0,328.0L460.1,328.5L460.2,329.0L460.3,329.5L460.4,330.0L460.6,330.5L460.7,331.0L460.9,331.5L461.0,332.0L461.2,332.5L461.3,333.0L461.5,333.5L461.6,334.0L461.8,334.5L461.9,335.0L462.1,335.5L462.2,336.0L462.4,336.5L462.6,337.0L462.8,337.5L463.0,338.0L463.2,338.5L463.4,339.0L463.6,339.5L463.7,340.0L463.9,340.5L464.1,341.0L464.2,341.5L464.3,342.0L464.3,342.5L464.4,343.0L464.4,343.5L464.4,344.0L464.4,344.5L464.4,345.0L464.3,345.5L464.3,346.0L464.2,346.5L464.1,347.0L464.1,347.5L464.0,348.0L463.9,348.5L463.8,349.0L463.7,349.5L463.6,350.0L463.5,350.5L463.3,351.0L463.2,351.5L463.1,352.0L462.9,352.5L462.8,353.0L462.7,353.5L462.5,354.0L462.4,354.5L462.2,355.0L462.1,355.5L461.9,356.0L461.8,356.5L461.6,357.0L461.4,357.5L461.2,358.0L461.1,358.5L460.9,359.0L460.7,359.5L460.5,360.0L460.3,360.5L460.1,361.0L460.0,361.5L459.8,362.0L459.6,362.5L459.4,363.0L459.2,363.5L459.0,364.0L458.8,364.5L458.7,365.0L458.5,365.5L458.3,366.0L458.1,366.5L457.9,367.0L457.7,367.5L457.5,368.0L457.3,368.5L457.1,369.0L456.8,369.5L456.6,370.0L456.4,370.5L456.2,371.0L456.0,371.5L455.7,372.0L455.5,372.5L455.3,373.0L455.1,373.0L454.9,372.5L454.7,372.0L454.4,371.5L454.2,371.0L454.0,370.5L453.8,370.0L453.6,369.5L453.3,369.0L453.1,368.5L452.9,368.0L452.7,367.5L452.5,367.0L452.3,366.5L452.1,366.0L451.9,365.5L451.7,365.0L451.6,364.5L451.4,364.0L451.2,363.5L451.0,363.0L450.8,362.5L450.6,362.0L450.4,361.5L450.3,361.0L450.1,360.5L449.9,360.0L449.7,359.5L449.5,359.0L449.3,358.5L449.2,358.0L449.0,357.5L448.8,357.0L448.6,356.5L448.5,356.0L448.3,355.5L448.2,355.0L448.0,354.5L447.9,354.0L447.7,353.5L447.6,353.0L447.5,352.5L447.3,352.0L447.2,351.5L447.1,351.0L446.9,350.5L446.8,350.0L446.7,349.5L446.6,349.0L446.5,348.5L446.4,348.0L446.3,347.5L446.3,347.0L446.2,346.5L446.1,346.0L446.1,345.5L446.0,345.0L446.0,344.5L446.0,344.0L446.0,343.5L446.0,343.0L446.1,342.5L446.1,342.0L446.2,341.5L446.3,341.0L446.5,340.5L446.7,340.0L446.8,339.5L447.0,339.0L447.2,338.5L447.4,338.0L447.6,337.5L447.8,337.0L448.0,336.5L448.2,336.0L448.3,335.5L448.5,335.0L448.6,334.5L448.8,334.0L448.9,333.5L449.1,333.0L449.2,332.5L449.4,332.0L449.5,331.5L449.7,331.0L449.8,330.5L450.0,330.0L450.1,329.5L450.2,329.0L450.3,328.5L450.4,328.0L450.5,327.5L450.5,327.0L450.6,326.5L450.6,326.0L450.7,325.5L450.7,325.0L450.8,324.5L450.8,324.0L450.9,323.5L450.9,323.0L450.9,322.5L451.0,322.0L451.0,321.5L451.0,321.0L451.0,320.5L451.1,320.0L451.1,319.5L451.1,319.0L451.1,318.5L451.1,318.0L451.1,317.5L451.1,317.0L451.1,316.5L451.0,316.0L451.0,315.5L451.0,315.0L450.9,314.5L450.9,314.0L450.8,313.5L450.8,313.0L450.8,312.5L450.8,312.0L450.8,311.5L450.8,311.0L450.8,310.5L450.8,310.0L450.9,309.5L451.0,309.0L451.1,308.5L451.3,308.0L451.5,307.5L451.7,307.0L451.8,306.5L452.0,306.0L452.1,305.5L452.3,305.0L452.4,304.5L452.5,304.0L452.7,303.5L452.8,303.0L452.9,302.5L453.0,302.0L453.1,301.5L453.2,301.0L453.3,300.5L453.4,300.0L453.5,299.5L453.5,299.0L453.6,298.5L453.6,298.0L453.7,297.5L453.7,297.0L453.7,296.5L453.8,296.0L453.8,295.5L453.8,295.0L453.8,294.5L453.9,294.0L453.9,293.5L453.9,293.0L454.0,292.5L454.0,292.0L454.1,291.5L454.1,291.0L454.2,290.5L454.2,290.0L454.3,289.5L454.3,289.0L454.4,288.5L454.4,288.0L454.5,287.5L454.5,287.0L454.6,286.5L454.6,286.0L454.6,285.5L454.7,285.0L454.7,284.5L454.8,284.0L454.8,283.5L454.8,283.0L454.8,282.5L454.8,282.0L454.8,281.5L454.8,281.0L454.8,280.5L454.8,280.0L454.8,279.5L454.7,279.0L454.7,278.5L454.7,278.0L454.6,277.5L454.6,277.0L454.6,276.5L454.5,276.0L454.5,275.5L454.4,275.0L454.3,274.5L454.3,274.0L454.2,273.5L454.1,273.0L454.1,272.5L454.0,272.0L454.0,271.5L454.0,271.0L454.0,270.5L454.1,270.0L454.1,269.5L454.2,269.0L454.3,268.5L454.4,268.0L454.5,267.5L454.6,267.0L454.7,266.5L454.8,266.0L454.9,265.5L455.0,265.0Z" fill="#c0c0f8"/><line x1="451.12" y1="314.6" x2="459.28" y2="314.6" stroke="#8c8cd8" stroke-width="0.9" stroke-dasharray="2,1"/><line x1="446.76" y1="340.3" x2="463.64" y2="340.3" stroke="#333" stroke-width="1" stroke-dasharray="1.3,1.7"/><line x1="446.69" y1="348.4" x2="463.71" y2="348.4" stroke="#8c8cd8" stroke-width="0.9" stroke-dasharray="2,1"/><path d="M489.5,264.4L490.0,264.9L490.4,265.4L490.6,265.9L490.6,266.4L490.6,266.9L490.7,267.4L490.7,267.9L490.7,268.4L490.7,268.9L490.6,269.4L490.6,269.9L490.6,270.4L490.6,270.9L490.6,271.4L490.6,271.9L490.6,272.4L490.6,272.9L490.6,273.4L490.6,273.9L490.7,274.4L490.7,274.9L490.7,275.4L490.8,275.9L490.9,276.4L490.9,276.9L491.0,277.4L491.1,277.9L491.2,278.4L491.2,278.9L491.3,279.4L491.4,279.9L491.5,280.4L491.5,280.9L491.6,281.4L491.7,281.9L491.7,282.4L491.8,282.9L491.8,283.4L491.9,283.9L491.9,284.4L491.9,284.9L491.9,285.4L491.9,285.9L491.9,286.4L491.8,286.9L491.8,287.4L491.7,287.9L491.7,288.4L491.6,288.9L491.5,289.4L491.5,289.9L491.4,290.4L491.4,290.9L491.4,291.4L491.4,291.9L491.3,292.4L491.3,292.9L491.3,293.4L491.3,293.9L491.3,294.4L491.3,294.9L491.3,295.4L491.3,295.9L491.3,296.4L491.3,296.9L491.3,297.4L491.3,297.9L491.4,298.4L491.4,298.9L491.4,299.4L491.5,299.9L491.5,300.4L491.6,300.9L491.6,301.4L491.7,301.9L491.7,302.4L491.8,302.9L491.8,303.4L491.9,303.9L492.0,304.4L492.0,304.9L492.1,305.4L492.2,305.9L492.2,306.4L492.3,306.9L492.4,307.4L492.5,307.9L492.5,308.4L492.6,308.9L492.7,309.4L492.7,309.9L492.8,310.4L492.9,310.9L492.9,311.4L493.0,311.9L493.1,312.4L493.1,312.9L493.2,313.4L493.2,313.9L493.3,314.4L493.4,314.9L493.4,315.4L493.5,315.9L493.5,316.4L493.6,316.9L493.7,317.4L493.7,317.9L493.8,318.4L493.9,318.9L494.0,319.4L494.0,319.9L494.1,320.4L494.2,320.9L494.3,321.4L494.4,321.9L494.5,322.4L494.6,322.9L494.7,323.4L494.8,323.9L494.9,324.4L495.0,324.9L495.1,325.4L495.2,325.9L495.3,326.4L495.4,326.9L495.5,327.4L495.5,327.9L495.6,328.4L495.6,328.9L495.7,329.4L495.7,329.9L495.8,330.4L495.8,330.9L495.9,331.4L495.9,331.9L496.0,332.4L496.0,332.9L496.1,333.4L496.1,333.9L496.2,334.4L496.3,334.9L496.4,335.4L496.5,335.9L496.6,336.4L496.7,336.9L496.8,337.4L497.0,337.9L497.1,338.4L497.2,338.9L497.4,339.4L497.5,339.9L497.7,340.4L497.8,340.9L497.9,341.4L498.1,341.9L498.2,342.4L498.4,342.9L498.5,343.4L498.7,343.9L498.8,344.4L499.0,344.9L499.2,345.4L499.3,345.9L499.5,346.4L499.6,346.9L499.7,347.4L499.8,347.9L499.9,348.4L499.9,348.9L499.9,349.4L499.9,349.9L499.9,350.4L499.9,350.9L499.9,351.4L499.8,351.9L499.7,352.4L499.7,352.9L499.6,353.4L499.5,353.9L499.4,354.4L499.3,354.9L499.2,355.4L499.0,355.9L498.9,356.4L498.7,356.9L498.5,357.4L498.3,357.9L498.1,358.4L497.9,358.9L497.7,359.4L497.5,359.9L497.3,360.4L497.1,360.9L496.9,361.4L496.6,361.9L496.4,362.4L496.2,362.9L496.0,363.4L495.8,363.9L495.5,364.4L495.3,364.9L495.0,365.4L494.8,365.9L494.6,366.4L494.3,366.9L494.1,367.4L493.8,367.9L493.6,368.4L493.3,368.9L493.1,369.4L492.9,369.9L492.6,370.4L492.4,370.9L492.1,371.4L491.9,371.9L491.6,372.4L491.4,372.9L491.2,373.4L491.0,373.9L490.8,374.4L490.6,374.9L490.4,375.4L490.2,375.9L490.0,376.4L489.8,376.9L489.6,377.4L489.5,377.8L489.5,377.8L489.4,377.4L489.2,376.9L489.0,376.4L488.8,375.9L488.6,375.4L488.4,374.9L488.2,374.4L488.0,373.9L487.8,373.4L487.6,372.9L487.4,372.4L487.1,371.9L486.9,371.4L486.6,370.9L486.4,370.4L486.1,369.9L485.9,369.4L485.7,368.9L485.4,368.4L485.2,367.9L484.9,367.4L484.7,366.9L484.4,366.4L484.2,365.9L484.0,365.4L483.7,364.9L483.5,364.4L483.2,363.9L483.0,363.4L482.8,362.9L482.6,362.4L482.4,361.9L482.1,361.4L481.9,360.9L481.7,360.4L481.5,359.9L481.3,359.4L481.1,358.9L480.9,358.4L480.7,357.9L480.5,357.4L480.3,356.9L480.1,356.4L480.0,355.9L479.8,355.4L479.7,354.9L479.6,354.4L479.5,353.9L479.4,353.4L479.3,352.9L479.3,352.4L479.2,351.9L479.1,351.4L479.1,350.9L479.1,350.4L479.1,349.9L479.1,349.4L479.1,348.9L479.1,348.4L479.2,347.9L479.3,347.4L479.4,346.9L479.5,346.4L479.7,345.9L479.8,345.4L480.0,344.9L480.2,344.4L480.3,343.9L480.5,343.4L480.6,342.9L480.8,342.4L480.9,341.9L481.1,341.4L481.2,340.9L481.3,340.4L481.5,339.9L481.6,339.4L481.8,338.9L481.9,338.4L482.0,337.9L482.2,337.4L482.3,336.9L482.4,336.4L482.5,335.9L482.6,335.4L482.7,334.9L482.8,334.4L482.9,333.9L482.9,333.4L483.0,332.9L483.0,332.4L483.1,331.9L483.1,331.4L483.2,330.9L483.2,330.4L483.3,329.9L483.3,329.4L483.4,328.9L483.4,328.4L483.5,327.9L483.5,327.4L483.6,326.9L483.7,326.4L483.8,325.9L483.9,325.4L484.0,324.9L484.1,324.4L484.2,323.9L484.3,323.4L484.4,322.9L484.5,322.4L484.6,321.9L484.7,321.4L484.8,320.9L484.9,320.4L485.0,319.9L485.0,319.4L485.1,318.9L485.2,318.4L485.3,317.9L485.3,317.4L485.4,316.9L485.5,316.4L485.5,315.9L485.6,315.4L485.6,314.9L485.7,314.4L485.8,313.9L485.8,313.4L485.9,312.9L485.9,312.4L486.0,311.9L486.1,311.4L486.1,310.9L486.2,310.4L486.3,309.9L486.3,309.4L486.4,308.9L486.5,308.4L486.5,307.9L486.6,307.4L486.7,306.9L486.8,306.4L486.8,305.9L486.9,305.4L487.0,304.9L487.0,304.4L487.1,303.9L487.2,303.4L487.2,302.9L487.3,302.4L487.3,301.9L487.4,301.4L487.4,300.9L487.5,300.4L487.5,299.9L487.6,299.4L487.6,298.9L487.6,298.4L487.7,297.9L487.7,297.4L487.7,296.9L487.7,296.4L487.7,295.9L487.7,295.4L487.7,294.9L487.7,294.4L487.7,293.9L487.7,293.4L487.7,292.9L487.7,292.4L487.6,291.9L487.6,291.4L487.6,290.9L487.6,290.4L487.5,289.9L487.5,289.4L487.4,288.9L487.3,288.4L487.3,287.9L487.2,287.4L487.2,286.9L487.1,286.4L487.1,285.9L487.1,285.4L487.1,284.9L487.1,284.4L487.1,283.9L487.2,283.4L487.2,282.9L487.3,282.4L487.3,281.9L487.4,281.4L487.5,280.9L487.5,280.4L487.6,279.9L487.7,279.4L487.8,278.9L487.8,278.4L487.9,277.9L488.0,277.4L488.1,276.9L488.1,276.4L488.2,275.9L488.3,275.4L488.3,274.9L488.3,274.4L488.4,273.9L488.4,273.4L488.4,272.9L488.4,272.4L488.4,271.9L488.4,271.4L488.4,270.9L488.4,270.4L488.4,269.9L488.4,269.4L488.3,268.9L488.3,268.4L488.3,267.9L488.3,267.4L488.4,266.9L488.4,266.4L488.4,265.9L488.6,265.4L489.0,264.9L489.5,264.4Z" fill="#000"/><path d="M489.6,279.9L489.6,280.4L489.7,280.9L489.8,281.4L489.8,281.9L489.9,282.4L490.0,282.9L490.0,283.4L490.0,283.9L490.1,284.4L490.1,284.9L490.1,285.4L490.1,285.9L490.1,286.4L490.0,286.9L490.0,287.4L489.9,287.9L489.8,288.4L489.8,288.9L489.7,289.4L489.7,289.9L489.6,290.4L489.6,290.9L489.6,291.4L489.6,291.9L489.4,291.9L489.4,291.4L489.4,290.9L489.4,290.4L489.3,289.9L489.3,289.4L489.2,288.9L489.2,288.4L489.1,287.9L489.0,287.4L489.0,286.9L488.9,286.4L488.9,285.9L488.9,285.4L488.9,284.9L488.9,284.4L489.0,283.9L489.0,283.4L489.0,282.9L489.1,282.4L489.2,281.9L489.2,281.4L489.3,280.9L489.4,280.4L489.4,279.9Z" fill="#f5c8f8"/><path d="M489.6,298.4L489.6,298.9L489.6,299.4L489.7,299.9L489.7,300.4L489.8,300.9L489.8,301.4L489.9,301.9L489.9,302.4L490.0,302.9L490.0,303.4L490.1,303.9L490.2,304.4L490.2,304.9L490.3,305.4L490.4,305.9L490.4,306.4L490.5,306.9L490.6,307.4L490.6,307.9L490.7,308.4L490.8,308.9L490.9,309.4L490.9,309.9L491.0,310.4L491.1,310.9L491.1,311.4L491.2,311.9L491.2,312.4L491.3,312.9L491.4,313.4L491.4,313.9L491.5,314.4L491.5,314.9L491.6,315.4L491.7,315.9L491.7,316.4L491.8,316.9L491.9,317.4L491.9,317.9L492.0,318.4L492.1,318.9L492.1,319.4L492.2,319.9L492.3,320.4L492.4,320.9L492.5,321.4L492.6,321.9L492.7,322.4L492.8,322.9L492.9,323.4L493.0,323.9L493.1,324.4L493.2,324.9L493.3,325.4L493.4,325.9L493.5,326.4L493.6,326.9L493.6,327.4L493.7,327.9L493.8,328.4L493.8,328.9L493.9,329.4L493.9,329.9L494.0,330.4L494.0,330.9L494.1,331.4L494.1,331.9L494.2,332.4L494.2,332.9L494.3,333.4L494.3,333.9L494.4,334.4L494.5,334.9L494.5,335.4L494.6,335.9L494.7,336.4L494.8,336.9L495.0,337.4L495.1,337.9L495.2,338.4L495.4,338.9L495.5,339.4L495.6,339.9L495.8,340.4L495.9,340.9L496.1,341.4L496.2,341.9L496.3,342.4L496.5,342.9L496.6,343.4L496.8,343.9L496.9,344.4L497.1,344.9L497.3,345.4L497.4,345.9L497.6,346.4L497.7,346.9L497.9,347.4L498.0,347.9L498.0,348.4L498.1,348.9L498.1,349.4L498.1,349.9L498.1,350.4L498.1,350.9L498.1,351.4L498.0,351.9L497.9,352.4L497.8,352.9L497.7,353.4L497.6,353.9L497.5,354.4L497.4,354.9L497.3,355.4L497.2,355.9L497.0,356.4L496.8,356.9L496.6,357.4L496.4,357.9L496.2,358.4L496.0,358.9L495.8,359.4L495.6,359.9L495.3,360.4L495.1,360.9L494.9,361.4L494.7,361.9L494.5,362.4L494.2,362.9L494.0,363.4L493.8,363.9L493.5,364.4L493.3,364.9L493.0,365.4L492.8,365.9L492.6,366.4L492.3,366.9L492.1,367.4L491.8,367.9L491.6,368.4L491.4,368.9L491.1,369.4L490.9,369.9L490.6,370.4L490.4,370.9L490.1,371.4L489.9,371.9L489.7,372.4L489.3,372.4L489.1,371.9L488.9,371.4L488.6,370.9L488.4,370.4L488.1,369.9L487.9,369.4L487.6,368.9L487.4,368.4L487.2,367.9L486.9,367.4L486.7,366.9L486.4,366.4L486.2,365.9L486.0,365.4L485.7,364.9L485.5,364.4L485.2,363.9L485.0,363.4L484.8,362.9L484.5,362.4L484.3,361.9L484.1,361.4L483.9,360.9L483.7,360.4L483.4,359.9L483.2,359.4L483.0,358.9L482.8,358.4L482.6,357.9L482.4,357.4L482.2,356.9L482.0,356.4L481.8,355.9L481.7,355.4L481.6,354.9L481.5,354.4L481.4,353.9L481.3,353.4L481.2,352.9L481.1,352.4L481.0,351.9L480.9,351.4L480.9,350.9L480.9,350.4L480.9,349.9L480.9,349.4L480.9,348.9L481.0,348.4L481.0,347.9L481.1,347.4L481.3,346.9L481.4,346.4L481.6,345.9L481.7,345.4L481.9,344.9L482.1,344.4L482.2,343.9L482.4,343.4L482.5,342.9L482.7,342.4L482.8,341.9L482.9,341.4L483.1,340.9L483.2,340.4L483.4,339.9L483.5,339.4L483.6,338.9L483.8,338.4L483.9,337.9L484.0,337.4L484.2,336.9L484.3,336.4L484.4,335.9L484.5,335.4L484.5,334.9L484.6,334.4L484.7,333.9L484.7,333.4L484.8,332.9L484.8,332.4L484.9,331.9L484.9,331.4L485.0,330.9L485.0,330.4L485.1,329.9L485.1,329.4L485.2,328.9L485.2,328.4L485.3,327.9L485.4,327.4L485.4,326.9L485.5,326.4L485.6,325.9L485.7,325.4L485.8,324.9L485.9,324.4L486.0,323.9L486.1,323.4L486.2,322.9L486.3,322.4L486.4,321.9L486.5,321.4L486.6,320.9L486.7,320.4L486.8,319.9L486.9,319.4L486.9,318.9L487.0,318.4L487.1,317.9L487.1,317.4L487.2,316.9L487.3,316.4L487.3,315.9L487.4,315.4L487.5,314.9L487.5,314.4L487.6,313.9L487.6,313.4L487.7,312.9L487.8,312.4L487.8,311.9L487.9,311.4L487.9,310.9L488.0,310.4L488.1,309.9L488.1,309.4L488.2,308.9L488.3,308.4L488.4,307.9L488.4,307.4L488.5,306.9L488.6,306.4L488.6,305.9L488.7,305.4L488.8,304.9L488.8,304.4L488.9,303.9L489.0,303.4L489.0,302.9L489.1,302.4L489.1,301.9L489.2,301.4L489.2,300.9L489.3,300.4L489.3,299.9L489.4,299.4L489.4,298.9L489.4,298.4Z" fill="#f5c8f8"/><line x1="486.33" y1="323.3" x2="492.67" y2="323.3" stroke="#d890d8" stroke-width="0.9" stroke-dasharray="2,1"/><line x1="481.92" y1="345.4" x2="497.08" y2="345.4" stroke="#333" stroke-width="1" stroke-dasharray="1.3,1.7"/><line x1="481.23" y1="352.1" x2="497.77" y2="352.1" stroke="#d890d8" stroke-width="0.9" stroke-dasharray="2,1"/><path d="M523.6,356.4L524.1,356.9L524.6,357.4L525.0,357.9L525.3,358.4L525.6,358.9L525.9,359.4L526.2,359.9L526.7,360.4L527.2,360.9L527.8,361.4L528.3,361.9L528.8,362.4L529.3,362.9L529.8,363.4L530.3,363.9L530.7,364.4L531.1,364.9L531.5,365.4L531.7,365.9L531.6,366.4L531.4,366.9L531.4,367.4L531.6,367.9L532.4,368.4L533.3,368.9L534.2,369.4L534.8,369.9L534.5,370.4L533.4,370.9L532.1,371.4L530.4,371.9L528.8,372.4L527.8,372.9L526.9,373.4L526.2,373.9L525.7,374.4L525.3,374.9L524.9,375.4L524.4,375.9L523.9,376.4L523.6,376.7L523.6,376.7L523.3,376.4L522.8,375.9L522.3,375.4L521.9,374.9L521.5,374.4L521.0,373.9L520.3,373.4L519.4,372.9L518.4,372.4L516.8,371.9L515.1,371.4L513.8,370.9L512.7,370.4L512.4,369.9L513.0,369.4L513.9,368.9L514.8,368.4L515.6,367.9L515.8,367.4L515.8,366.9L515.6,366.4L515.5,365.9L515.7,365.4L516.1,364.9L516.5,364.4L516.9,363.9L517.4,363.4L517.9,362.9L518.4,362.4L518.9,361.9L519.4,361.4L520.0,360.9L520.5,360.4L521.0,359.9L521.3,359.4L521.6,358.9L521.9,358.4L522.2,357.9L522.6,357.4L523.1,356.9L523.6,356.4Z" fill="#000"/><path d="M523.7,359.4L523.9,359.9L524.2,360.4L524.6,360.9L525.1,361.4L525.7,361.9L526.3,362.4L526.8,362.9L527.3,363.4L527.8,363.9L528.3,364.4L528.9,364.9L529.4,365.4L529.9,365.9L529.7,366.4L529.6,366.9L529.6,367.4L529.0,367.9L528.6,368.4L529.3,368.9L530.9,369.4L532.8,369.9L531.0,370.4L528.4,370.9L526.4,371.4L523.9,371.9L524.0,372.4L523.8,372.9L523.4,372.9L523.2,372.4L523.3,371.9L520.8,371.4L518.8,370.9L516.2,370.4L514.4,369.9L516.3,369.4L517.9,368.9L518.6,368.4L518.2,367.9L517.6,367.4L517.6,366.9L517.5,366.4L517.3,365.9L517.8,365.4L518.3,364.9L518.9,364.4L519.4,363.9L519.9,363.4L520.4,362.9L520.9,362.4L521.5,361.9L522.1,361.4L522.6,360.9L523.0,360.4L523.3,359.9L523.5,359.4Z" fill="#00d000"/><line x1="517.84" y1="367.2" x2="529.36" y2="367.2" stroke="#333" stroke-width="1" stroke-dasharray="1.3,1.7"/></g>
</svg></body></html>
